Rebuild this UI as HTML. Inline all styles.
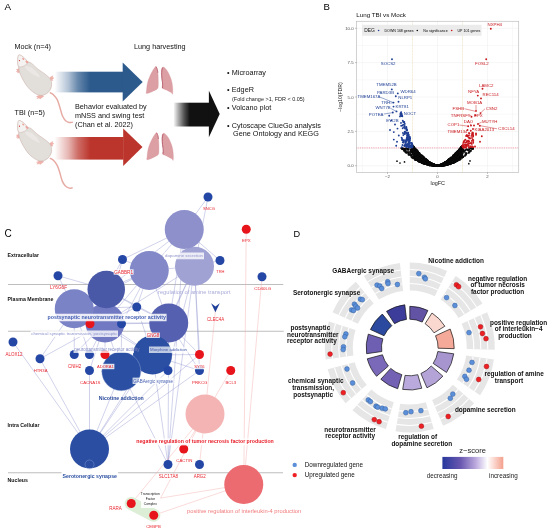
<!DOCTYPE html>
<html lang="en"><head><meta charset="utf-8"><title>Lung TBI vs Mock figure</title>
<style>html,body{margin:0;padding:0;background:#fff;}svg{display:block;font-family:"Liberation Sans",sans-serif;}text{white-space:pre;}</style></head><body>
<svg width="550" height="532" viewBox="0 0 550 532">
<rect width="550" height="532" fill="#fff"/>
<g id="panelA">
<text x="4.50" y="10.20" font-size="9.80" fill="#000">A</text>
<text x="14.50" y="49.00" font-size="7.26" fill="#111">Mock (n=4)</text>
<text x="14.50" y="115.00" font-size="7.26" fill="#111">TBI (n=5)</text>
<text x="134.00" y="49.00" font-size="7.26" fill="#111">Lung harvesting</text>
<text x="75.00" y="109.00" font-size="7.26" fill="#111">Behavior evaluated by</text>
<text x="75.00" y="118.00" font-size="7.26" fill="#111">mNSS and swing test</text>
<text x="75.00" y="127.00" font-size="7.26" fill="#111">(Chan et al. 2022)</text>
<text x="227.00" y="74.50" font-size="7.26" fill="#111">•</text>
<text x="231.75" y="74.50" font-size="7.26" fill="#111">Microarray</text>
<text x="227.00" y="92.00" font-size="7.26" fill="#111">•</text>
<text x="231.75" y="92.00" font-size="7.26" fill="#111">EdgeR</text>
<text x="227.00" y="110.00" font-size="7.26" fill="#111">•</text>
<text x="231.75" y="110.00" font-size="7.26" fill="#111">Volcano plot</text>
<text x="227.00" y="127.50" font-size="7.26" fill="#111">•</text>
<text x="231.75" y="127.50" font-size="7.26" fill="#111">Cytoscape ClueGo analysis</text>
<text x="233.00" y="135.75" font-size="7.26" fill="#111">Gene Ontology and KEGG</text>
<text x="232.00" y="100.75" font-size="5.47" fill="#222">(Fold change &gt;1, FDR &lt; 0.05)</text>
<defs>
<linearGradient id="gb" x1="0" x2="1" y1="0" y2="0"><stop offset="0" stop-color="#2c5a8c" stop-opacity="0"/><stop offset="0.2" stop-color="#2c5a8c" stop-opacity="0.36"/><stop offset="0.34" stop-color="#2c5a8c" stop-opacity="0.72"/><stop offset="0.52" stop-color="#2c5a8c" stop-opacity="1"/></linearGradient>
<linearGradient id="gr" x1="0" x2="1" y1="0" y2="0"><stop offset="0" stop-color="#bb352c" stop-opacity="0"/><stop offset="0.2" stop-color="#bb352c" stop-opacity="0.36"/><stop offset="0.34" stop-color="#bb352c" stop-opacity="0.72"/><stop offset="0.52" stop-color="#bb352c" stop-opacity="1"/></linearGradient>
<linearGradient id="gk" x1="0" x2="1" y1="0" y2="0"><stop offset="0" stop-color="#111" stop-opacity="0"/><stop offset="0.12" stop-color="#111" stop-opacity="0.3"/><stop offset="0.3" stop-color="#111" stop-opacity="0.72"/><stop offset="0.46" stop-color="#111" stop-opacity="1"/></linearGradient>
</defs>
<rect x="54.5" y="71.7" width="68.7" height="20.7" fill="url(#gb)"/>
<polygon points="122.7,62.6 142.7,81.9 122.7,101.4" fill="#2c5a8c"/>
<rect x="54.5" y="137" width="69" height="22.6" fill="url(#gr)"/>
<polygon points="123.2,128.4 142.5,146.9 123.2,166" fill="#bb352c"/>
<rect x="173.3" y="102.7" width="36" height="23.8" fill="url(#gk)"/>
<polygon points="208.9,90.8 219.7,114.1 208.9,137.3" fill="#111"/>
<defs><g id="mouse">
<path d="M50.30,92.80 C50.82,93.12 52.25,93.55 53.40,94.70 C54.55,95.85 56.15,97.70 57.20,99.70 C58.25,101.70 58.85,104.07 59.70,106.70 C60.55,109.33 61.35,113.22 62.30,115.50 C63.25,117.78 64.25,119.23 65.40,120.40 C66.55,121.57 68.05,122.18 69.20,122.50 C70.35,122.82 71.78,122.33 72.30,122.30" fill="none" stroke="#e6aaa3" stroke-width="1.45" stroke-linecap="round"/>
<path d="M19.2,68.6 L16.4,69.6 L17.6,70.4 L16.2,71.6 L18,71.8 L17.6,73 L20,72 Z M49.8,77.6 L52.8,75.8 L52.4,77.6 L54,78 L52.2,79.2 L52.8,80.6 L50.6,80.2 Z M41,94.6 L36.4,96.6 L38.2,97 L36.8,98.6 L39.4,98 L40,99 L43.8,96.2 Z" fill="#f0b2aa" stroke="#e39a92" stroke-width="0.3" stroke-linejoin="round"/>
<path d="M18.80,55.00 C19.60,54.52 21.45,55.77 22.60,56.50 C23.75,57.23 24.87,58.55 25.70,59.40 C26.53,60.25 26.65,60.97 27.60,61.60 C28.55,62.23 29.72,61.98 31.40,63.20 C33.08,64.42 35.18,66.90 37.70,68.90 C40.22,70.90 44.35,73.42 46.50,75.20 C48.65,76.98 49.75,78.13 50.60,79.60 C51.45,81.07 51.55,82.53 51.60,84.00 C51.65,85.47 51.53,86.93 50.90,88.40 C50.27,89.87 49.05,91.68 47.80,92.80 C46.55,93.92 44.77,94.68 43.40,95.10 C42.03,95.52 40.97,95.57 39.60,95.30 C38.23,95.03 36.77,94.43 35.20,93.50 C33.63,92.57 31.67,91.07 30.20,89.70 C28.73,88.33 27.57,86.88 26.40,85.30 C25.23,83.72 24.15,81.88 23.20,80.20 C22.25,78.52 21.38,76.77 20.70,75.20 C20.02,73.63 19.45,72.17 19.10,70.80 C18.75,69.43 18.82,68.15 18.60,67.00 C18.38,65.85 17.93,65.17 17.80,63.90 C17.67,62.63 17.63,60.88 17.80,59.40 C17.97,57.92 18.00,55.48 18.80,55.00 Z" fill="#e2deda" stroke="#c7a9a0" stroke-width="0.5"/>
<path d="M18.80,55.00 C19.60,54.52 21.45,55.77 22.60,56.50 C23.75,57.23 24.87,58.55 25.70,59.40 C26.53,60.25 26.65,60.97 27.60,61.60 C27.2,63.6 26,65 24.5,65.7 C22.8,66.6 20.8,67 19.4,67 C18.7,66.4 17.93,65.17 17.80,63.90 C17.67,62.63 17.63,60.88 17.80,59.40 C17.97,57.92 18.00,55.48 18.80,55.00 Z" fill="#f5f3f1" stroke="#c7a9a0" stroke-width="0.4"/>
<path d="M24.6,66.4 C28,65.6 31,66.6 34,69.4 C37,72.2 39.6,75 40.2,77.4 C37,76.6 33,74.6 30,72.2 C27.4,70.2 25.4,68.4 24.6,66.4 Z" fill="#ebe8e5" opacity="0.9"/>
<ellipse cx="26.9" cy="61.9" rx="1.7" ry="1.05" transform="rotate(42 26.9 61.9)" fill="#eaa69e"/>
<ellipse cx="23.2" cy="58.9" rx="1.3" ry="0.75" transform="rotate(42 23.2 58.9)" fill="#eaa69e"/>
<circle cx="19.5" cy="60.6" r="0.6" fill="#d02828"/>
</g></defs>
<use href="#mouse"/>
<use href="#mouse" transform="translate(0,65.6)"/>
<defs><g id="lungs">
<path d="M155.50,66.70 C154.48,67.48 152.30,71.20 151.00,73.80 C149.70,76.40 148.45,79.48 147.70,82.30 C146.95,85.12 146.67,88.83 146.50,90.70 C146.33,92.57 145.63,93.42 146.70,93.50 C147.77,93.58 151.08,92.05 152.90,91.20 C154.72,90.35 156.70,89.73 157.60,88.40 C158.50,87.07 158.23,85.63 158.30,83.20 C158.37,80.77 158.20,76.15 158.00,73.80 C157.80,71.45 157.52,70.28 157.10,69.10 C156.68,67.92 156.52,65.92 155.50,66.70 Z" fill="#dc9fa4" stroke="#d08a92" stroke-width="0.3"/>
<path d="M162.70,67.20 C162.07,67.67 161.45,69.12 161.30,71.00 C161.15,72.88 161.57,76.47 161.80,78.50 C162.03,80.53 162.62,81.63 162.70,83.20 C162.78,84.77 161.75,86.80 162.30,87.90 C162.85,89.00 164.52,89.02 166.00,89.80 C167.48,90.58 170.10,91.90 171.20,92.60 C172.30,93.30 172.37,94.93 172.60,94.00 C172.83,93.07 172.83,89.43 172.60,87.00 C172.37,84.57 171.98,81.92 171.20,79.40 C170.42,76.88 168.92,73.77 167.90,71.90 C166.88,70.03 165.97,68.98 165.10,68.20 C164.23,67.42 163.33,66.73 162.70,67.20 Z" fill="#dc9fa4" stroke="#d08a92" stroke-width="0.3"/>
<path d="M156.2,66.9 C157.2,68.6 157.7,70.4 157.8,72.4" stroke="#b8606e" stroke-width="0.8" fill="none" stroke-linecap="round"/>
<path d="M162.4,68 C161.5,70.6 161.6,74 161.9,78.5 C162.1,81 162.9,83.4 162.7,85.2 C162.6,86.6 162.3,87.4 162.4,87.8" stroke="#b8606e" stroke-width="0.9" fill="none" stroke-linecap="round"/>
</g></defs>
<use href="#lungs"/>
<use href="#lungs" transform="translate(0.6,66.2)"/>
</g>
<g id="panelB">
<text x="323.60" y="10.20" font-size="9.60" fill="#000">B</text>
<text x="356.25" y="16.75" font-size="6.23" fill="#111">Lung TBI vs Mock</text>
<rect x="356.5" y="21.25" width="162.25" height="151.25" fill="#fff" stroke="none"/>
<line x1="362.5" x2="362.5" y1="21.25" y2="172.5" stroke="#ececec" stroke-width="0.3"/>
<line x1="387.5" x2="387.5" y1="21.25" y2="172.5" stroke="#ececec" stroke-width="0.5"/>
<line x1="412.5" x2="412.5" y1="21.25" y2="172.5" stroke="#ececec" stroke-width="0.3"/>
<line x1="437.5" x2="437.5" y1="21.25" y2="172.5" stroke="#ececec" stroke-width="0.5"/>
<line x1="462.5" x2="462.5" y1="21.25" y2="172.5" stroke="#ececec" stroke-width="0.3"/>
<line x1="487.5" x2="487.5" y1="21.25" y2="172.5" stroke="#ececec" stroke-width="0.5"/>
<line x1="512.5" x2="512.5" y1="21.25" y2="172.5" stroke="#ececec" stroke-width="0.3"/>
<line x1="356.5" x2="518.75" y1="165.75" y2="165.75" stroke="#ececec" stroke-width="0.5"/>
<line x1="356.5" x2="518.75" y1="148.56" y2="148.56" stroke="#ececec" stroke-width="0.3"/>
<line x1="356.5" x2="518.75" y1="131.38" y2="131.38" stroke="#ececec" stroke-width="0.5"/>
<line x1="356.5" x2="518.75" y1="114.19" y2="114.19" stroke="#ececec" stroke-width="0.3"/>
<line x1="356.5" x2="518.75" y1="97.00" y2="97.00" stroke="#ececec" stroke-width="0.5"/>
<line x1="356.5" x2="518.75" y1="79.81" y2="79.81" stroke="#ececec" stroke-width="0.3"/>
<line x1="356.5" x2="518.75" y1="62.62" y2="62.62" stroke="#ececec" stroke-width="0.5"/>
<line x1="356.5" x2="518.75" y1="45.44" y2="45.44" stroke="#ececec" stroke-width="0.3"/>
<line x1="356.5" x2="518.75" y1="28.25" y2="28.25" stroke="#ececec" stroke-width="0.5"/>
<line x1="412.5" x2="412.5" y1="21.25" y2="172.5" stroke="#e8c050" stroke-width="0.45" stroke-dasharray="0.6 0.9" stroke-opacity="0.8"/>
<line x1="462.5" x2="462.5" y1="21.25" y2="172.5" stroke="#e8c050" stroke-width="0.45" stroke-dasharray="0.6 0.9" stroke-opacity="0.8"/>
<line x1="356.5" x2="518.75" y1="147.88" y2="147.88" stroke="#e8506a" stroke-width="0.6" stroke-dasharray="0.9 0.9"/>
<g fill="#0a0a0a">
<circle cx="422.2" cy="156.3" r="0.85"/><circle cx="423.0" cy="159.3" r="0.85"/><circle cx="443.5" cy="163.8" r="0.85"/><circle cx="439.0" cy="165.7" r="0.85"/><circle cx="456.7" cy="154.6" r="0.85"/><circle cx="446.7" cy="161.4" r="0.85"/><circle cx="423.3" cy="162.2" r="0.85"/><circle cx="438.9" cy="165.6" r="0.85"/><circle cx="446.2" cy="165.1" r="0.85"/><circle cx="440.5" cy="165.1" r="0.85"/><circle cx="435.4" cy="165.5" r="0.85"/><circle cx="425.7" cy="162.1" r="0.85"/><circle cx="436.9" cy="165.5" r="0.85"/><circle cx="427.0" cy="163.6" r="0.85"/><circle cx="442.1" cy="164.7" r="0.85"/><circle cx="451.7" cy="160.6" r="0.85"/><circle cx="431.2" cy="165.3" r="0.85"/><circle cx="444.1" cy="164.1" r="0.85"/><circle cx="445.3" cy="162.8" r="0.85"/><circle cx="442.8" cy="164.5" r="0.85"/><circle cx="432.8" cy="165.4" r="0.85"/><circle cx="443.3" cy="165.3" r="0.85"/><circle cx="430.0" cy="163.7" r="0.85"/><circle cx="440.1" cy="164.9" r="0.85"/><circle cx="450.7" cy="163.3" r="0.85"/><circle cx="441.6" cy="164.9" r="0.85"/><circle cx="433.4" cy="165.1" r="0.85"/><circle cx="431.8" cy="164.5" r="0.85"/><circle cx="423.3" cy="162.7" r="0.85"/><circle cx="436.9" cy="165.6" r="0.85"/><circle cx="426.4" cy="163.0" r="0.85"/><circle cx="439.9" cy="165.2" r="0.85"/><circle cx="454.4" cy="159.9" r="0.85"/><circle cx="446.7" cy="163.4" r="0.85"/><circle cx="426.2" cy="163.2" r="0.85"/><circle cx="460.0" cy="150.1" r="0.85"/><circle cx="445.6" cy="162.6" r="0.85"/><circle cx="434.5" cy="164.5" r="0.85"/><circle cx="426.0" cy="162.2" r="0.85"/><circle cx="439.6" cy="165.0" r="0.85"/><circle cx="457.0" cy="158.7" r="0.85"/><circle cx="422.4" cy="161.0" r="0.85"/><circle cx="455.3" cy="161.5" r="0.85"/><circle cx="453.4" cy="156.5" r="0.85"/><circle cx="430.8" cy="163.0" r="0.85"/><circle cx="439.7" cy="165.6" r="0.85"/><circle cx="439.0" cy="165.8" r="0.85"/><circle cx="449.5" cy="163.8" r="0.85"/><circle cx="457.5" cy="151.2" r="0.85"/><circle cx="421.5" cy="158.3" r="0.85"/><circle cx="440.1" cy="165.4" r="0.85"/><circle cx="427.1" cy="160.1" r="0.85"/><circle cx="439.9" cy="165.4" r="0.85"/><circle cx="426.6" cy="159.6" r="0.85"/><circle cx="444.7" cy="163.0" r="0.85"/><circle cx="425.5" cy="160.3" r="0.85"/><circle cx="426.2" cy="159.7" r="0.85"/><circle cx="446.5" cy="162.2" r="0.85"/><circle cx="448.2" cy="161.9" r="0.85"/><circle cx="425.3" cy="160.6" r="0.85"/><circle cx="453.1" cy="155.4" r="0.85"/><circle cx="452.2" cy="160.9" r="0.85"/><circle cx="436.0" cy="165.8" r="0.85"/><circle cx="440.3" cy="165.1" r="0.85"/><circle cx="454.2" cy="158.6" r="0.85"/><circle cx="439.9" cy="165.0" r="0.85"/><circle cx="416.3" cy="157.9" r="0.85"/><circle cx="448.1" cy="161.5" r="0.85"/><circle cx="439.7" cy="164.9" r="0.85"/><circle cx="430.3" cy="162.9" r="0.85"/><circle cx="428.9" cy="164.1" r="0.85"/><circle cx="417.0" cy="151.0" r="0.85"/><circle cx="446.5" cy="162.9" r="0.85"/><circle cx="434.8" cy="165.1" r="0.85"/><circle cx="450.1" cy="160.3" r="0.85"/><circle cx="447.1" cy="164.2" r="0.85"/><circle cx="428.0" cy="163.9" r="0.85"/><circle cx="422.5" cy="159.6" r="0.85"/><circle cx="428.0" cy="160.6" r="0.85"/><circle cx="432.8" cy="165.5" r="0.85"/><circle cx="440.0" cy="165.2" r="0.85"/><circle cx="427.8" cy="161.6" r="0.85"/><circle cx="444.2" cy="164.2" r="0.85"/><circle cx="460.7" cy="156.3" r="0.85"/><circle cx="440.0" cy="165.2" r="0.85"/><circle cx="420.9" cy="157.2" r="0.85"/><circle cx="448.6" cy="161.6" r="0.85"/><circle cx="441.9" cy="165.1" r="0.85"/><circle cx="451.6" cy="158.9" r="0.85"/><circle cx="441.8" cy="164.9" r="0.85"/><circle cx="432.6" cy="164.7" r="0.85"/><circle cx="438.0" cy="165.7" r="0.85"/><circle cx="441.9" cy="164.2" r="0.85"/><circle cx="436.4" cy="165.6" r="0.85"/><circle cx="418.2" cy="158.0" r="0.85"/><circle cx="414.2" cy="149.6" r="0.85"/><circle cx="450.6" cy="160.1" r="0.85"/><circle cx="443.1" cy="163.5" r="0.85"/><circle cx="425.0" cy="163.1" r="0.85"/><circle cx="416.9" cy="150.8" r="0.85"/><circle cx="432.4" cy="164.6" r="0.85"/><circle cx="424.3" cy="161.6" r="0.85"/><circle cx="444.2" cy="163.9" r="0.85"/><circle cx="423.1" cy="163.3" r="0.85"/><circle cx="433.3" cy="164.4" r="0.85"/><circle cx="447.5" cy="161.3" r="0.85"/><circle cx="443.0" cy="164.5" r="0.85"/><circle cx="413.9" cy="150.2" r="0.85"/><circle cx="432.6" cy="163.8" r="0.85"/><circle cx="442.1" cy="164.8" r="0.85"/><circle cx="457.1" cy="155.3" r="0.85"/><circle cx="434.1" cy="165.1" r="0.85"/><circle cx="448.8" cy="160.1" r="0.85"/><circle cx="432.5" cy="163.8" r="0.85"/><circle cx="434.5" cy="165.0" r="0.85"/><circle cx="452.3" cy="159.9" r="0.85"/><circle cx="435.7" cy="165.3" r="0.85"/><circle cx="436.2" cy="165.6" r="0.85"/><circle cx="431.9" cy="163.8" r="0.85"/><circle cx="443.8" cy="164.0" r="0.85"/><circle cx="429.9" cy="164.5" r="0.85"/><circle cx="438.6" cy="165.4" r="0.85"/><circle cx="412.9" cy="152.2" r="0.85"/><circle cx="444.9" cy="163.3" r="0.85"/><circle cx="434.5" cy="164.8" r="0.85"/><circle cx="438.7" cy="165.7" r="0.85"/><circle cx="427.3" cy="163.2" r="0.85"/><circle cx="433.5" cy="164.4" r="0.85"/><circle cx="447.9" cy="163.4" r="0.85"/><circle cx="452.0" cy="160.6" r="0.85"/><circle cx="446.6" cy="162.9" r="0.85"/><circle cx="444.6" cy="163.7" r="0.85"/><circle cx="425.8" cy="160.2" r="0.85"/><circle cx="421.6" cy="161.1" r="0.85"/><circle cx="414.7" cy="148.9" r="0.85"/><circle cx="447.5" cy="160.7" r="0.85"/><circle cx="442.6" cy="165.2" r="0.85"/><circle cx="436.1" cy="165.8" r="0.85"/><circle cx="444.0" cy="163.6" r="0.85"/><circle cx="446.4" cy="162.3" r="0.85"/><circle cx="445.8" cy="162.8" r="0.85"/><circle cx="420.1" cy="161.7" r="0.85"/><circle cx="436.7" cy="165.6" r="0.85"/><circle cx="430.1" cy="165.0" r="0.85"/><circle cx="439.6" cy="165.6" r="0.85"/><circle cx="436.0" cy="165.6" r="0.85"/><circle cx="445.2" cy="162.1" r="0.85"/><circle cx="435.8" cy="165.2" r="0.85"/><circle cx="449.2" cy="161.9" r="0.85"/><circle cx="426.4" cy="162.4" r="0.85"/><circle cx="436.2" cy="165.1" r="0.85"/><circle cx="439.1" cy="165.2" r="0.85"/><circle cx="450.0" cy="160.0" r="0.85"/><circle cx="442.1" cy="165.3" r="0.85"/><circle cx="437.3" cy="165.4" r="0.85"/><circle cx="419.0" cy="154.0" r="0.85"/><circle cx="428.3" cy="163.2" r="0.85"/><circle cx="436.5" cy="165.4" r="0.85"/><circle cx="436.7" cy="165.8" r="0.85"/><circle cx="415.4" cy="149.6" r="0.85"/><circle cx="430.2" cy="163.4" r="0.85"/><circle cx="420.9" cy="161.9" r="0.85"/><circle cx="429.8" cy="165.0" r="0.85"/><circle cx="426.5" cy="161.3" r="0.85"/><circle cx="440.9" cy="164.4" r="0.85"/><circle cx="427.9" cy="162.3" r="0.85"/><circle cx="425.3" cy="158.8" r="0.85"/><circle cx="425.3" cy="160.3" r="0.85"/><circle cx="440.2" cy="165.2" r="0.85"/><circle cx="436.8" cy="165.8" r="0.85"/><circle cx="445.3" cy="163.9" r="0.85"/><circle cx="445.2" cy="162.3" r="0.85"/><circle cx="423.3" cy="157.2" r="0.85"/><circle cx="420.6" cy="157.2" r="0.85"/><circle cx="432.9" cy="164.6" r="0.85"/><circle cx="433.7" cy="164.3" r="0.85"/><circle cx="449.4" cy="163.6" r="0.85"/><circle cx="438.0" cy="165.5" r="0.85"/><circle cx="433.1" cy="164.9" r="0.85"/><circle cx="430.6" cy="164.7" r="0.85"/><circle cx="424.2" cy="162.1" r="0.85"/><circle cx="427.3" cy="164.6" r="0.85"/><circle cx="441.2" cy="165.4" r="0.85"/><circle cx="425.1" cy="159.1" r="0.85"/><circle cx="433.5" cy="164.2" r="0.85"/><circle cx="435.8" cy="165.4" r="0.85"/><circle cx="443.6" cy="163.2" r="0.85"/><circle cx="452.7" cy="156.4" r="0.85"/><circle cx="423.7" cy="157.2" r="0.85"/><circle cx="422.0" cy="162.4" r="0.85"/><circle cx="427.8" cy="163.7" r="0.85"/><circle cx="442.4" cy="165.6" r="0.85"/><circle cx="444.0" cy="164.3" r="0.85"/><circle cx="454.0" cy="159.3" r="0.85"/><circle cx="422.4" cy="155.7" r="0.85"/><circle cx="431.5" cy="164.6" r="0.85"/><circle cx="454.8" cy="155.8" r="0.85"/><circle cx="429.2" cy="164.3" r="0.85"/><circle cx="422.7" cy="159.4" r="0.85"/><circle cx="422.0" cy="161.6" r="0.85"/><circle cx="459.7" cy="159.6" r="0.85"/><circle cx="446.7" cy="163.2" r="0.85"/><circle cx="433.3" cy="164.9" r="0.85"/><circle cx="442.3" cy="164.4" r="0.85"/><circle cx="420.7" cy="159.6" r="0.85"/><circle cx="429.0" cy="163.8" r="0.85"/><circle cx="436.7" cy="165.8" r="0.85"/><circle cx="454.1" cy="157.3" r="0.85"/><circle cx="438.5" cy="165.7" r="0.85"/><circle cx="436.3" cy="165.2" r="0.85"/><circle cx="416.1" cy="157.2" r="0.85"/><circle cx="417.8" cy="152.1" r="0.85"/><circle cx="426.7" cy="164.0" r="0.85"/><circle cx="441.1" cy="165.6" r="0.85"/><circle cx="424.3" cy="159.8" r="0.85"/><circle cx="431.0" cy="164.8" r="0.85"/><circle cx="441.7" cy="165.2" r="0.85"/><circle cx="430.8" cy="163.3" r="0.85"/><circle cx="436.1" cy="165.4" r="0.85"/><circle cx="435.7" cy="165.8" r="0.85"/><circle cx="433.4" cy="164.6" r="0.85"/><circle cx="427.3" cy="162.7" r="0.85"/><circle cx="427.4" cy="163.7" r="0.85"/><circle cx="454.7" cy="154.8" r="0.85"/><circle cx="449.3" cy="162.5" r="0.85"/><circle cx="447.0" cy="163.2" r="0.85"/><circle cx="452.6" cy="157.8" r="0.85"/><circle cx="431.5" cy="164.0" r="0.85"/><circle cx="456.4" cy="153.3" r="0.85"/><circle cx="440.1" cy="165.5" r="0.85"/><circle cx="433.1" cy="164.3" r="0.85"/><circle cx="419.1" cy="161.6" r="0.85"/><circle cx="431.1" cy="164.9" r="0.85"/><circle cx="447.5" cy="160.6" r="0.85"/><circle cx="446.5" cy="164.4" r="0.85"/><circle cx="419.4" cy="159.7" r="0.85"/><circle cx="458.4" cy="154.9" r="0.85"/><circle cx="425.0" cy="161.9" r="0.85"/><circle cx="433.8" cy="165.4" r="0.85"/><circle cx="432.9" cy="164.2" r="0.85"/><circle cx="431.0" cy="163.5" r="0.85"/><circle cx="416.3" cy="151.4" r="0.85"/><circle cx="414.9" cy="148.4" r="0.85"/><circle cx="425.8" cy="160.5" r="0.85"/><circle cx="425.1" cy="161.6" r="0.85"/><circle cx="453.8" cy="155.0" r="0.85"/><circle cx="442.8" cy="165.3" r="0.85"/><circle cx="442.2" cy="163.8" r="0.85"/><circle cx="441.4" cy="165.7" r="0.85"/><circle cx="420.2" cy="160.6" r="0.85"/><circle cx="442.8" cy="164.4" r="0.85"/><circle cx="435.7" cy="165.6" r="0.85"/><circle cx="445.5" cy="164.4" r="0.85"/><circle cx="421.1" cy="160.8" r="0.85"/><circle cx="446.8" cy="164.2" r="0.85"/><circle cx="426.7" cy="161.9" r="0.85"/><circle cx="424.5" cy="162.0" r="0.85"/><circle cx="419.5" cy="159.4" r="0.85"/><circle cx="428.3" cy="163.1" r="0.85"/><circle cx="441.4" cy="164.3" r="0.85"/><circle cx="425.8" cy="161.7" r="0.85"/><circle cx="436.5" cy="165.4" r="0.85"/><circle cx="429.8" cy="165.3" r="0.85"/><circle cx="439.6" cy="165.2" r="0.85"/><circle cx="420.9" cy="161.2" r="0.85"/><circle cx="446.7" cy="163.7" r="0.85"/><circle cx="426.5" cy="161.3" r="0.85"/><circle cx="437.1" cy="165.4" r="0.85"/><circle cx="454.9" cy="162.1" r="0.85"/><circle cx="415.7" cy="150.7" r="0.85"/><circle cx="442.4" cy="164.1" r="0.85"/><circle cx="445.7" cy="163.3" r="0.85"/><circle cx="432.9" cy="164.3" r="0.85"/><circle cx="458.3" cy="156.1" r="0.85"/><circle cx="434.8" cy="164.9" r="0.85"/><circle cx="452.6" cy="159.2" r="0.85"/><circle cx="457.2" cy="158.1" r="0.85"/><circle cx="442.1" cy="165.4" r="0.85"/><circle cx="441.6" cy="165.2" r="0.85"/><circle cx="432.0" cy="165.2" r="0.85"/><circle cx="445.3" cy="162.6" r="0.85"/><circle cx="435.9" cy="165.6" r="0.85"/><circle cx="428.6" cy="162.9" r="0.85"/><circle cx="438.0" cy="165.4" r="0.85"/><circle cx="429.4" cy="163.2" r="0.85"/><circle cx="449.3" cy="161.5" r="0.85"/><circle cx="448.3" cy="162.8" r="0.85"/><circle cx="429.2" cy="164.4" r="0.85"/><circle cx="426.4" cy="160.2" r="0.85"/><circle cx="429.8" cy="164.1" r="0.85"/><circle cx="432.6" cy="165.0" r="0.85"/><circle cx="448.0" cy="161.3" r="0.85"/><circle cx="449.0" cy="160.2" r="0.85"/><circle cx="434.5" cy="165.4" r="0.85"/><circle cx="442.9" cy="164.3" r="0.85"/><circle cx="449.9" cy="162.0" r="0.85"/><circle cx="436.2" cy="165.3" r="0.85"/><circle cx="426.4" cy="162.9" r="0.85"/><circle cx="438.7" cy="165.7" r="0.85"/><circle cx="442.0" cy="164.9" r="0.85"/><circle cx="448.6" cy="162.8" r="0.85"/><circle cx="434.0" cy="165.3" r="0.85"/><circle cx="415.5" cy="150.6" r="0.85"/><circle cx="431.9" cy="164.0" r="0.85"/><circle cx="450.4" cy="162.0" r="0.85"/><circle cx="430.6" cy="163.4" r="0.85"/><circle cx="452.5" cy="158.2" r="0.85"/><circle cx="441.7" cy="164.4" r="0.85"/><circle cx="431.7" cy="165.4" r="0.85"/><circle cx="438.1" cy="165.2" r="0.85"/><circle cx="423.8" cy="161.0" r="0.85"/><circle cx="431.2" cy="163.1" r="0.85"/><circle cx="455.3" cy="157.0" r="0.85"/><circle cx="422.6" cy="161.5" r="0.85"/><circle cx="416.5" cy="151.8" r="0.85"/><circle cx="433.7" cy="164.7" r="0.85"/><circle cx="438.4" cy="165.1" r="0.85"/><circle cx="443.7" cy="165.0" r="0.85"/><circle cx="445.2" cy="162.2" r="0.85"/><circle cx="454.5" cy="160.0" r="0.85"/><circle cx="427.8" cy="163.5" r="0.85"/><circle cx="418.6" cy="161.6" r="0.85"/><circle cx="441.9" cy="165.1" r="0.85"/><circle cx="425.2" cy="163.0" r="0.85"/><circle cx="427.8" cy="162.5" r="0.85"/><circle cx="428.7" cy="164.6" r="0.85"/><circle cx="434.2" cy="164.7" r="0.85"/><circle cx="426.1" cy="162.5" r="0.85"/><circle cx="423.9" cy="159.2" r="0.85"/><circle cx="437.7" cy="165.7" r="0.85"/><circle cx="450.4" cy="161.9" r="0.85"/><circle cx="422.7" cy="156.9" r="0.85"/><circle cx="422.5" cy="160.2" r="0.85"/><circle cx="446.6" cy="164.8" r="0.85"/><circle cx="433.4" cy="165.0" r="0.85"/><circle cx="420.4" cy="160.1" r="0.85"/><circle cx="433.5" cy="165.5" r="0.85"/><circle cx="423.5" cy="161.0" r="0.85"/><circle cx="455.7" cy="157.0" r="0.85"/><circle cx="438.2" cy="165.4" r="0.85"/><circle cx="437.9" cy="165.4" r="0.85"/><circle cx="455.6" cy="154.2" r="0.85"/><circle cx="417.6" cy="158.7" r="0.85"/><circle cx="437.2" cy="165.7" r="0.85"/><circle cx="455.5" cy="160.7" r="0.85"/><circle cx="430.3" cy="165.2" r="0.85"/><circle cx="448.0" cy="162.7" r="0.85"/><circle cx="447.7" cy="161.3" r="0.85"/><circle cx="444.6" cy="163.6" r="0.85"/><circle cx="438.4" cy="165.5" r="0.85"/><circle cx="451.2" cy="157.5" r="0.85"/><circle cx="435.5" cy="165.7" r="0.85"/><circle cx="444.1" cy="163.4" r="0.85"/><circle cx="428.9" cy="164.2" r="0.85"/><circle cx="442.8" cy="164.9" r="0.85"/><circle cx="440.4" cy="165.6" r="0.85"/><circle cx="435.9" cy="165.4" r="0.85"/><circle cx="451.0" cy="163.2" r="0.85"/><circle cx="427.7" cy="163.4" r="0.85"/><circle cx="445.3" cy="164.1" r="0.85"/><circle cx="435.5" cy="165.7" r="0.85"/><circle cx="439.2" cy="165.0" r="0.85"/><circle cx="424.7" cy="158.6" r="0.85"/><circle cx="429.9" cy="164.4" r="0.85"/><circle cx="454.1" cy="160.5" r="0.85"/><circle cx="434.0" cy="164.6" r="0.85"/><circle cx="423.2" cy="159.9" r="0.85"/><circle cx="453.7" cy="160.5" r="0.85"/><circle cx="437.4" cy="165.4" r="0.85"/><circle cx="432.9" cy="164.8" r="0.85"/><circle cx="434.6" cy="165.3" r="0.85"/><circle cx="415.1" cy="159.7" r="0.85"/><circle cx="442.5" cy="164.6" r="0.85"/><circle cx="431.2" cy="165.2" r="0.85"/><circle cx="431.3" cy="164.8" r="0.85"/><circle cx="419.2" cy="157.5" r="0.85"/><circle cx="436.6" cy="165.8" r="0.85"/><circle cx="433.5" cy="165.4" r="0.85"/><circle cx="430.1" cy="163.5" r="0.85"/><circle cx="450.9" cy="158.9" r="0.85"/><circle cx="416.0" cy="157.7" r="0.85"/><circle cx="438.1" cy="165.6" r="0.85"/><circle cx="437.5" cy="165.6" r="0.85"/><circle cx="421.6" cy="156.2" r="0.85"/><circle cx="444.0" cy="165.5" r="0.85"/><circle cx="437.8" cy="165.6" r="0.85"/><circle cx="459.8" cy="158.7" r="0.85"/><circle cx="428.6" cy="162.9" r="0.85"/><circle cx="428.6" cy="164.4" r="0.85"/><circle cx="440.9" cy="165.5" r="0.85"/><circle cx="427.0" cy="163.5" r="0.85"/><circle cx="434.7" cy="164.9" r="0.85"/><circle cx="445.9" cy="164.6" r="0.85"/><circle cx="415.6" cy="150.8" r="0.85"/><circle cx="442.3" cy="164.8" r="0.85"/><circle cx="451.5" cy="158.6" r="0.85"/><circle cx="444.5" cy="164.1" r="0.85"/><circle cx="437.4" cy="165.7" r="0.85"/><circle cx="442.8" cy="164.8" r="0.85"/><circle cx="433.6" cy="165.3" r="0.85"/><circle cx="446.4" cy="162.2" r="0.85"/><circle cx="428.5" cy="164.1" r="0.85"/><circle cx="434.5" cy="165.1" r="0.85"/><circle cx="432.6" cy="164.7" r="0.85"/><circle cx="435.5" cy="165.8" r="0.85"/><circle cx="447.9" cy="164.6" r="0.85"/><circle cx="453.5" cy="156.5" r="0.85"/><circle cx="423.4" cy="160.9" r="0.85"/><circle cx="452.5" cy="160.5" r="0.85"/><circle cx="429.0" cy="163.7" r="0.85"/><circle cx="451.9" cy="162.3" r="0.85"/><circle cx="445.8" cy="163.6" r="0.85"/><circle cx="450.2" cy="158.5" r="0.85"/><circle cx="415.0" cy="157.3" r="0.85"/><circle cx="440.8" cy="165.0" r="0.85"/><circle cx="445.1" cy="165.1" r="0.85"/><circle cx="446.4" cy="163.2" r="0.85"/><circle cx="428.3" cy="164.0" r="0.85"/><circle cx="443.0" cy="163.8" r="0.85"/><circle cx="453.9" cy="156.9" r="0.85"/><circle cx="436.1" cy="165.6" r="0.85"/><circle cx="441.0" cy="164.8" r="0.85"/><circle cx="456.6" cy="156.3" r="0.85"/><circle cx="441.7" cy="165.1" r="0.85"/><circle cx="439.3" cy="165.2" r="0.85"/><circle cx="439.6" cy="165.5" r="0.85"/><circle cx="435.7" cy="165.3" r="0.85"/><circle cx="457.6" cy="154.1" r="0.85"/><circle cx="444.3" cy="164.6" r="0.85"/><circle cx="425.1" cy="161.8" r="0.85"/><circle cx="430.8" cy="164.7" r="0.85"/><circle cx="444.7" cy="164.9" r="0.85"/><circle cx="440.2" cy="165.0" r="0.85"/><circle cx="432.0" cy="163.3" r="0.85"/><circle cx="441.5" cy="164.4" r="0.85"/><circle cx="461.7" cy="155.7" r="0.85"/><circle cx="433.8" cy="165.2" r="0.85"/><circle cx="434.1" cy="165.2" r="0.85"/><circle cx="430.6" cy="164.3" r="0.85"/><circle cx="444.4" cy="163.9" r="0.85"/><circle cx="446.7" cy="163.7" r="0.85"/><circle cx="447.0" cy="163.0" r="0.85"/><circle cx="447.1" cy="161.7" r="0.85"/><circle cx="419.2" cy="161.8" r="0.85"/><circle cx="428.3" cy="164.5" r="0.85"/><circle cx="434.0" cy="165.0" r="0.85"/><circle cx="425.4" cy="162.6" r="0.85"/><circle cx="437.4" cy="165.6" r="0.85"/><circle cx="450.1" cy="162.7" r="0.85"/><circle cx="433.6" cy="165.1" r="0.85"/><circle cx="414.2" cy="155.1" r="0.85"/><circle cx="423.7" cy="159.0" r="0.85"/><circle cx="425.0" cy="161.9" r="0.85"/><circle cx="442.6" cy="163.9" r="0.85"/><circle cx="429.1" cy="161.9" r="0.85"/><circle cx="439.1" cy="165.5" r="0.85"/><circle cx="448.5" cy="159.7" r="0.85"/><circle cx="444.1" cy="164.8" r="0.85"/><circle cx="429.2" cy="165.3" r="0.85"/><circle cx="434.1" cy="165.7" r="0.85"/><circle cx="438.2" cy="165.7" r="0.85"/><circle cx="426.2" cy="160.1" r="0.85"/><circle cx="435.3" cy="165.3" r="0.85"/><circle cx="430.4" cy="163.4" r="0.85"/><circle cx="419.6" cy="153.4" r="0.85"/><circle cx="430.9" cy="164.1" r="0.85"/><circle cx="438.4" cy="165.7" r="0.85"/><circle cx="457.8" cy="155.4" r="0.85"/><circle cx="446.9" cy="163.5" r="0.85"/><circle cx="451.0" cy="162.9" r="0.85"/><circle cx="439.3" cy="165.7" r="0.85"/><circle cx="431.6" cy="164.4" r="0.85"/><circle cx="423.3" cy="162.2" r="0.85"/><circle cx="418.7" cy="161.1" r="0.85"/><circle cx="452.4" cy="157.9" r="0.85"/><circle cx="449.9" cy="162.7" r="0.85"/><circle cx="426.6" cy="162.9" r="0.85"/><circle cx="413.5" cy="148.5" r="0.85"/><circle cx="432.1" cy="164.4" r="0.85"/><circle cx="421.0" cy="156.1" r="0.85"/><circle cx="446.1" cy="162.7" r="0.85"/><circle cx="445.4" cy="165.5" r="0.85"/><circle cx="422.3" cy="155.9" r="0.85"/><circle cx="451.7" cy="160.9" r="0.85"/><circle cx="428.3" cy="161.3" r="0.85"/><circle cx="437.2" cy="165.5" r="0.85"/><circle cx="440.0" cy="165.5" r="0.85"/><circle cx="445.6" cy="164.9" r="0.85"/><circle cx="423.7" cy="161.3" r="0.85"/><circle cx="429.3" cy="162.0" r="0.85"/><circle cx="434.9" cy="165.0" r="0.85"/><circle cx="440.9" cy="165.8" r="0.85"/><circle cx="432.1" cy="164.2" r="0.85"/><circle cx="442.2" cy="165.3" r="0.85"/><circle cx="446.2" cy="163.3" r="0.85"/><circle cx="445.5" cy="164.9" r="0.85"/><circle cx="431.1" cy="163.9" r="0.85"/><circle cx="436.1" cy="165.4" r="0.85"/><circle cx="431.1" cy="165.1" r="0.85"/><circle cx="461.8" cy="154.4" r="0.85"/><circle cx="444.5" cy="163.9" r="0.85"/><circle cx="445.9" cy="162.1" r="0.85"/><circle cx="424.6" cy="159.2" r="0.85"/><circle cx="434.1" cy="165.0" r="0.85"/><circle cx="427.9" cy="163.9" r="0.85"/><circle cx="460.7" cy="147.4" r="0.85"/><circle cx="415.3" cy="151.4" r="0.85"/><circle cx="438.8" cy="165.6" r="0.85"/><circle cx="441.1" cy="165.2" r="0.85"/><circle cx="437.7" cy="165.8" r="0.85"/><circle cx="446.1" cy="161.7" r="0.85"/><circle cx="452.8" cy="157.2" r="0.85"/><circle cx="442.9" cy="165.1" r="0.85"/><circle cx="445.2" cy="163.2" r="0.85"/><circle cx="443.2" cy="163.5" r="0.85"/><circle cx="421.5" cy="160.8" r="0.85"/><circle cx="439.8" cy="165.3" r="0.85"/><circle cx="439.3" cy="165.3" r="0.85"/><circle cx="424.9" cy="162.3" r="0.85"/><circle cx="429.9" cy="164.5" r="0.85"/><circle cx="446.6" cy="164.7" r="0.85"/><circle cx="427.1" cy="163.4" r="0.85"/><circle cx="436.8" cy="165.8" r="0.85"/><circle cx="440.1" cy="165.5" r="0.85"/><circle cx="429.7" cy="164.9" r="0.85"/><circle cx="424.8" cy="162.2" r="0.85"/><circle cx="430.4" cy="164.6" r="0.85"/><circle cx="430.0" cy="162.5" r="0.85"/><circle cx="460.8" cy="153.8" r="0.85"/><circle cx="435.5" cy="165.5" r="0.85"/><circle cx="430.0" cy="164.6" r="0.85"/><circle cx="434.0" cy="165.1" r="0.85"/><circle cx="444.6" cy="163.6" r="0.85"/><circle cx="424.6" cy="162.5" r="0.85"/><circle cx="418.0" cy="153.2" r="0.85"/><circle cx="427.3" cy="162.4" r="0.85"/><circle cx="455.5" cy="155.6" r="0.85"/><circle cx="419.8" cy="158.4" r="0.85"/><circle cx="430.7" cy="163.7" r="0.85"/><circle cx="424.0" cy="163.7" r="0.85"/><circle cx="428.0" cy="162.7" r="0.85"/><circle cx="413.5" cy="157.1" r="0.85"/><circle cx="445.2" cy="163.1" r="0.85"/><circle cx="456.3" cy="152.6" r="0.85"/><circle cx="452.0" cy="162.3" r="0.85"/><circle cx="436.6" cy="165.5" r="0.85"/><circle cx="422.2" cy="156.2" r="0.85"/><circle cx="417.9" cy="156.1" r="0.85"/><circle cx="437.3" cy="165.5" r="0.85"/><circle cx="428.3" cy="162.1" r="0.85"/><circle cx="441.9" cy="164.2" r="0.85"/><circle cx="447.0" cy="162.0" r="0.85"/><circle cx="444.6" cy="163.3" r="0.85"/><circle cx="438.0" cy="165.3" r="0.85"/><circle cx="420.6" cy="157.6" r="0.85"/><circle cx="425.0" cy="163.3" r="0.85"/><circle cx="441.8" cy="165.8" r="0.85"/><circle cx="458.1" cy="151.8" r="0.85"/><circle cx="442.8" cy="164.6" r="0.85"/><circle cx="423.4" cy="157.1" r="0.85"/><circle cx="453.7" cy="161.5" r="0.85"/><circle cx="418.9" cy="154.9" r="0.85"/><circle cx="455.1" cy="158.3" r="0.85"/><circle cx="438.6" cy="165.7" r="0.85"/><circle cx="430.1" cy="163.6" r="0.85"/><circle cx="430.1" cy="164.9" r="0.85"/><circle cx="424.4" cy="162.7" r="0.85"/><circle cx="457.3" cy="155.1" r="0.85"/><circle cx="443.9" cy="163.1" r="0.85"/><circle cx="418.4" cy="158.1" r="0.85"/><circle cx="449.4" cy="163.6" r="0.85"/><circle cx="427.8" cy="161.7" r="0.85"/><circle cx="445.0" cy="163.6" r="0.85"/><circle cx="433.4" cy="164.6" r="0.85"/><circle cx="453.9" cy="160.3" r="0.85"/><circle cx="430.1" cy="162.9" r="0.85"/><circle cx="425.2" cy="159.2" r="0.85"/><circle cx="450.9" cy="160.2" r="0.85"/><circle cx="439.0" cy="165.6" r="0.85"/><circle cx="450.7" cy="158.2" r="0.85"/><circle cx="456.1" cy="155.5" r="0.85"/><circle cx="450.4" cy="163.1" r="0.85"/><circle cx="431.7" cy="164.8" r="0.85"/><circle cx="456.9" cy="153.2" r="0.85"/><circle cx="429.0" cy="164.6" r="0.85"/><circle cx="434.2" cy="165.5" r="0.85"/><circle cx="451.7" cy="159.3" r="0.85"/><circle cx="459.7" cy="148.6" r="0.85"/><circle cx="440.1" cy="165.5" r="0.85"/><circle cx="448.2" cy="163.2" r="0.85"/><circle cx="422.5" cy="155.7" r="0.85"/><circle cx="431.7" cy="164.5" r="0.85"/><circle cx="421.6" cy="157.4" r="0.85"/><circle cx="437.4" cy="165.8" r="0.85"/><circle cx="448.1" cy="163.4" r="0.85"/><circle cx="436.9" cy="165.5" r="0.85"/><circle cx="447.3" cy="161.6" r="0.85"/><circle cx="441.3" cy="165.1" r="0.85"/><circle cx="423.1" cy="161.6" r="0.85"/><circle cx="418.7" cy="154.2" r="0.85"/><circle cx="447.1" cy="164.4" r="0.85"/><circle cx="414.3" cy="148.2" r="0.85"/><circle cx="439.3" cy="165.5" r="0.85"/><circle cx="436.2" cy="165.4" r="0.85"/><circle cx="451.6" cy="162.8" r="0.85"/><circle cx="434.8" cy="165.8" r="0.85"/><circle cx="436.7" cy="165.5" r="0.85"/><circle cx="450.4" cy="163.6" r="0.85"/><circle cx="450.9" cy="160.7" r="0.85"/><circle cx="443.7" cy="165.1" r="0.85"/><circle cx="431.6" cy="163.6" r="0.85"/><circle cx="435.5" cy="165.0" r="0.85"/><circle cx="413.2" cy="153.1" r="0.85"/><circle cx="438.0" cy="165.5" r="0.85"/><circle cx="417.9" cy="159.7" r="0.85"/><circle cx="436.9" cy="165.8" r="0.85"/><circle cx="422.4" cy="163.2" r="0.85"/><circle cx="433.1" cy="165.2" r="0.85"/><circle cx="458.9" cy="156.4" r="0.85"/><circle cx="419.3" cy="153.9" r="0.85"/><circle cx="452.8" cy="159.6" r="0.85"/><circle cx="447.8" cy="163.5" r="0.85"/><circle cx="436.9" cy="165.8" r="0.85"/><circle cx="424.7" cy="161.8" r="0.85"/><circle cx="425.1" cy="163.7" r="0.85"/><circle cx="439.8" cy="165.4" r="0.85"/><circle cx="425.4" cy="163.1" r="0.85"/><circle cx="447.3" cy="163.4" r="0.85"/><circle cx="428.5" cy="162.2" r="0.85"/><circle cx="435.8" cy="165.5" r="0.85"/><circle cx="439.0" cy="165.4" r="0.85"/><circle cx="449.1" cy="161.3" r="0.85"/><circle cx="430.3" cy="163.4" r="0.85"/><circle cx="428.3" cy="163.1" r="0.85"/><circle cx="416.7" cy="160.1" r="0.85"/><circle cx="445.4" cy="164.2" r="0.85"/><circle cx="441.2" cy="164.8" r="0.85"/><circle cx="429.1" cy="162.7" r="0.85"/><circle cx="455.9" cy="154.3" r="0.85"/><circle cx="447.1" cy="161.4" r="0.85"/><circle cx="420.1" cy="161.8" r="0.85"/><circle cx="433.6" cy="165.3" r="0.85"/><circle cx="428.3" cy="162.0" r="0.85"/><circle cx="441.6" cy="164.6" r="0.85"/><circle cx="436.9" cy="165.8" r="0.85"/><circle cx="446.8" cy="161.0" r="0.85"/><circle cx="435.0" cy="165.4" r="0.85"/><circle cx="445.1" cy="164.3" r="0.85"/><circle cx="441.8" cy="165.6" r="0.85"/><circle cx="455.9" cy="160.9" r="0.85"/><circle cx="453.3" cy="158.0" r="0.85"/><circle cx="435.7" cy="165.8" r="0.85"/><circle cx="427.1" cy="163.9" r="0.85"/><circle cx="445.4" cy="162.2" r="0.85"/><circle cx="455.3" cy="157.7" r="0.85"/><circle cx="440.1" cy="165.6" r="0.85"/><circle cx="418.4" cy="157.7" r="0.85"/><circle cx="438.6" cy="165.5" r="0.85"/><circle cx="445.8" cy="164.2" r="0.85"/><circle cx="433.2" cy="165.0" r="0.85"/><circle cx="424.8" cy="161.9" r="0.85"/><circle cx="416.0" cy="156.5" r="0.85"/><circle cx="425.1" cy="158.8" r="0.85"/><circle cx="428.4" cy="163.8" r="0.85"/><circle cx="436.1" cy="165.1" r="0.85"/><circle cx="437.3" cy="165.4" r="0.85"/><circle cx="423.2" cy="160.4" r="0.85"/><circle cx="425.7" cy="159.3" r="0.85"/><circle cx="449.1" cy="161.9" r="0.85"/><circle cx="439.9" cy="165.3" r="0.85"/><circle cx="429.1" cy="164.6" r="0.85"/><circle cx="432.3" cy="164.8" r="0.85"/><circle cx="433.9" cy="164.4" r="0.85"/><circle cx="439.6" cy="165.8" r="0.85"/><circle cx="439.4" cy="165.7" r="0.85"/><circle cx="420.8" cy="161.6" r="0.85"/><circle cx="439.0" cy="165.5" r="0.85"/><circle cx="454.5" cy="159.6" r="0.85"/><circle cx="456.5" cy="158.9" r="0.85"/><circle cx="450.1" cy="162.8" r="0.85"/><circle cx="437.5" cy="165.6" r="0.85"/><circle cx="437.3" cy="165.5" r="0.85"/><circle cx="447.3" cy="163.5" r="0.85"/><circle cx="435.3" cy="165.2" r="0.85"/><circle cx="442.7" cy="164.0" r="0.85"/><circle cx="448.0" cy="162.4" r="0.85"/><circle cx="435.9" cy="165.6" r="0.85"/><circle cx="456.4" cy="159.3" r="0.85"/><circle cx="447.3" cy="163.2" r="0.85"/><circle cx="428.6" cy="163.6" r="0.85"/><circle cx="452.2" cy="157.1" r="0.85"/><circle cx="436.9" cy="165.6" r="0.85"/><circle cx="460.3" cy="151.3" r="0.85"/><circle cx="461.7" cy="157.1" r="0.85"/><circle cx="431.7" cy="163.4" r="0.85"/><circle cx="428.3" cy="164.3" r="0.85"/><circle cx="435.1" cy="165.8" r="0.85"/><circle cx="422.1" cy="157.9" r="0.85"/><circle cx="420.2" cy="157.7" r="0.85"/><circle cx="444.6" cy="164.9" r="0.85"/><circle cx="435.5" cy="165.3" r="0.85"/><circle cx="456.0" cy="158.0" r="0.85"/><circle cx="437.9" cy="165.8" r="0.85"/><circle cx="425.6" cy="161.2" r="0.85"/><circle cx="445.4" cy="164.2" r="0.85"/><circle cx="432.9" cy="163.8" r="0.85"/><circle cx="414.8" cy="159.6" r="0.85"/><circle cx="438.6" cy="165.7" r="0.85"/><circle cx="426.3" cy="159.6" r="0.85"/><circle cx="445.3" cy="162.1" r="0.85"/><circle cx="438.7" cy="165.3" r="0.85"/><circle cx="436.8" cy="165.6" r="0.85"/><circle cx="420.8" cy="158.6" r="0.85"/><circle cx="427.4" cy="161.1" r="0.85"/><circle cx="437.5" cy="165.1" r="0.85"/><circle cx="433.9" cy="165.2" r="0.85"/><circle cx="447.4" cy="164.7" r="0.85"/><circle cx="427.8" cy="162.6" r="0.85"/><circle cx="435.7" cy="165.5" r="0.85"/><circle cx="440.1" cy="164.9" r="0.85"/><circle cx="443.9" cy="165.1" r="0.85"/><circle cx="440.4" cy="165.4" r="0.85"/><circle cx="455.7" cy="159.7" r="0.85"/><circle cx="436.1" cy="165.2" r="0.85"/><circle cx="445.8" cy="164.2" r="0.85"/><circle cx="455.2" cy="156.2" r="0.85"/><circle cx="422.4" cy="162.6" r="0.85"/><circle cx="428.2" cy="164.6" r="0.85"/><circle cx="456.9" cy="158.0" r="0.85"/><circle cx="459.1" cy="149.3" r="0.85"/><circle cx="441.9" cy="164.4" r="0.85"/><circle cx="426.4" cy="160.7" r="0.85"/><circle cx="444.6" cy="163.7" r="0.85"/><circle cx="423.3" cy="157.9" r="0.85"/><circle cx="438.8" cy="165.1" r="0.85"/><circle cx="448.5" cy="163.7" r="0.85"/><circle cx="462.2" cy="145.6" r="0.85"/><circle cx="432.7" cy="163.8" r="0.85"/><circle cx="452.9" cy="156.1" r="0.85"/><circle cx="443.8" cy="163.5" r="0.85"/><circle cx="424.0" cy="158.0" r="0.85"/><circle cx="441.0" cy="165.6" r="0.85"/><circle cx="444.7" cy="164.2" r="0.85"/><circle cx="447.7" cy="163.8" r="0.85"/><circle cx="448.5" cy="161.7" r="0.85"/><circle cx="418.2" cy="156.4" r="0.85"/><circle cx="442.4" cy="165.2" r="0.85"/><circle cx="447.0" cy="161.7" r="0.85"/><circle cx="450.7" cy="163.0" r="0.85"/><circle cx="429.7" cy="164.0" r="0.85"/><circle cx="446.4" cy="163.8" r="0.85"/><circle cx="418.2" cy="157.1" r="0.85"/><circle cx="448.4" cy="159.4" r="0.85"/><circle cx="458.5" cy="156.2" r="0.85"/><circle cx="444.6" cy="164.8" r="0.85"/><circle cx="436.8" cy="165.8" r="0.85"/><circle cx="441.7" cy="164.5" r="0.85"/><circle cx="429.5" cy="164.7" r="0.85"/><circle cx="448.1" cy="164.4" r="0.85"/><circle cx="436.3" cy="165.3" r="0.85"/><circle cx="420.3" cy="159.6" r="0.85"/><circle cx="421.4" cy="158.0" r="0.85"/><circle cx="424.0" cy="160.8" r="0.85"/><circle cx="423.8" cy="161.8" r="0.85"/><circle cx="460.0" cy="149.5" r="0.85"/><circle cx="445.3" cy="161.9" r="0.85"/><circle cx="435.7" cy="165.2" r="0.85"/><circle cx="439.0" cy="165.4" r="0.85"/><circle cx="447.2" cy="164.5" r="0.85"/><circle cx="433.1" cy="164.9" r="0.85"/><circle cx="438.0" cy="165.6" r="0.85"/><circle cx="438.0" cy="165.6" r="0.85"/><circle cx="453.7" cy="157.9" r="0.85"/><circle cx="438.8" cy="165.8" r="0.85"/><circle cx="439.5" cy="165.1" r="0.85"/><circle cx="450.8" cy="163.3" r="0.85"/><circle cx="428.8" cy="162.0" r="0.85"/><circle cx="428.3" cy="161.7" r="0.85"/><circle cx="437.2" cy="165.4" r="0.85"/><circle cx="432.7" cy="164.8" r="0.85"/><circle cx="460.7" cy="153.2" r="0.85"/><circle cx="444.4" cy="164.5" r="0.85"/><circle cx="418.0" cy="151.4" r="0.85"/><circle cx="428.0" cy="161.8" r="0.85"/><circle cx="415.4" cy="150.5" r="0.85"/><circle cx="458.0" cy="157.6" r="0.85"/><circle cx="452.3" cy="160.9" r="0.85"/><circle cx="442.0" cy="164.5" r="0.85"/><circle cx="453.9" cy="162.3" r="0.85"/><circle cx="434.5" cy="164.8" r="0.85"/><circle cx="444.9" cy="164.8" r="0.85"/><circle cx="430.3" cy="162.8" r="0.85"/><circle cx="432.9" cy="164.5" r="0.85"/><circle cx="461.0" cy="149.5" r="0.85"/><circle cx="443.1" cy="164.7" r="0.85"/><circle cx="454.2" cy="158.7" r="0.85"/><circle cx="428.8" cy="164.8" r="0.85"/><circle cx="449.3" cy="162.8" r="0.85"/><circle cx="425.2" cy="160.6" r="0.85"/><circle cx="426.7" cy="163.3" r="0.85"/><circle cx="444.4" cy="163.2" r="0.85"/><circle cx="448.0" cy="160.5" r="0.85"/><circle cx="446.3" cy="161.7" r="0.85"/><circle cx="414.1" cy="149.9" r="0.85"/><circle cx="432.4" cy="164.4" r="0.85"/><circle cx="434.2" cy="164.7" r="0.85"/><circle cx="423.7" cy="159.0" r="0.85"/><circle cx="437.5" cy="165.5" r="0.85"/><circle cx="438.1" cy="165.5" r="0.85"/><circle cx="448.6" cy="161.9" r="0.85"/><circle cx="454.4" cy="159.1" r="0.85"/><circle cx="429.9" cy="163.7" r="0.85"/><circle cx="443.7" cy="164.4" r="0.85"/><circle cx="429.2" cy="163.5" r="0.85"/><circle cx="418.9" cy="153.7" r="0.85"/><circle cx="437.4" cy="165.2" r="0.85"/><circle cx="429.5" cy="162.7" r="0.85"/><circle cx="444.2" cy="163.9" r="0.85"/><circle cx="434.7" cy="164.7" r="0.85"/><circle cx="428.5" cy="162.2" r="0.85"/><circle cx="433.7" cy="165.3" r="0.85"/><circle cx="448.6" cy="159.7" r="0.85"/><circle cx="440.7" cy="165.6" r="0.85"/><circle cx="435.2" cy="165.1" r="0.85"/><circle cx="446.6" cy="162.6" r="0.85"/><circle cx="437.0" cy="165.8" r="0.85"/><circle cx="430.3" cy="165.4" r="0.85"/><circle cx="435.9" cy="165.8" r="0.85"/><circle cx="435.2" cy="165.7" r="0.85"/><circle cx="426.6" cy="163.9" r="0.85"/><circle cx="460.9" cy="153.2" r="0.85"/><circle cx="428.2" cy="161.2" r="0.85"/><circle cx="445.3" cy="164.4" r="0.85"/><circle cx="447.4" cy="163.2" r="0.85"/><circle cx="416.5" cy="157.5" r="0.85"/><circle cx="442.5" cy="165.0" r="0.85"/><circle cx="428.6" cy="163.1" r="0.85"/><circle cx="430.5" cy="163.9" r="0.85"/><circle cx="430.4" cy="163.7" r="0.85"/><circle cx="441.8" cy="165.3" r="0.85"/><circle cx="456.3" cy="152.4" r="0.85"/><circle cx="425.2" cy="160.4" r="0.85"/><circle cx="427.0" cy="161.1" r="0.85"/><circle cx="431.8" cy="164.4" r="0.85"/><circle cx="444.7" cy="164.6" r="0.85"/><circle cx="422.1" cy="156.0" r="0.85"/><circle cx="454.0" cy="162.8" r="0.85"/><circle cx="448.2" cy="163.5" r="0.85"/><circle cx="431.7" cy="164.5" r="0.85"/><circle cx="437.2" cy="165.2" r="0.85"/><circle cx="443.6" cy="163.5" r="0.85"/><circle cx="426.9" cy="162.0" r="0.85"/><circle cx="416.9" cy="153.0" r="0.85"/><circle cx="433.0" cy="164.7" r="0.85"/><circle cx="431.6" cy="163.1" r="0.85"/><circle cx="454.0" cy="160.2" r="0.85"/><circle cx="435.0" cy="165.0" r="0.85"/><circle cx="429.9" cy="163.3" r="0.85"/><circle cx="452.0" cy="161.7" r="0.85"/><circle cx="442.0" cy="165.6" r="0.85"/><circle cx="426.6" cy="162.1" r="0.85"/><circle cx="453.7" cy="155.3" r="0.85"/><circle cx="424.8" cy="163.3" r="0.85"/><circle cx="431.5" cy="163.6" r="0.85"/><circle cx="443.3" cy="165.0" r="0.85"/><circle cx="427.7" cy="164.5" r="0.85"/><circle cx="424.6" cy="162.9" r="0.85"/><circle cx="428.0" cy="160.7" r="0.85"/><circle cx="437.5" cy="165.6" r="0.85"/><circle cx="456.6" cy="154.2" r="0.85"/><circle cx="436.2" cy="165.2" r="0.85"/><circle cx="460.2" cy="149.3" r="0.85"/><circle cx="442.2" cy="164.1" r="0.85"/><circle cx="424.2" cy="162.1" r="0.85"/><circle cx="426.8" cy="162.5" r="0.85"/><circle cx="443.7" cy="164.2" r="0.85"/><circle cx="446.4" cy="164.2" r="0.85"/><circle cx="432.3" cy="163.8" r="0.85"/><circle cx="430.2" cy="163.8" r="0.85"/><circle cx="450.5" cy="160.3" r="0.85"/><circle cx="443.1" cy="163.9" r="0.85"/><circle cx="443.0" cy="163.3" r="0.85"/><circle cx="439.3" cy="165.4" r="0.85"/><circle cx="436.7" cy="165.6" r="0.85"/><circle cx="459.6" cy="153.5" r="0.85"/><circle cx="432.7" cy="165.5" r="0.85"/><circle cx="415.7" cy="152.8" r="0.85"/><circle cx="440.4" cy="165.6" r="0.85"/><circle cx="456.6" cy="159.7" r="0.85"/><circle cx="434.9" cy="164.8" r="0.85"/><circle cx="431.3" cy="164.5" r="0.85"/><circle cx="426.6" cy="162.9" r="0.85"/><circle cx="437.6" cy="165.5" r="0.85"/><circle cx="448.2" cy="161.8" r="0.85"/><circle cx="436.8" cy="165.3" r="0.85"/><circle cx="422.8" cy="161.2" r="0.85"/><circle cx="453.4" cy="158.4" r="0.85"/><circle cx="427.2" cy="162.7" r="0.85"/><circle cx="426.9" cy="162.2" r="0.85"/><circle cx="422.5" cy="159.4" r="0.85"/><circle cx="443.8" cy="165.3" r="0.85"/><circle cx="448.0" cy="164.4" r="0.85"/><circle cx="442.5" cy="165.3" r="0.85"/><circle cx="446.6" cy="161.4" r="0.85"/><circle cx="429.7" cy="163.2" r="0.85"/><circle cx="425.4" cy="161.2" r="0.85"/><circle cx="458.1" cy="160.1" r="0.85"/><circle cx="438.1" cy="165.0" r="0.85"/><circle cx="426.8" cy="160.6" r="0.85"/><circle cx="433.5" cy="165.5" r="0.85"/><circle cx="437.4" cy="165.8" r="0.85"/><circle cx="448.9" cy="164.3" r="0.85"/><circle cx="426.2" cy="162.2" r="0.85"/><circle cx="420.8" cy="157.7" r="0.85"/><circle cx="449.9" cy="159.2" r="0.85"/><circle cx="429.7" cy="164.0" r="0.85"/><circle cx="434.4" cy="165.1" r="0.85"/><circle cx="435.8" cy="165.7" r="0.85"/><circle cx="430.3" cy="165.0" r="0.85"/><circle cx="426.3" cy="159.8" r="0.85"/><circle cx="435.4" cy="165.3" r="0.85"/><circle cx="460.4" cy="150.8" r="0.85"/><circle cx="433.2" cy="165.5" r="0.85"/><circle cx="430.9" cy="164.7" r="0.85"/><circle cx="438.9" cy="165.3" r="0.85"/><circle cx="434.6" cy="165.4" r="0.85"/><circle cx="430.5" cy="163.9" r="0.85"/><circle cx="418.1" cy="161.1" r="0.85"/><circle cx="432.8" cy="164.2" r="0.85"/><circle cx="457.3" cy="159.8" r="0.85"/><circle cx="438.5" cy="165.7" r="0.85"/><circle cx="435.4" cy="165.7" r="0.85"/><circle cx="438.3" cy="165.3" r="0.85"/><circle cx="426.8" cy="162.0" r="0.85"/><circle cx="429.0" cy="162.7" r="0.85"/><circle cx="433.1" cy="164.9" r="0.85"/><circle cx="426.0" cy="163.9" r="0.85"/><circle cx="443.7" cy="164.6" r="0.85"/><circle cx="443.7" cy="163.9" r="0.85"/><circle cx="433.5" cy="165.3" r="0.85"/><circle cx="437.5" cy="165.6" r="0.85"/><circle cx="445.6" cy="162.4" r="0.85"/><circle cx="449.3" cy="164.0" r="0.85"/><circle cx="450.5" cy="159.1" r="0.85"/><circle cx="423.4" cy="158.5" r="0.85"/><circle cx="433.5" cy="164.4" r="0.85"/><circle cx="443.5" cy="164.9" r="0.85"/><circle cx="442.0" cy="164.9" r="0.85"/><circle cx="439.5" cy="165.5" r="0.85"/><circle cx="420.9" cy="162.2" r="0.85"/><circle cx="444.2" cy="164.7" r="0.85"/><circle cx="442.9" cy="164.2" r="0.85"/><circle cx="444.1" cy="164.1" r="0.85"/><circle cx="442.5" cy="164.7" r="0.85"/><circle cx="436.9" cy="165.3" r="0.85"/><circle cx="441.8" cy="165.3" r="0.85"/><circle cx="439.0" cy="165.5" r="0.85"/><circle cx="431.0" cy="163.9" r="0.85"/><circle cx="435.0" cy="165.5" r="0.85"/><circle cx="425.9" cy="160.6" r="0.85"/><circle cx="435.5" cy="165.6" r="0.85"/><circle cx="457.6" cy="153.1" r="0.85"/><circle cx="442.4" cy="163.9" r="0.85"/><circle cx="438.1" cy="165.5" r="0.85"/><circle cx="436.0" cy="165.8" r="0.85"/><circle cx="412.6" cy="146.7" r="0.85"/><circle cx="414.3" cy="147.3" r="0.85"/><circle cx="447.2" cy="161.1" r="0.85"/><circle cx="445.4" cy="163.2" r="0.85"/><circle cx="452.2" cy="162.6" r="0.85"/><circle cx="430.5" cy="164.5" r="0.85"/><circle cx="431.1" cy="164.4" r="0.85"/><circle cx="460.5" cy="156.7" r="0.85"/><circle cx="424.7" cy="162.7" r="0.85"/><circle cx="442.4" cy="164.7" r="0.85"/><circle cx="437.2" cy="165.7" r="0.85"/><circle cx="448.6" cy="163.1" r="0.85"/><circle cx="455.3" cy="161.6" r="0.85"/><circle cx="435.6" cy="165.6" r="0.85"/><circle cx="433.3" cy="164.7" r="0.85"/><circle cx="427.9" cy="163.1" r="0.85"/><circle cx="429.6" cy="163.4" r="0.85"/><circle cx="434.7" cy="165.1" r="0.85"/><circle cx="445.7" cy="163.1" r="0.85"/><circle cx="439.3" cy="165.4" r="0.85"/><circle cx="445.7" cy="162.9" r="0.85"/><circle cx="422.5" cy="163.3" r="0.85"/><circle cx="440.2" cy="165.2" r="0.85"/><circle cx="446.1" cy="163.4" r="0.85"/><circle cx="445.0" cy="165.0" r="0.85"/><circle cx="435.7" cy="165.6" r="0.85"/><circle cx="444.8" cy="165.0" r="0.85"/><circle cx="431.1" cy="163.9" r="0.85"/><circle cx="442.7" cy="165.5" r="0.85"/><circle cx="427.9" cy="161.6" r="0.85"/><circle cx="421.9" cy="156.7" r="0.85"/><circle cx="422.5" cy="161.7" r="0.85"/><circle cx="440.2" cy="165.6" r="0.85"/><circle cx="451.7" cy="161.8" r="0.85"/><circle cx="425.5" cy="161.6" r="0.85"/><circle cx="443.7" cy="164.0" r="0.85"/><circle cx="421.7" cy="157.5" r="0.85"/><circle cx="434.1" cy="164.9" r="0.85"/><circle cx="441.7" cy="164.5" r="0.85"/><circle cx="425.0" cy="161.3" r="0.85"/><circle cx="449.6" cy="163.7" r="0.85"/><circle cx="434.4" cy="165.6" r="0.85"/><circle cx="422.5" cy="157.7" r="0.85"/><circle cx="427.7" cy="163.2" r="0.85"/><circle cx="444.1" cy="165.4" r="0.85"/><circle cx="448.3" cy="164.1" r="0.85"/><circle cx="454.8" cy="155.7" r="0.85"/><circle cx="454.7" cy="160.4" r="0.85"/><circle cx="421.4" cy="162.4" r="0.85"/><circle cx="447.9" cy="164.1" r="0.85"/><circle cx="438.6" cy="165.8" r="0.85"/><circle cx="429.4" cy="162.4" r="0.85"/><circle cx="439.6" cy="165.8" r="0.85"/><circle cx="426.3" cy="163.1" r="0.85"/><circle cx="444.9" cy="163.4" r="0.85"/><circle cx="450.1" cy="158.7" r="0.85"/><circle cx="430.1" cy="162.8" r="0.85"/><circle cx="424.8" cy="163.9" r="0.85"/><circle cx="437.3" cy="165.2" r="0.85"/><circle cx="429.8" cy="164.6" r="0.85"/><circle cx="434.0" cy="165.5" r="0.85"/><circle cx="416.4" cy="157.1" r="0.85"/><circle cx="446.8" cy="162.2" r="0.85"/><circle cx="438.9" cy="165.5" r="0.85"/><circle cx="458.0" cy="155.7" r="0.85"/><circle cx="428.1" cy="163.2" r="0.85"/><circle cx="432.3" cy="164.3" r="0.85"/><circle cx="423.4" cy="158.7" r="0.85"/><circle cx="417.6" cy="151.6" r="0.85"/><circle cx="422.4" cy="160.4" r="0.85"/><circle cx="427.4" cy="161.8" r="0.85"/><circle cx="430.5" cy="162.9" r="0.85"/><circle cx="443.3" cy="164.0" r="0.85"/><circle cx="424.0" cy="162.0" r="0.85"/><circle cx="435.2" cy="165.0" r="0.85"/><circle cx="446.8" cy="163.5" r="0.85"/><circle cx="442.6" cy="164.3" r="0.85"/><circle cx="441.6" cy="165.3" r="0.85"/><circle cx="438.0" cy="165.6" r="0.85"/><circle cx="429.0" cy="164.1" r="0.85"/><circle cx="434.2" cy="165.1" r="0.85"/><circle cx="437.1" cy="165.6" r="0.85"/><circle cx="441.1" cy="165.6" r="0.85"/><circle cx="441.2" cy="164.6" r="0.85"/><circle cx="435.8" cy="165.5" r="0.85"/><circle cx="428.6" cy="164.9" r="0.85"/><circle cx="427.2" cy="160.3" r="0.85"/><circle cx="419.5" cy="153.9" r="0.85"/><circle cx="431.7" cy="163.8" r="0.85"/><circle cx="451.0" cy="163.0" r="0.85"/><circle cx="448.2" cy="163.7" r="0.85"/><circle cx="453.9" cy="155.6" r="0.85"/><circle cx="457.8" cy="154.3" r="0.85"/><circle cx="416.1" cy="152.9" r="0.85"/><circle cx="445.9" cy="163.4" r="0.85"/><circle cx="417.8" cy="154.4" r="0.85"/><circle cx="417.5" cy="152.9" r="0.85"/><circle cx="443.4" cy="165.3" r="0.85"/><circle cx="454.4" cy="159.5" r="0.85"/><circle cx="424.5" cy="160.5" r="0.85"/><circle cx="433.5" cy="164.8" r="0.85"/><circle cx="450.2" cy="164.3" r="0.85"/><circle cx="432.2" cy="163.9" r="0.85"/><circle cx="446.4" cy="162.1" r="0.85"/><circle cx="421.9" cy="160.1" r="0.85"/><circle cx="429.1" cy="163.5" r="0.85"/><circle cx="436.6" cy="165.4" r="0.85"/><circle cx="442.9" cy="164.4" r="0.85"/><circle cx="436.7" cy="165.4" r="0.85"/><circle cx="443.7" cy="165.2" r="0.85"/><circle cx="453.3" cy="162.1" r="0.85"/><circle cx="438.4" cy="165.8" r="0.85"/><circle cx="439.1" cy="165.5" r="0.85"/><circle cx="440.7" cy="164.3" r="0.85"/><circle cx="431.1" cy="164.5" r="0.85"/><circle cx="438.5" cy="165.2" r="0.85"/><circle cx="439.7" cy="165.6" r="0.85"/><circle cx="425.7" cy="161.9" r="0.85"/><circle cx="429.7" cy="164.5" r="0.85"/><circle cx="431.1" cy="165.3" r="0.85"/><circle cx="428.6" cy="164.7" r="0.85"/><circle cx="449.1" cy="159.4" r="0.85"/><circle cx="439.1" cy="165.6" r="0.85"/><circle cx="430.2" cy="164.7" r="0.85"/><circle cx="417.4" cy="157.3" r="0.85"/><circle cx="440.1" cy="165.6" r="0.85"/><circle cx="438.4" cy="165.6" r="0.85"/><circle cx="438.8" cy="165.7" r="0.85"/><circle cx="429.0" cy="162.2" r="0.85"/><circle cx="433.0" cy="164.8" r="0.85"/><circle cx="415.6" cy="157.0" r="0.85"/><circle cx="447.9" cy="162.4" r="0.85"/><circle cx="430.0" cy="164.6" r="0.85"/><circle cx="437.1" cy="165.4" r="0.85"/><circle cx="444.8" cy="163.8" r="0.85"/><circle cx="421.5" cy="161.0" r="0.85"/><circle cx="422.5" cy="159.5" r="0.85"/><circle cx="440.7" cy="165.8" r="0.85"/><circle cx="452.1" cy="159.3" r="0.85"/><circle cx="433.1" cy="165.2" r="0.85"/><circle cx="426.2" cy="163.2" r="0.85"/><circle cx="439.1" cy="165.7" r="0.85"/><circle cx="433.9" cy="165.0" r="0.85"/><circle cx="439.7" cy="165.3" r="0.85"/><circle cx="450.0" cy="162.0" r="0.85"/><circle cx="441.5" cy="165.2" r="0.85"/><circle cx="443.4" cy="165.4" r="0.85"/><circle cx="437.8" cy="165.6" r="0.85"/><circle cx="447.9" cy="162.2" r="0.85"/><circle cx="438.4" cy="165.7" r="0.85"/><circle cx="432.4" cy="164.9" r="0.85"/><circle cx="422.7" cy="157.6" r="0.85"/><circle cx="414.8" cy="151.0" r="0.85"/><circle cx="425.1" cy="161.4" r="0.85"/><circle cx="430.2" cy="162.9" r="0.85"/><circle cx="434.3" cy="165.1" r="0.85"/><circle cx="426.2" cy="159.7" r="0.85"/><circle cx="441.9" cy="164.9" r="0.85"/><circle cx="435.1" cy="165.1" r="0.85"/><circle cx="454.0" cy="158.8" r="0.85"/><circle cx="426.8" cy="160.4" r="0.85"/><circle cx="437.9" cy="165.3" r="0.85"/><circle cx="422.6" cy="161.0" r="0.85"/><circle cx="447.1" cy="161.4" r="0.85"/><circle cx="448.4" cy="161.8" r="0.85"/><circle cx="440.5" cy="165.0" r="0.85"/><circle cx="453.4" cy="155.6" r="0.85"/><circle cx="447.0" cy="163.8" r="0.85"/><circle cx="432.2" cy="165.1" r="0.85"/><circle cx="445.1" cy="164.3" r="0.85"/><circle cx="420.7" cy="154.5" r="0.85"/><circle cx="424.6" cy="162.6" r="0.85"/><circle cx="451.4" cy="159.7" r="0.85"/><circle cx="430.3" cy="162.5" r="0.85"/><circle cx="439.8" cy="165.6" r="0.85"/><circle cx="457.1" cy="152.8" r="0.85"/><circle cx="439.9" cy="165.4" r="0.85"/><circle cx="437.0" cy="165.3" r="0.85"/><circle cx="457.0" cy="156.7" r="0.85"/><circle cx="437.1" cy="165.8" r="0.85"/><circle cx="435.5" cy="165.0" r="0.85"/><circle cx="429.5" cy="164.4" r="0.85"/><circle cx="446.0" cy="164.3" r="0.85"/><circle cx="429.9" cy="162.3" r="0.85"/><circle cx="417.1" cy="152.3" r="0.85"/><circle cx="435.5" cy="165.0" r="0.85"/><circle cx="417.0" cy="160.0" r="0.85"/><circle cx="445.1" cy="163.2" r="0.85"/><circle cx="413.8" cy="153.5" r="0.85"/><circle cx="421.0" cy="157.3" r="0.85"/><circle cx="450.7" cy="163.2" r="0.85"/><circle cx="425.7" cy="160.2" r="0.85"/><circle cx="439.5" cy="165.5" r="0.85"/><circle cx="423.2" cy="162.6" r="0.85"/><circle cx="437.8" cy="165.7" r="0.85"/><circle cx="446.3" cy="163.7" r="0.85"/><circle cx="436.4" cy="165.4" r="0.85"/><circle cx="421.8" cy="158.6" r="0.85"/><circle cx="430.6" cy="165.0" r="0.85"/><circle cx="435.4" cy="165.3" r="0.85"/><circle cx="453.2" cy="158.5" r="0.85"/><circle cx="448.8" cy="160.9" r="0.85"/><circle cx="451.3" cy="163.6" r="0.85"/><circle cx="424.1" cy="158.6" r="0.85"/><circle cx="428.5" cy="165.0" r="0.85"/><circle cx="446.0" cy="161.9" r="0.85"/><circle cx="417.1" cy="153.0" r="0.85"/><circle cx="451.4" cy="157.8" r="0.85"/><circle cx="436.0" cy="165.5" r="0.85"/><circle cx="414.3" cy="153.9" r="0.85"/><circle cx="434.5" cy="165.3" r="0.85"/><circle cx="433.2" cy="165.2" r="0.85"/><circle cx="426.8" cy="161.0" r="0.85"/><circle cx="419.2" cy="159.6" r="0.85"/><circle cx="428.7" cy="165.0" r="0.85"/><circle cx="429.0" cy="163.6" r="0.85"/><circle cx="422.3" cy="161.2" r="0.85"/><circle cx="433.0" cy="165.1" r="0.85"/><circle cx="432.5" cy="163.8" r="0.85"/><circle cx="432.4" cy="164.2" r="0.85"/><circle cx="437.3" cy="165.8" r="0.85"/><circle cx="437.2" cy="165.8" r="0.85"/><circle cx="438.7" cy="165.6" r="0.85"/><circle cx="425.4" cy="163.7" r="0.85"/><circle cx="452.1" cy="161.6" r="0.85"/><circle cx="449.7" cy="163.8" r="0.85"/><circle cx="432.8" cy="165.3" r="0.85"/><circle cx="432.0" cy="164.6" r="0.85"/><circle cx="423.6" cy="157.6" r="0.85"/><circle cx="459.1" cy="157.6" r="0.85"/><circle cx="439.9" cy="165.3" r="0.85"/><circle cx="442.6" cy="163.8" r="0.85"/><circle cx="451.4" cy="160.0" r="0.85"/><circle cx="459.7" cy="159.1" r="0.85"/><circle cx="455.0" cy="158.2" r="0.85"/><circle cx="434.7" cy="165.0" r="0.85"/><circle cx="452.3" cy="156.8" r="0.85"/><circle cx="434.8" cy="165.2" r="0.85"/><circle cx="434.2" cy="165.0" r="0.85"/><circle cx="426.1" cy="161.9" r="0.85"/><circle cx="435.8" cy="165.1" r="0.85"/><circle cx="424.9" cy="161.7" r="0.85"/><circle cx="437.7" cy="165.5" r="0.85"/><circle cx="437.9" cy="165.8" r="0.85"/><circle cx="444.4" cy="165.1" r="0.85"/><circle cx="424.2" cy="158.2" r="0.85"/><circle cx="434.9" cy="165.4" r="0.85"/><circle cx="439.3" cy="165.4" r="0.85"/><circle cx="427.0" cy="160.2" r="0.85"/><circle cx="428.4" cy="162.6" r="0.85"/><circle cx="439.9" cy="165.2" r="0.85"/><circle cx="440.3" cy="165.1" r="0.85"/><circle cx="439.6" cy="164.8" r="0.85"/><circle cx="436.2" cy="165.8" r="0.85"/><circle cx="431.8" cy="163.6" r="0.85"/><circle cx="436.5" cy="165.5" r="0.85"/><circle cx="435.0" cy="165.1" r="0.85"/><circle cx="444.3" cy="164.2" r="0.85"/><circle cx="443.3" cy="165.3" r="0.85"/><circle cx="444.5" cy="163.3" r="0.85"/><circle cx="446.3" cy="165.1" r="0.85"/><circle cx="445.7" cy="164.2" r="0.85"/><circle cx="429.1" cy="163.7" r="0.85"/><circle cx="436.5" cy="165.8" r="0.85"/><circle cx="433.0" cy="164.2" r="0.85"/><circle cx="429.1" cy="164.6" r="0.85"/><circle cx="438.7" cy="165.2" r="0.85"/><circle cx="447.8" cy="162.7" r="0.85"/><circle cx="439.5" cy="164.9" r="0.85"/><circle cx="416.5" cy="156.2" r="0.85"/><circle cx="436.8" cy="165.4" r="0.85"/><circle cx="434.4" cy="165.6" r="0.85"/><circle cx="441.2" cy="164.8" r="0.85"/><circle cx="428.7" cy="164.6" r="0.85"/><circle cx="432.2" cy="165.5" r="0.85"/><circle cx="427.5" cy="161.3" r="0.85"/><circle cx="431.5" cy="164.6" r="0.85"/><circle cx="448.9" cy="164.0" r="0.85"/><circle cx="423.5" cy="158.8" r="0.85"/><circle cx="439.5" cy="165.0" r="0.85"/><circle cx="417.6" cy="158.9" r="0.85"/><circle cx="441.0" cy="165.4" r="0.85"/><circle cx="443.6" cy="165.1" r="0.85"/><circle cx="448.0" cy="160.2" r="0.85"/><circle cx="446.3" cy="162.8" r="0.85"/><circle cx="454.8" cy="154.1" r="0.85"/><circle cx="430.5" cy="163.8" r="0.85"/><circle cx="450.2" cy="163.4" r="0.85"/><circle cx="417.5" cy="153.3" r="0.85"/><circle cx="445.9" cy="163.8" r="0.85"/><circle cx="458.2" cy="154.5" r="0.85"/><circle cx="431.6" cy="164.4" r="0.85"/><circle cx="443.3" cy="165.2" r="0.85"/><circle cx="431.4" cy="163.5" r="0.85"/><circle cx="418.2" cy="156.2" r="0.85"/><circle cx="442.9" cy="163.7" r="0.85"/><circle cx="422.0" cy="158.5" r="0.85"/><circle cx="445.5" cy="163.7" r="0.85"/><circle cx="454.2" cy="158.2" r="0.85"/><circle cx="437.3" cy="165.5" r="0.85"/><circle cx="413.2" cy="155.6" r="0.85"/><circle cx="438.1" cy="165.7" r="0.85"/><circle cx="446.4" cy="164.8" r="0.85"/><circle cx="453.8" cy="160.8" r="0.85"/><circle cx="416.8" cy="153.0" r="0.85"/><circle cx="434.3" cy="165.1" r="0.85"/><circle cx="438.1" cy="165.6" r="0.85"/><circle cx="426.0" cy="163.0" r="0.85"/><circle cx="453.3" cy="161.0" r="0.85"/><circle cx="431.0" cy="165.2" r="0.85"/><circle cx="454.1" cy="160.6" r="0.85"/><circle cx="455.0" cy="160.8" r="0.85"/><circle cx="437.8" cy="165.8" r="0.85"/><circle cx="458.9" cy="151.2" r="0.85"/><circle cx="454.4" cy="154.8" r="0.85"/><circle cx="425.6" cy="162.7" r="0.85"/><circle cx="425.7" cy="162.8" r="0.85"/><circle cx="421.8" cy="157.9" r="0.85"/><circle cx="438.0" cy="165.6" r="0.85"/><circle cx="415.3" cy="153.4" r="0.85"/><circle cx="420.6" cy="157.9" r="0.85"/><circle cx="430.5" cy="164.1" r="0.85"/><circle cx="438.1" cy="165.5" r="0.85"/><circle cx="460.4" cy="156.2" r="0.85"/><circle cx="424.0" cy="161.1" r="0.85"/><circle cx="447.1" cy="164.1" r="0.85"/><circle cx="438.9" cy="165.5" r="0.85"/><circle cx="439.3" cy="165.3" r="0.85"/><circle cx="445.9" cy="162.7" r="0.85"/><circle cx="427.4" cy="162.2" r="0.85"/><circle cx="433.6" cy="164.5" r="0.85"/><circle cx="441.9" cy="164.4" r="0.85"/><circle cx="454.6" cy="157.9" r="0.85"/><circle cx="438.7" cy="165.7" r="0.85"/><circle cx="419.0" cy="155.0" r="0.85"/><circle cx="449.8" cy="158.3" r="0.85"/><circle cx="438.7" cy="165.5" r="0.85"/><circle cx="441.0" cy="165.8" r="0.85"/><circle cx="426.7" cy="161.6" r="0.85"/><circle cx="424.4" cy="159.7" r="0.85"/><circle cx="426.7" cy="162.1" r="0.85"/><circle cx="423.6" cy="163.2" r="0.85"/><circle cx="420.1" cy="158.4" r="0.85"/><circle cx="434.8" cy="165.7" r="0.85"/><circle cx="436.7" cy="165.6" r="0.85"/><circle cx="432.5" cy="164.1" r="0.85"/><circle cx="450.7" cy="157.5" r="0.85"/><circle cx="450.6" cy="163.4" r="0.85"/><circle cx="433.6" cy="165.2" r="0.85"/><circle cx="426.9" cy="164.0" r="0.85"/><circle cx="448.1" cy="160.4" r="0.85"/><circle cx="447.7" cy="163.0" r="0.85"/><circle cx="430.3" cy="163.8" r="0.85"/><circle cx="429.4" cy="163.4" r="0.85"/><circle cx="440.1" cy="165.2" r="0.85"/><circle cx="427.2" cy="164.0" r="0.85"/><circle cx="439.0" cy="165.3" r="0.85"/><circle cx="429.5" cy="163.3" r="0.85"/><circle cx="415.5" cy="150.8" r="0.85"/><circle cx="440.3" cy="164.6" r="0.85"/><circle cx="432.6" cy="164.2" r="0.85"/><circle cx="420.0" cy="159.9" r="0.85"/><circle cx="443.8" cy="163.5" r="0.85"/><circle cx="425.8" cy="161.2" r="0.85"/><circle cx="421.9" cy="158.9" r="0.85"/><circle cx="457.1" cy="160.4" r="0.85"/><circle cx="439.7" cy="165.7" r="0.85"/><circle cx="441.7" cy="165.7" r="0.85"/><circle cx="444.1" cy="163.1" r="0.85"/><circle cx="445.0" cy="165.2" r="0.85"/><circle cx="447.8" cy="162.5" r="0.85"/><circle cx="455.2" cy="154.7" r="0.85"/><circle cx="414.4" cy="151.4" r="0.85"/><circle cx="438.3" cy="165.4" r="0.85"/><circle cx="459.4" cy="154.2" r="0.85"/><circle cx="442.0" cy="164.1" r="0.85"/><circle cx="435.1" cy="165.4" r="0.85"/><circle cx="437.9" cy="165.5" r="0.85"/><circle cx="434.1" cy="165.0" r="0.85"/><circle cx="419.6" cy="153.4" r="0.85"/><circle cx="416.5" cy="155.0" r="0.85"/><circle cx="429.7" cy="164.9" r="0.85"/><circle cx="433.9" cy="165.7" r="0.85"/><circle cx="451.0" cy="162.4" r="0.85"/><circle cx="435.7" cy="165.1" r="0.85"/><circle cx="448.8" cy="159.2" r="0.85"/><circle cx="427.7" cy="162.7" r="0.85"/><circle cx="430.5" cy="163.6" r="0.85"/><circle cx="437.7" cy="165.4" r="0.85"/><circle cx="447.8" cy="163.7" r="0.85"/><circle cx="428.0" cy="161.2" r="0.85"/><circle cx="416.5" cy="150.2" r="0.85"/><circle cx="417.1" cy="155.6" r="0.85"/><circle cx="432.3" cy="164.2" r="0.85"/><circle cx="454.3" cy="160.1" r="0.85"/><circle cx="425.9" cy="162.4" r="0.85"/><circle cx="437.7" cy="165.6" r="0.85"/><circle cx="430.5" cy="163.3" r="0.85"/><circle cx="437.2" cy="165.5" r="0.85"/><circle cx="426.6" cy="161.4" r="0.85"/><circle cx="418.0" cy="155.7" r="0.85"/><circle cx="449.0" cy="162.9" r="0.85"/><circle cx="428.5" cy="162.7" r="0.85"/><circle cx="437.0" cy="165.7" r="0.85"/><circle cx="444.0" cy="164.9" r="0.85"/><circle cx="441.7" cy="164.2" r="0.85"/><circle cx="439.0" cy="165.4" r="0.85"/><circle cx="434.2" cy="164.7" r="0.85"/><circle cx="441.2" cy="164.6" r="0.85"/><circle cx="428.4" cy="162.9" r="0.85"/><circle cx="421.3" cy="158.7" r="0.85"/><circle cx="441.8" cy="165.6" r="0.85"/><circle cx="434.9" cy="165.5" r="0.85"/><circle cx="425.3" cy="161.0" r="0.85"/><circle cx="450.2" cy="160.5" r="0.85"/><circle cx="412.6" cy="147.2" r="0.85"/><circle cx="418.6" cy="156.3" r="0.85"/><circle cx="443.3" cy="164.0" r="0.85"/><circle cx="454.7" cy="157.9" r="0.85"/><circle cx="429.2" cy="164.4" r="0.85"/><circle cx="455.7" cy="154.0" r="0.85"/><circle cx="447.3" cy="163.2" r="0.85"/><circle cx="445.1" cy="162.9" r="0.85"/><circle cx="414.9" cy="150.8" r="0.85"/><circle cx="435.1" cy="165.5" r="0.85"/><circle cx="428.7" cy="162.2" r="0.85"/><circle cx="445.4" cy="163.5" r="0.85"/><circle cx="438.9" cy="165.8" r="0.85"/><circle cx="442.1" cy="164.9" r="0.85"/><circle cx="418.3" cy="153.8" r="0.85"/><circle cx="439.9" cy="164.9" r="0.85"/><circle cx="441.9" cy="164.4" r="0.85"/><circle cx="416.8" cy="151.8" r="0.85"/><circle cx="450.8" cy="163.4" r="0.85"/><circle cx="447.6" cy="161.3" r="0.85"/><circle cx="455.5" cy="160.8" r="0.85"/><circle cx="441.8" cy="165.0" r="0.85"/><circle cx="427.3" cy="162.6" r="0.85"/><circle cx="429.8" cy="163.3" r="0.85"/><circle cx="431.9" cy="165.1" r="0.85"/><circle cx="432.1" cy="163.7" r="0.85"/><circle cx="434.0" cy="164.7" r="0.85"/><circle cx="439.2" cy="165.6" r="0.85"/><circle cx="419.8" cy="157.3" r="0.85"/><circle cx="451.6" cy="160.7" r="0.85"/><circle cx="450.7" cy="163.0" r="0.85"/><circle cx="443.8" cy="165.7" r="0.85"/><circle cx="434.3" cy="165.0" r="0.85"/><circle cx="427.6" cy="162.1" r="0.85"/><circle cx="423.6" cy="161.7" r="0.85"/><circle cx="455.6" cy="160.5" r="0.85"/><circle cx="436.7" cy="165.7" r="0.85"/><circle cx="429.3" cy="163.8" r="0.85"/><circle cx="444.2" cy="164.9" r="0.85"/><circle cx="440.8" cy="165.1" r="0.85"/><circle cx="452.3" cy="157.3" r="0.85"/><circle cx="414.5" cy="148.1" r="0.85"/><circle cx="432.0" cy="164.1" r="0.85"/><circle cx="442.5" cy="165.0" r="0.85"/><circle cx="436.4" cy="165.2" r="0.85"/><circle cx="443.4" cy="164.2" r="0.85"/><circle cx="422.7" cy="162.4" r="0.85"/><circle cx="429.6" cy="163.6" r="0.85"/><circle cx="453.7" cy="159.3" r="0.85"/><circle cx="448.2" cy="160.2" r="0.85"/><circle cx="445.1" cy="163.8" r="0.85"/><circle cx="447.3" cy="161.7" r="0.85"/><circle cx="418.3" cy="155.0" r="0.85"/><circle cx="440.9" cy="165.4" r="0.85"/><circle cx="434.9" cy="165.3" r="0.85"/><circle cx="439.7" cy="165.3" r="0.85"/><circle cx="437.9" cy="165.8" r="0.85"/><circle cx="436.8" cy="165.8" r="0.85"/><circle cx="427.0" cy="161.1" r="0.85"/><circle cx="422.3" cy="160.5" r="0.85"/><circle cx="460.3" cy="154.7" r="0.85"/><circle cx="440.3" cy="165.4" r="0.85"/><circle cx="430.5" cy="165.1" r="0.85"/><circle cx="425.9" cy="159.5" r="0.85"/><circle cx="431.9" cy="164.4" r="0.85"/><circle cx="438.6" cy="165.8" r="0.85"/><circle cx="444.1" cy="165.3" r="0.85"/><circle cx="443.4" cy="164.0" r="0.85"/><circle cx="438.8" cy="165.5" r="0.85"/><circle cx="436.2" cy="165.5" r="0.85"/><circle cx="437.6" cy="165.3" r="0.85"/><circle cx="431.4" cy="163.9" r="0.85"/><circle cx="431.9" cy="163.9" r="0.85"/><circle cx="445.7" cy="163.3" r="0.85"/><circle cx="447.3" cy="163.4" r="0.85"/><circle cx="430.4" cy="164.2" r="0.85"/><circle cx="444.2" cy="165.2" r="0.85"/><circle cx="457.3" cy="160.1" r="0.85"/><circle cx="443.4" cy="164.1" r="0.85"/><circle cx="416.2" cy="149.8" r="0.85"/><circle cx="445.6" cy="162.4" r="0.85"/><circle cx="439.7" cy="165.8" r="0.85"/><circle cx="430.4" cy="163.2" r="0.85"/><circle cx="436.7" cy="165.8" r="0.85"/><circle cx="413.2" cy="150.9" r="0.85"/><circle cx="438.4" cy="165.5" r="0.85"/><circle cx="445.0" cy="163.0" r="0.85"/><circle cx="437.2" cy="165.4" r="0.85"/><circle cx="421.6" cy="161.4" r="0.85"/><circle cx="435.1" cy="165.4" r="0.85"/><circle cx="439.4" cy="165.5" r="0.85"/><circle cx="444.5" cy="165.4" r="0.85"/><circle cx="422.8" cy="161.4" r="0.85"/><circle cx="433.6" cy="164.8" r="0.85"/><circle cx="429.5" cy="163.7" r="0.85"/><circle cx="417.0" cy="157.2" r="0.85"/><circle cx="446.1" cy="162.5" r="0.85"/><circle cx="433.8" cy="164.6" r="0.85"/><circle cx="457.4" cy="154.8" r="0.85"/><circle cx="433.8" cy="165.2" r="0.85"/><circle cx="431.5" cy="165.7" r="0.85"/><circle cx="450.2" cy="160.4" r="0.85"/><circle cx="442.6" cy="163.8" r="0.85"/><circle cx="421.3" cy="161.1" r="0.85"/><circle cx="435.7" cy="165.8" r="0.85"/><circle cx="444.7" cy="163.2" r="0.85"/><circle cx="438.3" cy="165.8" r="0.85"/><circle cx="457.6" cy="152.1" r="0.85"/><circle cx="432.7" cy="164.3" r="0.85"/><circle cx="423.6" cy="159.0" r="0.85"/><circle cx="436.9" cy="165.8" r="0.85"/><circle cx="443.4" cy="164.1" r="0.85"/><circle cx="421.9" cy="160.7" r="0.85"/><circle cx="422.0" cy="160.2" r="0.85"/><circle cx="440.5" cy="164.8" r="0.85"/><circle cx="433.5" cy="164.6" r="0.85"/><circle cx="429.9" cy="163.4" r="0.85"/><circle cx="440.8" cy="165.6" r="0.85"/><circle cx="453.0" cy="159.0" r="0.85"/><circle cx="441.3" cy="164.6" r="0.85"/><circle cx="413.7" cy="148.9" r="0.85"/><circle cx="441.4" cy="165.1" r="0.85"/><circle cx="459.8" cy="157.2" r="0.85"/><circle cx="438.7" cy="165.4" r="0.85"/><circle cx="440.5" cy="165.2" r="0.85"/><circle cx="436.2" cy="165.7" r="0.85"/><circle cx="436.0" cy="165.5" r="0.85"/><circle cx="449.4" cy="162.6" r="0.85"/><circle cx="427.9" cy="163.8" r="0.85"/><circle cx="431.5" cy="163.7" r="0.85"/><circle cx="453.6" cy="157.0" r="0.85"/><circle cx="422.9" cy="156.7" r="0.85"/><circle cx="435.6" cy="165.5" r="0.85"/><circle cx="454.9" cy="161.1" r="0.85"/><circle cx="442.5" cy="164.7" r="0.85"/><circle cx="455.9" cy="154.7" r="0.85"/><circle cx="435.2" cy="165.4" r="0.85"/><circle cx="439.5" cy="165.2" r="0.85"/><circle cx="439.0" cy="165.5" r="0.85"/><circle cx="452.3" cy="160.1" r="0.85"/><circle cx="436.5" cy="165.6" r="0.85"/><circle cx="435.3" cy="165.2" r="0.85"/><circle cx="453.5" cy="162.2" r="0.85"/><circle cx="440.0" cy="164.6" r="0.85"/><circle cx="427.6" cy="162.2" r="0.85"/><circle cx="449.3" cy="161.6" r="0.85"/><circle cx="420.1" cy="157.4" r="0.85"/><circle cx="443.6" cy="165.4" r="0.85"/><circle cx="441.8" cy="163.9" r="0.85"/><circle cx="443.9" cy="164.7" r="0.85"/><circle cx="454.6" cy="160.8" r="0.85"/><circle cx="428.2" cy="163.4" r="0.85"/><circle cx="443.1" cy="164.3" r="0.85"/><circle cx="449.7" cy="159.5" r="0.85"/><circle cx="443.5" cy="164.4" r="0.85"/><circle cx="430.3" cy="164.7" r="0.85"/><circle cx="438.1" cy="165.5" r="0.85"/><circle cx="440.4" cy="165.3" r="0.85"/><circle cx="435.5" cy="165.4" r="0.85"/><circle cx="455.5" cy="161.4" r="0.85"/><circle cx="426.0" cy="163.6" r="0.85"/><circle cx="454.5" cy="161.5" r="0.85"/><circle cx="432.9" cy="164.7" r="0.85"/><circle cx="443.6" cy="163.2" r="0.85"/><circle cx="444.7" cy="163.8" r="0.85"/><circle cx="432.1" cy="165.2" r="0.85"/><circle cx="431.9" cy="165.5" r="0.85"/><circle cx="413.8" cy="148.8" r="0.85"/><circle cx="430.7" cy="164.7" r="0.85"/><circle cx="427.3" cy="162.1" r="0.85"/><circle cx="434.5" cy="165.4" r="0.85"/><circle cx="439.7" cy="164.9" r="0.85"/><circle cx="450.7" cy="157.7" r="0.85"/><circle cx="436.5" cy="165.6" r="0.85"/><circle cx="430.6" cy="165.0" r="0.85"/><circle cx="437.6" cy="165.6" r="0.85"/><circle cx="428.5" cy="161.5" r="0.85"/><circle cx="448.6" cy="160.7" r="0.85"/><circle cx="424.9" cy="159.3" r="0.85"/><circle cx="425.2" cy="161.9" r="0.85"/><circle cx="443.5" cy="165.0" r="0.85"/><circle cx="435.6" cy="165.6" r="0.85"/><circle cx="443.6" cy="163.6" r="0.85"/><circle cx="434.6" cy="165.3" r="0.85"/><circle cx="427.3" cy="162.5" r="0.85"/><circle cx="429.1" cy="163.5" r="0.85"/><circle cx="447.3" cy="164.0" r="0.85"/><circle cx="426.7" cy="161.2" r="0.85"/><circle cx="437.0" cy="165.7" r="0.85"/><circle cx="428.3" cy="162.5" r="0.85"/><circle cx="431.5" cy="163.9" r="0.85"/><circle cx="442.9" cy="164.3" r="0.85"/><circle cx="424.5" cy="161.1" r="0.85"/><circle cx="435.9" cy="165.6" r="0.85"/><circle cx="446.6" cy="162.1" r="0.85"/><circle cx="445.3" cy="164.4" r="0.85"/><circle cx="449.4" cy="163.5" r="0.85"/><circle cx="439.9" cy="165.5" r="0.85"/><circle cx="423.8" cy="157.4" r="0.85"/><circle cx="455.1" cy="159.9" r="0.85"/><circle cx="423.7" cy="162.0" r="0.85"/><circle cx="446.3" cy="165.2" r="0.85"/><circle cx="423.1" cy="157.3" r="0.85"/><circle cx="435.9" cy="165.8" r="0.85"/><circle cx="442.0" cy="164.6" r="0.85"/><circle cx="434.4" cy="165.5" r="0.85"/><circle cx="428.5" cy="164.8" r="0.85"/><circle cx="434.5" cy="165.7" r="0.85"/><circle cx="432.6" cy="165.2" r="0.85"/><circle cx="422.1" cy="157.8" r="0.85"/><circle cx="449.6" cy="159.0" r="0.85"/><circle cx="439.4" cy="165.2" r="0.85"/><circle cx="435.4" cy="165.8" r="0.85"/><circle cx="443.0" cy="164.4" r="0.85"/><circle cx="434.1" cy="165.7" r="0.85"/><circle cx="427.2" cy="164.1" r="0.85"/><circle cx="443.4" cy="164.6" r="0.85"/><circle cx="444.1" cy="165.5" r="0.85"/><circle cx="413.0" cy="150.1" r="0.85"/><circle cx="434.3" cy="165.3" r="0.85"/><circle cx="455.7" cy="156.9" r="0.85"/><circle cx="419.3" cy="153.1" r="0.85"/><circle cx="447.7" cy="164.4" r="0.85"/><circle cx="434.2" cy="164.9" r="0.85"/><circle cx="438.7" cy="165.2" r="0.85"/><circle cx="444.5" cy="163.5" r="0.85"/><circle cx="445.0" cy="162.9" r="0.85"/><circle cx="449.2" cy="163.7" r="0.85"/><circle cx="436.4" cy="165.8" r="0.85"/><circle cx="442.3" cy="164.3" r="0.85"/><circle cx="432.5" cy="164.8" r="0.85"/><circle cx="457.3" cy="157.4" r="0.85"/><circle cx="445.4" cy="163.7" r="0.85"/><circle cx="426.0" cy="160.5" r="0.85"/><circle cx="440.4" cy="165.7" r="0.85"/><circle cx="448.3" cy="164.3" r="0.85"/><circle cx="440.2" cy="165.5" r="0.85"/><circle cx="444.6" cy="163.6" r="0.85"/><circle cx="439.8" cy="165.3" r="0.85"/><circle cx="459.0" cy="152.5" r="0.85"/><circle cx="433.2" cy="165.4" r="0.85"/><circle cx="451.2" cy="158.2" r="0.85"/><circle cx="416.1" cy="159.9" r="0.85"/><circle cx="439.4" cy="165.3" r="0.85"/><circle cx="438.0" cy="165.6" r="0.85"/><circle cx="431.4" cy="164.5" r="0.85"/><circle cx="459.1" cy="159.0" r="0.85"/><circle cx="440.8" cy="165.1" r="0.85"/><circle cx="436.8" cy="165.8" r="0.85"/><circle cx="454.8" cy="160.4" r="0.85"/><circle cx="452.5" cy="159.7" r="0.85"/><circle cx="441.3" cy="164.5" r="0.85"/><circle cx="434.9" cy="165.6" r="0.85"/><circle cx="459.0" cy="152.1" r="0.85"/><circle cx="436.1" cy="165.3" r="0.85"/><circle cx="431.1" cy="163.8" r="0.85"/><circle cx="422.3" cy="156.5" r="0.85"/><circle cx="443.9" cy="163.5" r="0.85"/><circle cx="442.8" cy="164.7" r="0.85"/><circle cx="449.6" cy="164.1" r="0.85"/><circle cx="460.1" cy="154.0" r="0.85"/><circle cx="446.5" cy="162.0" r="0.85"/><circle cx="436.0" cy="165.4" r="0.85"/><circle cx="431.8" cy="164.7" r="0.85"/><circle cx="418.1" cy="157.5" r="0.85"/><circle cx="447.1" cy="161.8" r="0.85"/><circle cx="461.9" cy="151.2" r="0.85"/><circle cx="448.2" cy="160.2" r="0.85"/><circle cx="455.2" cy="153.4" r="0.85"/><circle cx="423.9" cy="158.9" r="0.85"/><circle cx="426.2" cy="162.9" r="0.85"/><circle cx="446.3" cy="161.9" r="0.85"/><circle cx="452.3" cy="158.3" r="0.85"/><circle cx="438.0" cy="165.4" r="0.85"/><circle cx="441.3" cy="165.5" r="0.85"/><circle cx="416.3" cy="159.2" r="0.85"/><circle cx="434.2" cy="165.5" r="0.85"/><circle cx="454.4" cy="155.3" r="0.85"/><circle cx="441.9" cy="164.9" r="0.85"/><circle cx="416.6" cy="149.9" r="0.85"/><circle cx="458.2" cy="150.6" r="0.85"/><circle cx="435.4" cy="165.8" r="0.85"/><circle cx="425.4" cy="163.5" r="0.85"/><circle cx="447.3" cy="163.9" r="0.85"/><circle cx="451.0" cy="161.5" r="0.85"/><circle cx="454.3" cy="159.1" r="0.85"/><circle cx="439.7" cy="165.2" r="0.85"/><circle cx="426.4" cy="162.1" r="0.85"/><circle cx="414.5" cy="158.4" r="0.85"/><circle cx="440.1" cy="165.1" r="0.85"/><circle cx="431.0" cy="164.4" r="0.85"/><circle cx="437.8" cy="165.7" r="0.85"/><circle cx="435.0" cy="165.3" r="0.85"/><circle cx="426.8" cy="163.9" r="0.85"/><circle cx="430.9" cy="163.6" r="0.85"/><circle cx="434.1" cy="165.1" r="0.85"/><circle cx="444.1" cy="164.9" r="0.85"/><circle cx="430.9" cy="165.2" r="0.85"/><circle cx="453.1" cy="156.3" r="0.85"/><circle cx="439.7" cy="165.3" r="0.85"/><circle cx="443.2" cy="164.8" r="0.85"/><circle cx="432.6" cy="164.6" r="0.85"/><circle cx="429.2" cy="164.8" r="0.85"/><circle cx="445.5" cy="163.3" r="0.85"/><circle cx="422.9" cy="157.0" r="0.85"/><circle cx="437.5" cy="165.8" r="0.85"/><circle cx="457.7" cy="156.1" r="0.85"/><circle cx="429.9" cy="164.1" r="0.85"/><circle cx="427.6" cy="161.9" r="0.85"/><circle cx="426.8" cy="164.8" r="0.85"/><circle cx="430.3" cy="162.4" r="0.85"/><circle cx="421.2" cy="159.1" r="0.85"/><circle cx="428.6" cy="164.1" r="0.85"/><circle cx="435.2" cy="165.0" r="0.85"/><circle cx="442.8" cy="164.5" r="0.85"/><circle cx="459.3" cy="152.6" r="0.85"/><circle cx="437.1" cy="165.7" r="0.85"/><circle cx="452.6" cy="163.0" r="0.85"/><circle cx="442.2" cy="164.9" r="0.85"/><circle cx="428.8" cy="164.7" r="0.85"/><circle cx="459.6" cy="148.3" r="0.85"/><circle cx="443.3" cy="165.1" r="0.85"/><circle cx="439.1" cy="165.7" r="0.85"/><circle cx="418.4" cy="153.0" r="0.85"/><circle cx="443.6" cy="163.9" r="0.85"/><circle cx="462.2" cy="145.8" r="0.85"/><circle cx="439.2" cy="165.7" r="0.85"/><circle cx="423.1" cy="157.0" r="0.85"/><circle cx="434.9" cy="165.4" r="0.85"/><circle cx="451.0" cy="161.0" r="0.85"/><circle cx="456.7" cy="159.4" r="0.85"/><circle cx="429.9" cy="165.6" r="0.85"/><circle cx="449.8" cy="159.6" r="0.85"/><circle cx="448.4" cy="163.0" r="0.85"/><circle cx="441.2" cy="164.4" r="0.85"/><circle cx="421.3" cy="162.3" r="0.85"/><circle cx="434.6" cy="164.7" r="0.85"/><circle cx="434.7" cy="165.5" r="0.85"/><circle cx="417.4" cy="152.7" r="0.85"/><circle cx="418.8" cy="153.7" r="0.85"/><circle cx="441.1" cy="165.7" r="0.85"/><circle cx="431.4" cy="165.3" r="0.85"/><circle cx="450.0" cy="163.4" r="0.85"/><circle cx="447.8" cy="161.7" r="0.85"/><circle cx="452.1" cy="161.5" r="0.85"/><circle cx="452.6" cy="162.8" r="0.85"/><circle cx="432.7" cy="164.3" r="0.85"/><circle cx="425.4" cy="162.9" r="0.85"/><circle cx="443.8" cy="163.4" r="0.85"/><circle cx="443.1" cy="165.5" r="0.85"/><circle cx="430.2" cy="163.8" r="0.85"/><circle cx="459.4" cy="154.2" r="0.85"/><circle cx="438.6" cy="165.7" r="0.85"/><circle cx="440.4" cy="165.3" r="0.85"/><circle cx="449.6" cy="162.1" r="0.85"/><circle cx="451.6" cy="162.3" r="0.85"/><circle cx="436.9" cy="165.7" r="0.85"/><circle cx="434.9" cy="165.4" r="0.85"/><circle cx="425.2" cy="161.0" r="0.85"/><circle cx="432.9" cy="164.9" r="0.85"/><circle cx="446.3" cy="164.6" r="0.85"/><circle cx="443.9" cy="162.9" r="0.85"/><circle cx="418.0" cy="151.5" r="0.85"/><circle cx="433.7" cy="164.9" r="0.85"/><circle cx="437.1" cy="165.8" r="0.85"/><circle cx="423.1" cy="159.1" r="0.85"/><circle cx="452.1" cy="160.6" r="0.85"/><circle cx="418.0" cy="159.4" r="0.85"/><circle cx="444.5" cy="162.9" r="0.85"/><circle cx="438.3" cy="165.3" r="0.85"/><circle cx="413.3" cy="152.0" r="0.85"/><circle cx="446.1" cy="164.9" r="0.85"/><circle cx="445.5" cy="163.3" r="0.85"/><circle cx="435.4" cy="165.5" r="0.85"/><circle cx="454.5" cy="158.4" r="0.85"/><circle cx="445.3" cy="164.0" r="0.85"/><circle cx="422.4" cy="163.0" r="0.85"/><circle cx="437.8" cy="165.8" r="0.85"/><circle cx="442.4" cy="163.9" r="0.85"/><circle cx="420.2" cy="157.7" r="0.85"/><circle cx="450.7" cy="162.9" r="0.85"/><circle cx="448.9" cy="162.9" r="0.85"/><circle cx="425.6" cy="158.9" r="0.85"/><circle cx="439.4" cy="165.8" r="0.85"/><circle cx="429.3" cy="162.9" r="0.85"/><circle cx="432.5" cy="164.9" r="0.85"/><circle cx="421.6" cy="160.7" r="0.85"/><circle cx="433.3" cy="165.8" r="0.85"/><circle cx="431.0" cy="163.2" r="0.85"/><circle cx="421.8" cy="159.2" r="0.85"/><circle cx="444.8" cy="163.9" r="0.85"/><circle cx="423.7" cy="157.3" r="0.85"/><circle cx="422.6" cy="159.5" r="0.85"/><circle cx="451.0" cy="158.4" r="0.85"/><circle cx="461.8" cy="150.1" r="0.85"/><circle cx="453.4" cy="159.8" r="0.85"/><circle cx="423.6" cy="159.2" r="0.85"/><circle cx="425.0" cy="161.6" r="0.85"/><circle cx="450.4" cy="159.8" r="0.85"/><circle cx="445.9" cy="164.2" r="0.85"/><circle cx="431.4" cy="164.7" r="0.85"/><circle cx="447.6" cy="162.1" r="0.85"/><circle cx="423.9" cy="159.7" r="0.85"/><circle cx="425.1" cy="161.8" r="0.85"/><circle cx="430.6" cy="162.9" r="0.85"/><circle cx="425.2" cy="163.7" r="0.85"/><circle cx="433.0" cy="165.5" r="0.85"/><circle cx="429.8" cy="164.8" r="0.85"/><circle cx="427.8" cy="162.9" r="0.85"/><circle cx="436.3" cy="165.4" r="0.85"/><circle cx="418.3" cy="153.7" r="0.85"/><circle cx="440.8" cy="165.3" r="0.85"/><circle cx="444.2" cy="163.5" r="0.85"/><circle cx="433.9" cy="164.9" r="0.85"/><circle cx="444.6" cy="164.6" r="0.85"/><circle cx="429.6" cy="164.2" r="0.85"/><circle cx="456.4" cy="157.1" r="0.85"/><circle cx="429.2" cy="162.1" r="0.85"/><circle cx="452.7" cy="162.5" r="0.85"/><circle cx="426.6" cy="160.1" r="0.85"/><circle cx="415.3" cy="159.4" r="0.85"/><circle cx="440.7" cy="164.7" r="0.85"/><circle cx="446.9" cy="163.4" r="0.85"/><circle cx="425.4" cy="162.6" r="0.85"/><circle cx="423.6" cy="162.4" r="0.85"/><circle cx="421.2" cy="158.3" r="0.85"/><circle cx="436.6" cy="165.8" r="0.85"/><circle cx="443.4" cy="164.8" r="0.85"/><circle cx="426.3" cy="163.3" r="0.85"/><circle cx="444.3" cy="164.0" r="0.85"/><circle cx="432.4" cy="164.8" r="0.85"/><circle cx="448.0" cy="161.1" r="0.85"/><circle cx="455.5" cy="161.4" r="0.85"/><circle cx="419.6" cy="158.7" r="0.85"/><circle cx="451.2" cy="158.3" r="0.85"/><circle cx="448.8" cy="160.9" r="0.85"/><circle cx="445.1" cy="162.8" r="0.85"/><circle cx="438.3" cy="165.7" r="0.85"/><circle cx="431.4" cy="163.4" r="0.85"/><circle cx="452.2" cy="162.1" r="0.85"/><circle cx="438.1" cy="165.6" r="0.85"/><circle cx="432.7" cy="164.7" r="0.85"/><circle cx="424.8" cy="159.7" r="0.85"/><circle cx="432.0" cy="165.2" r="0.85"/><circle cx="438.4" cy="165.4" r="0.85"/><circle cx="416.2" cy="149.6" r="0.85"/><circle cx="436.8" cy="165.4" r="0.85"/><circle cx="455.2" cy="161.8" r="0.85"/><circle cx="423.7" cy="161.4" r="0.85"/><circle cx="448.3" cy="164.5" r="0.85"/><circle cx="444.8" cy="163.1" r="0.85"/><circle cx="436.7" cy="165.6" r="0.85"/><circle cx="442.2" cy="164.5" r="0.85"/><circle cx="415.9" cy="156.8" r="0.85"/><circle cx="451.9" cy="159.0" r="0.85"/><circle cx="429.8" cy="163.5" r="0.85"/><circle cx="439.5" cy="165.5" r="0.85"/><circle cx="434.1" cy="164.6" r="0.85"/><circle cx="433.5" cy="164.8" r="0.85"/><circle cx="440.8" cy="165.7" r="0.85"/><circle cx="416.8" cy="155.1" r="0.85"/><circle cx="424.7" cy="160.7" r="0.85"/><circle cx="451.9" cy="158.6" r="0.85"/><circle cx="443.0" cy="164.1" r="0.85"/><circle cx="436.9" cy="165.4" r="0.85"/><circle cx="435.1" cy="165.8" r="0.85"/><circle cx="435.8" cy="165.5" r="0.85"/><circle cx="414.2" cy="155.9" r="0.85"/><circle cx="449.5" cy="161.5" r="0.85"/><circle cx="449.4" cy="161.4" r="0.85"/><circle cx="434.9" cy="165.3" r="0.85"/><circle cx="451.0" cy="162.0" r="0.85"/><circle cx="443.0" cy="165.5" r="0.85"/><circle cx="432.7" cy="164.1" r="0.85"/><circle cx="446.6" cy="163.0" r="0.85"/><circle cx="456.9" cy="158.3" r="0.85"/><circle cx="435.8" cy="165.5" r="0.85"/><circle cx="424.6" cy="162.6" r="0.85"/><circle cx="428.3" cy="163.0" r="0.85"/><circle cx="452.9" cy="158.2" r="0.85"/><circle cx="429.6" cy="163.7" r="0.85"/><circle cx="427.1" cy="162.2" r="0.85"/><circle cx="416.1" cy="156.2" r="0.85"/><circle cx="455.9" cy="156.9" r="0.85"/><circle cx="433.3" cy="165.1" r="0.85"/><circle cx="435.4" cy="165.6" r="0.85"/><circle cx="438.6" cy="165.3" r="0.85"/><circle cx="419.3" cy="153.1" r="0.85"/><circle cx="431.6" cy="164.6" r="0.85"/><circle cx="434.7" cy="164.9" r="0.85"/><circle cx="430.7" cy="164.8" r="0.85"/><circle cx="419.4" cy="161.8" r="0.85"/><circle cx="436.0" cy="165.3" r="0.85"/><circle cx="437.0" cy="165.2" r="0.85"/><circle cx="439.3" cy="165.2" r="0.85"/><circle cx="436.7" cy="165.4" r="0.85"/><circle cx="455.6" cy="155.2" r="0.85"/><circle cx="435.3" cy="165.5" r="0.85"/><circle cx="431.1" cy="164.3" r="0.85"/><circle cx="432.2" cy="165.3" r="0.85"/><circle cx="428.1" cy="162.0" r="0.85"/><circle cx="455.1" cy="154.9" r="0.85"/><circle cx="451.6" cy="160.3" r="0.85"/><circle cx="456.8" cy="158.2" r="0.85"/><circle cx="434.7" cy="164.5" r="0.85"/><circle cx="435.2" cy="165.7" r="0.85"/><circle cx="425.5" cy="161.7" r="0.85"/><circle cx="444.5" cy="163.3" r="0.85"/><circle cx="424.9" cy="160.0" r="0.85"/><circle cx="446.7" cy="163.9" r="0.85"/><circle cx="426.5" cy="160.8" r="0.85"/><circle cx="449.3" cy="163.7" r="0.85"/><circle cx="439.6" cy="165.8" r="0.85"/><circle cx="443.1" cy="163.1" r="0.85"/><circle cx="447.1" cy="164.3" r="0.85"/><circle cx="427.2" cy="163.7" r="0.85"/><circle cx="430.0" cy="164.9" r="0.85"/><circle cx="451.3" cy="158.9" r="0.85"/><circle cx="437.1" cy="165.6" r="0.85"/><circle cx="450.1" cy="162.9" r="0.85"/><circle cx="452.1" cy="162.1" r="0.85"/><circle cx="450.0" cy="161.4" r="0.85"/><circle cx="423.2" cy="161.2" r="0.85"/><circle cx="419.6" cy="158.6" r="0.85"/><circle cx="437.4" cy="165.6" r="0.85"/><circle cx="418.2" cy="156.8" r="0.85"/><circle cx="433.7" cy="164.7" r="0.85"/><circle cx="427.9" cy="161.9" r="0.85"/><circle cx="423.6" cy="158.8" r="0.85"/><circle cx="438.1" cy="165.6" r="0.85"/><circle cx="430.0" cy="163.8" r="0.85"/><circle cx="435.7" cy="165.3" r="0.85"/><circle cx="447.1" cy="162.2" r="0.85"/><circle cx="432.9" cy="165.7" r="0.85"/><circle cx="450.0" cy="158.5" r="0.85"/><circle cx="418.6" cy="155.0" r="0.85"/><circle cx="433.7" cy="165.4" r="0.85"/><circle cx="435.4" cy="165.7" r="0.85"/><circle cx="453.5" cy="158.0" r="0.85"/><circle cx="442.0" cy="165.1" r="0.85"/><circle cx="433.0" cy="164.5" r="0.85"/><circle cx="442.0" cy="164.3" r="0.85"/><circle cx="445.3" cy="164.2" r="0.85"/><circle cx="428.0" cy="163.3" r="0.85"/><circle cx="448.0" cy="160.2" r="0.85"/><circle cx="420.8" cy="155.6" r="0.85"/><circle cx="431.9" cy="163.4" r="0.85"/><circle cx="455.3" cy="158.7" r="0.85"/><circle cx="441.7" cy="165.1" r="0.85"/><circle cx="432.4" cy="164.4" r="0.85"/><circle cx="439.0" cy="165.7" r="0.85"/><circle cx="457.6" cy="153.0" r="0.85"/><circle cx="434.5" cy="165.6" r="0.85"/><circle cx="445.3" cy="164.5" r="0.85"/><circle cx="436.2" cy="165.4" r="0.85"/><circle cx="445.5" cy="164.7" r="0.85"/><circle cx="444.4" cy="163.9" r="0.85"/><circle cx="453.7" cy="160.7" r="0.85"/><circle cx="454.0" cy="156.6" r="0.85"/><circle cx="422.8" cy="158.6" r="0.85"/><circle cx="436.2" cy="165.8" r="0.85"/><circle cx="449.8" cy="159.0" r="0.85"/><circle cx="448.2" cy="163.4" r="0.85"/><circle cx="435.9" cy="165.2" r="0.85"/><circle cx="417.3" cy="159.1" r="0.85"/><circle cx="422.8" cy="160.2" r="0.85"/><circle cx="455.7" cy="153.0" r="0.85"/><circle cx="421.4" cy="162.3" r="0.85"/><circle cx="447.6" cy="164.5" r="0.85"/><circle cx="445.9" cy="163.5" r="0.85"/><circle cx="440.3" cy="165.0" r="0.85"/><circle cx="434.4" cy="165.4" r="0.85"/><circle cx="448.4" cy="163.7" r="0.85"/><circle cx="415.6" cy="151.1" r="0.85"/><circle cx="422.7" cy="158.6" r="0.85"/><circle cx="434.2" cy="165.1" r="0.85"/><circle cx="445.1" cy="165.3" r="0.85"/><circle cx="439.3" cy="165.5" r="0.85"/><circle cx="442.2" cy="165.0" r="0.85"/><circle cx="422.7" cy="157.4" r="0.85"/><circle cx="433.1" cy="165.5" r="0.85"/><circle cx="443.1" cy="165.0" r="0.85"/><circle cx="435.5" cy="165.0" r="0.85"/><circle cx="428.4" cy="161.8" r="0.85"/><circle cx="443.7" cy="165.1" r="0.85"/><circle cx="440.2" cy="165.3" r="0.85"/><circle cx="454.3" cy="158.7" r="0.85"/><circle cx="437.7" cy="165.1" r="0.85"/><circle cx="415.7" cy="149.1" r="0.85"/><circle cx="419.9" cy="155.2" r="0.85"/><circle cx="445.3" cy="162.6" r="0.85"/><circle cx="438.5" cy="165.3" r="0.85"/><circle cx="444.9" cy="162.4" r="0.85"/><circle cx="459.2" cy="157.0" r="0.85"/><circle cx="425.7" cy="161.5" r="0.85"/><circle cx="419.3" cy="160.1" r="0.85"/><circle cx="430.9" cy="164.7" r="0.85"/><circle cx="430.4" cy="163.9" r="0.85"/><circle cx="448.3" cy="164.1" r="0.85"/><circle cx="423.6" cy="163.4" r="0.85"/><circle cx="437.0" cy="165.5" r="0.85"/><circle cx="441.9" cy="165.3" r="0.85"/><circle cx="436.4" cy="165.8" r="0.85"/><circle cx="433.5" cy="164.7" r="0.85"/><circle cx="431.5" cy="165.1" r="0.85"/><circle cx="430.4" cy="163.6" r="0.85"/><circle cx="440.1" cy="165.6" r="0.85"/><circle cx="447.2" cy="164.9" r="0.85"/><circle cx="426.6" cy="163.2" r="0.85"/><circle cx="438.1" cy="165.6" r="0.85"/><circle cx="430.3" cy="162.6" r="0.85"/><circle cx="431.2" cy="163.6" r="0.85"/><circle cx="456.1" cy="153.9" r="0.85"/><circle cx="435.8" cy="165.7" r="0.85"/><circle cx="449.2" cy="163.3" r="0.85"/><circle cx="458.1" cy="159.7" r="0.85"/><circle cx="439.1" cy="165.6" r="0.85"/><circle cx="439.7" cy="165.2" r="0.85"/><circle cx="446.7" cy="164.2" r="0.85"/><circle cx="426.9" cy="160.6" r="0.85"/><circle cx="432.1" cy="164.2" r="0.85"/><circle cx="432.3" cy="165.1" r="0.85"/><circle cx="420.8" cy="158.5" r="0.85"/><circle cx="436.5" cy="165.3" r="0.85"/><circle cx="447.6" cy="162.0" r="0.85"/><circle cx="455.5" cy="155.6" r="0.85"/><circle cx="434.6" cy="164.5" r="0.85"/><circle cx="421.9" cy="158.1" r="0.85"/><circle cx="437.5" cy="165.6" r="0.85"/><circle cx="419.9" cy="154.8" r="0.85"/><circle cx="436.7" cy="165.5" r="0.85"/><circle cx="442.5" cy="164.5" r="0.85"/><circle cx="435.2" cy="165.7" r="0.85"/><circle cx="422.6" cy="162.0" r="0.85"/><circle cx="428.9" cy="161.9" r="0.85"/><circle cx="454.3" cy="161.9" r="0.85"/><circle cx="427.7" cy="163.6" r="0.85"/><circle cx="454.5" cy="156.8" r="0.85"/><circle cx="436.1" cy="165.1" r="0.85"/><circle cx="419.2" cy="159.8" r="0.85"/><circle cx="456.1" cy="157.1" r="0.85"/><circle cx="447.7" cy="164.4" r="0.85"/><circle cx="442.9" cy="164.9" r="0.85"/><circle cx="440.7" cy="164.5" r="0.85"/><circle cx="444.1" cy="163.8" r="0.85"/><circle cx="452.9" cy="162.5" r="0.85"/><circle cx="432.8" cy="163.8" r="0.85"/><circle cx="427.7" cy="163.4" r="0.85"/><circle cx="435.2" cy="165.4" r="0.85"/><circle cx="433.3" cy="165.5" r="0.85"/><circle cx="458.9" cy="156.9" r="0.85"/><circle cx="434.4" cy="164.3" r="0.85"/><circle cx="433.0" cy="164.3" r="0.85"/><circle cx="437.7" cy="165.7" r="0.85"/><circle cx="444.7" cy="165.0" r="0.85"/><circle cx="446.1" cy="164.4" r="0.85"/><circle cx="424.9" cy="160.6" r="0.85"/><circle cx="440.0" cy="165.5" r="0.85"/><circle cx="421.4" cy="162.4" r="0.85"/><circle cx="428.3" cy="165.1" r="0.85"/><circle cx="446.4" cy="163.7" r="0.85"/><circle cx="441.6" cy="165.0" r="0.85"/><circle cx="453.8" cy="161.5" r="0.85"/><circle cx="447.2" cy="162.5" r="0.85"/><circle cx="416.5" cy="152.0" r="0.85"/><circle cx="435.0" cy="165.8" r="0.85"/><circle cx="442.0" cy="165.5" r="0.85"/><circle cx="415.6" cy="155.0" r="0.85"/><circle cx="439.9" cy="165.7" r="0.85"/><circle cx="446.3" cy="163.4" r="0.85"/><circle cx="445.7" cy="162.8" r="0.85"/><circle cx="444.7" cy="163.7" r="0.85"/><circle cx="428.8" cy="163.9" r="0.85"/><circle cx="444.4" cy="164.0" r="0.85"/><circle cx="443.1" cy="163.8" r="0.85"/><circle cx="446.4" cy="162.5" r="0.85"/><circle cx="438.8" cy="165.8" r="0.85"/><circle cx="438.8" cy="165.3" r="0.85"/><circle cx="425.3" cy="163.0" r="0.85"/><circle cx="431.1" cy="164.4" r="0.85"/><circle cx="421.0" cy="161.1" r="0.85"/><circle cx="433.6" cy="165.4" r="0.85"/><circle cx="432.6" cy="164.0" r="0.85"/><circle cx="431.8" cy="164.3" r="0.85"/><circle cx="425.5" cy="159.5" r="0.85"/><circle cx="434.6" cy="164.9" r="0.85"/><circle cx="417.7" cy="153.3" r="0.85"/><circle cx="444.9" cy="162.1" r="0.85"/><circle cx="424.6" cy="159.9" r="0.85"/><circle cx="435.2" cy="165.6" r="0.85"/><circle cx="445.3" cy="163.9" r="0.85"/><circle cx="438.4" cy="165.5" r="0.85"/><circle cx="451.0" cy="158.3" r="0.85"/><circle cx="434.0" cy="165.3" r="0.85"/><circle cx="446.6" cy="161.3" r="0.85"/><circle cx="439.1" cy="165.4" r="0.85"/><circle cx="422.3" cy="157.0" r="0.85"/><circle cx="441.0" cy="164.6" r="0.85"/><circle cx="423.9" cy="162.7" r="0.85"/><circle cx="438.1" cy="165.5" r="0.85"/><circle cx="428.2" cy="163.9" r="0.85"/><circle cx="441.1" cy="164.5" r="0.85"/><circle cx="424.8" cy="163.2" r="0.85"/><circle cx="439.5" cy="165.2" r="0.85"/><circle cx="447.4" cy="162.7" r="0.85"/><circle cx="418.8" cy="156.2" r="0.85"/><circle cx="436.1" cy="165.7" r="0.85"/><circle cx="435.3" cy="165.2" r="0.85"/><circle cx="442.6" cy="165.3" r="0.85"/><circle cx="454.5" cy="154.4" r="0.85"/><circle cx="430.6" cy="163.8" r="0.85"/><circle cx="427.3" cy="161.2" r="0.85"/><circle cx="436.6" cy="165.6" r="0.85"/><circle cx="438.9" cy="165.0" r="0.85"/><circle cx="435.6" cy="165.8" r="0.85"/><circle cx="428.4" cy="163.6" r="0.85"/><circle cx="434.7" cy="165.3" r="0.85"/><circle cx="448.2" cy="162.0" r="0.85"/><circle cx="459.0" cy="150.5" r="0.85"/><circle cx="427.7" cy="161.2" r="0.85"/><circle cx="446.5" cy="164.6" r="0.85"/><circle cx="445.4" cy="162.5" r="0.85"/><circle cx="446.8" cy="161.8" r="0.85"/><circle cx="424.5" cy="159.2" r="0.85"/><circle cx="442.6" cy="164.0" r="0.85"/><circle cx="449.0" cy="161.8" r="0.85"/><circle cx="423.3" cy="161.0" r="0.85"/><circle cx="445.6" cy="163.1" r="0.85"/><circle cx="422.5" cy="159.6" r="0.85"/><circle cx="436.3" cy="165.6" r="0.85"/><circle cx="418.5" cy="153.7" r="0.85"/><circle cx="454.6" cy="155.6" r="0.85"/><circle cx="440.1" cy="165.4" r="0.85"/><circle cx="431.9" cy="164.4" r="0.85"/><circle cx="427.9" cy="163.9" r="0.85"/><circle cx="445.6" cy="163.4" r="0.85"/><circle cx="413.1" cy="154.1" r="0.85"/><circle cx="439.9" cy="165.2" r="0.85"/><circle cx="448.4" cy="164.2" r="0.85"/><circle cx="431.1" cy="163.1" r="0.85"/><circle cx="426.6" cy="164.1" r="0.85"/><circle cx="435.2" cy="165.5" r="0.85"/><circle cx="435.4" cy="165.6" r="0.85"/><circle cx="448.1" cy="162.3" r="0.85"/><circle cx="434.0" cy="165.4" r="0.85"/><circle cx="438.4" cy="165.4" r="0.85"/><circle cx="442.6" cy="164.5" r="0.85"/><circle cx="437.7" cy="165.4" r="0.85"/><circle cx="421.5" cy="157.8" r="0.85"/><circle cx="436.2" cy="165.7" r="0.85"/><circle cx="453.1" cy="162.6" r="0.85"/><circle cx="444.5" cy="164.8" r="0.85"/><circle cx="442.7" cy="163.9" r="0.85"/><circle cx="440.9" cy="165.3" r="0.85"/><circle cx="437.3" cy="165.8" r="0.85"/><circle cx="429.4" cy="163.5" r="0.85"/><circle cx="445.7" cy="164.1" r="0.85"/><circle cx="421.5" cy="160.7" r="0.85"/><circle cx="425.9" cy="159.4" r="0.85"/><circle cx="445.6" cy="163.1" r="0.85"/><circle cx="431.3" cy="163.7" r="0.85"/><circle cx="438.8" cy="165.6" r="0.85"/><circle cx="450.8" cy="158.2" r="0.85"/><circle cx="430.6" cy="163.8" r="0.85"/><circle cx="435.5" cy="165.4" r="0.85"/><circle cx="430.2" cy="164.0" r="0.85"/><circle cx="450.6" cy="160.8" r="0.85"/><circle cx="452.8" cy="159.1" r="0.85"/><circle cx="452.1" cy="160.0" r="0.85"/><circle cx="427.6" cy="161.7" r="0.85"/><circle cx="454.1" cy="154.6" r="0.85"/><circle cx="434.0" cy="165.0" r="0.85"/><circle cx="437.7" cy="165.6" r="0.85"/><circle cx="420.5" cy="158.0" r="0.85"/><circle cx="421.9" cy="156.9" r="0.85"/><circle cx="449.2" cy="160.8" r="0.85"/><circle cx="444.2" cy="162.7" r="0.85"/><circle cx="448.1" cy="160.9" r="0.85"/><circle cx="416.7" cy="154.0" r="0.85"/><circle cx="429.3" cy="163.8" r="0.85"/><circle cx="430.7" cy="163.5" r="0.85"/><circle cx="433.7" cy="165.1" r="0.85"/><circle cx="414.5" cy="149.6" r="0.85"/><circle cx="428.5" cy="164.9" r="0.85"/><circle cx="441.1" cy="164.8" r="0.85"/><circle cx="444.1" cy="163.9" r="0.85"/><circle cx="446.8" cy="163.7" r="0.85"/><circle cx="438.4" cy="165.8" r="0.85"/><circle cx="434.5" cy="165.6" r="0.85"/><circle cx="457.0" cy="151.6" r="0.85"/><circle cx="446.6" cy="161.6" r="0.85"/><circle cx="426.7" cy="159.9" r="0.85"/><circle cx="429.6" cy="162.0" r="0.85"/><circle cx="436.9" cy="165.5" r="0.85"/><circle cx="430.2" cy="164.0" r="0.85"/><circle cx="458.0" cy="156.2" r="0.85"/><circle cx="451.0" cy="161.6" r="0.85"/><circle cx="454.7" cy="161.4" r="0.85"/><circle cx="429.2" cy="164.4" r="0.85"/><circle cx="432.1" cy="165.1" r="0.85"/><circle cx="426.9" cy="160.8" r="0.85"/><circle cx="429.9" cy="164.1" r="0.85"/><circle cx="457.7" cy="151.5" r="0.85"/><circle cx="429.3" cy="162.1" r="0.85"/><circle cx="435.7" cy="165.5" r="0.85"/><circle cx="436.9" cy="165.7" r="0.85"/><circle cx="435.1" cy="165.7" r="0.85"/><circle cx="435.8" cy="165.2" r="0.85"/><circle cx="440.4" cy="165.6" r="0.85"/><circle cx="443.1" cy="164.0" r="0.85"/><circle cx="453.1" cy="163.0" r="0.85"/><circle cx="432.9" cy="164.1" r="0.85"/><circle cx="447.3" cy="160.9" r="0.85"/><circle cx="442.9" cy="164.6" r="0.85"/><circle cx="444.8" cy="163.8" r="0.85"/><circle cx="437.8" cy="165.8" r="0.85"/><circle cx="444.2" cy="163.8" r="0.85"/><circle cx="458.5" cy="150.4" r="0.85"/><circle cx="416.7" cy="154.7" r="0.85"/><circle cx="418.6" cy="154.1" r="0.85"/><circle cx="425.5" cy="164.0" r="0.85"/><circle cx="454.5" cy="158.5" r="0.85"/><circle cx="462.1" cy="156.5" r="0.85"/><circle cx="452.0" cy="163.2" r="0.85"/><circle cx="423.3" cy="161.7" r="0.85"/><circle cx="449.0" cy="160.9" r="0.85"/><circle cx="414.7" cy="156.3" r="0.85"/><circle cx="453.0" cy="162.3" r="0.85"/><circle cx="422.1" cy="158.8" r="0.85"/><circle cx="451.1" cy="161.4" r="0.85"/><circle cx="460.0" cy="149.8" r="0.85"/><circle cx="422.5" cy="163.1" r="0.85"/><circle cx="423.5" cy="157.7" r="0.85"/><circle cx="413.9" cy="157.8" r="0.85"/><circle cx="414.9" cy="150.0" r="0.85"/><circle cx="455.4" cy="161.5" r="0.85"/><circle cx="453.8" cy="156.6" r="0.85"/><circle cx="421.5" cy="161.0" r="0.85"/><circle cx="423.0" cy="162.5" r="0.85"/><circle cx="418.5" cy="152.5" r="0.85"/><circle cx="454.4" cy="162.4" r="0.85"/><circle cx="461.0" cy="147.1" r="0.85"/><circle cx="422.5" cy="158.8" r="0.85"/><circle cx="425.2" cy="161.0" r="0.85"/><circle cx="461.2" cy="149.1" r="0.85"/><circle cx="456.9" cy="160.4" r="0.85"/><circle cx="412.7" cy="150.8" r="0.85"/><circle cx="420.9" cy="156.2" r="0.85"/><circle cx="461.6" cy="147.5" r="0.85"/><circle cx="426.1" cy="163.6" r="0.85"/><circle cx="418.9" cy="154.0" r="0.85"/><circle cx="416.8" cy="151.7" r="0.85"/><circle cx="459.1" cy="159.2" r="0.85"/><circle cx="451.8" cy="160.5" r="0.85"/><circle cx="459.1" cy="154.6" r="0.85"/><circle cx="461.3" cy="148.8" r="0.85"/><circle cx="462.2" cy="156.8" r="0.85"/><circle cx="412.8" cy="146.2" r="0.85"/><circle cx="414.1" cy="150.1" r="0.85"/><circle cx="423.5" cy="163.5" r="0.85"/><circle cx="412.8" cy="153.9" r="0.85"/><circle cx="454.0" cy="159.6" r="0.85"/><circle cx="458.3" cy="151.1" r="0.85"/><circle cx="457.4" cy="154.1" r="0.85"/><circle cx="455.9" cy="153.4" r="0.85"/><circle cx="449.1" cy="160.3" r="0.85"/><circle cx="420.9" cy="156.1" r="0.85"/><circle cx="449.8" cy="160.9" r="0.85"/><circle cx="451.2" cy="160.7" r="0.85"/><circle cx="450.8" cy="162.3" r="0.85"/><circle cx="456.2" cy="154.2" r="0.85"/><circle cx="456.4" cy="153.5" r="0.85"/><circle cx="425.4" cy="159.2" r="0.85"/><circle cx="417.7" cy="154.4" r="0.85"/><circle cx="453.0" cy="156.3" r="0.85"/><circle cx="422.3" cy="156.0" r="0.85"/><circle cx="417.5" cy="153.0" r="0.85"/><circle cx="420.4" cy="157.7" r="0.85"/><circle cx="419.8" cy="159.1" r="0.85"/><circle cx="425.7" cy="161.3" r="0.85"/><circle cx="453.5" cy="155.2" r="0.85"/><circle cx="421.0" cy="161.5" r="0.85"/><circle cx="452.6" cy="158.1" r="0.85"/><circle cx="422.8" cy="160.4" r="0.85"/><circle cx="459.7" cy="154.6" r="0.85"/><circle cx="450.1" cy="161.7" r="0.85"/><circle cx="414.9" cy="156.7" r="0.85"/><circle cx="421.2" cy="162.2" r="0.85"/><circle cx="424.6" cy="159.1" r="0.85"/><circle cx="461.4" cy="153.0" r="0.85"/><circle cx="449.8" cy="159.2" r="0.85"/><circle cx="422.9" cy="157.6" r="0.85"/><circle cx="415.9" cy="151.1" r="0.85"/><circle cx="450.6" cy="160.1" r="0.85"/><circle cx="449.0" cy="163.8" r="0.85"/><circle cx="454.9" cy="157.9" r="0.85"/><circle cx="455.5" cy="160.0" r="0.85"/><circle cx="459.1" cy="152.0" r="0.85"/><circle cx="449.4" cy="159.0" r="0.85"/><circle cx="457.6" cy="152.8" r="0.85"/><circle cx="456.3" cy="154.8" r="0.85"/><circle cx="452.5" cy="157.7" r="0.85"/><circle cx="459.2" cy="158.2" r="0.85"/><circle cx="454.3" cy="155.3" r="0.85"/><circle cx="425.4" cy="159.1" r="0.85"/><circle cx="457.8" cy="153.8" r="0.85"/><circle cx="417.8" cy="160.6" r="0.85"/><circle cx="416.5" cy="158.4" r="0.85"/><circle cx="451.9" cy="163.1" r="0.85"/><circle cx="423.9" cy="160.1" r="0.85"/><circle cx="458.1" cy="157.6" r="0.85"/><circle cx="413.4" cy="147.9" r="0.85"/><circle cx="461.8" cy="147.5" r="0.85"/><circle cx="424.5" cy="158.1" r="0.85"/><circle cx="454.6" cy="156.6" r="0.85"/><circle cx="453.0" cy="158.5" r="0.85"/><circle cx="423.3" cy="161.7" r="0.85"/><circle cx="460.6" cy="149.8" r="0.85"/><circle cx="426.0" cy="161.5" r="0.85"/><circle cx="423.4" cy="160.6" r="0.85"/><circle cx="415.7" cy="152.1" r="0.85"/><circle cx="414.3" cy="148.8" r="0.85"/><circle cx="417.9" cy="152.3" r="0.85"/><circle cx="423.2" cy="161.0" r="0.85"/><circle cx="423.6" cy="158.1" r="0.85"/><circle cx="461.6" cy="151.8" r="0.85"/><circle cx="458.1" cy="155.3" r="0.85"/><circle cx="452.9" cy="159.7" r="0.85"/><circle cx="457.6" cy="154.6" r="0.85"/><circle cx="425.4" cy="163.4" r="0.85"/><circle cx="458.7" cy="150.7" r="0.85"/><circle cx="451.8" cy="162.1" r="0.85"/><circle cx="412.7" cy="145.5" r="0.85"/><circle cx="419.1" cy="158.2" r="0.85"/><circle cx="459.1" cy="155.9" r="0.85"/><circle cx="461.1" cy="149.3" r="0.85"/><circle cx="449.9" cy="159.5" r="0.85"/><circle cx="425.2" cy="159.6" r="0.85"/><circle cx="453.3" cy="161.0" r="0.85"/><circle cx="458.9" cy="152.2" r="0.85"/><circle cx="415.8" cy="149.3" r="0.85"/><circle cx="449.3" cy="160.2" r="0.85"/><circle cx="456.7" cy="160.4" r="0.85"/><circle cx="456.7" cy="156.7" r="0.85"/><circle cx="451.3" cy="161.3" r="0.85"/><circle cx="413.9" cy="146.8" r="0.85"/><circle cx="422.6" cy="160.3" r="0.85"/><circle cx="455.1" cy="161.5" r="0.85"/><circle cx="451.0" cy="162.3" r="0.85"/><circle cx="460.8" cy="148.3" r="0.85"/><circle cx="412.8" cy="158.1" r="0.85"/><circle cx="452.5" cy="160.9" r="0.85"/><circle cx="418.0" cy="152.5" r="0.85"/><circle cx="418.7" cy="157.4" r="0.85"/><circle cx="456.1" cy="159.2" r="0.85"/><circle cx="455.5" cy="161.2" r="0.85"/><circle cx="419.0" cy="159.5" r="0.85"/><circle cx="420.9" cy="160.8" r="0.85"/><circle cx="418.8" cy="156.6" r="0.85"/><circle cx="452.2" cy="158.4" r="0.85"/><circle cx="421.4" cy="158.2" r="0.85"/><circle cx="421.1" cy="156.7" r="0.85"/><circle cx="457.4" cy="158.0" r="0.85"/><circle cx="455.5" cy="158.1" r="0.85"/><circle cx="450.0" cy="163.2" r="0.85"/><circle cx="461.3" cy="150.6" r="0.85"/><circle cx="454.9" cy="155.6" r="0.85"/><circle cx="461.0" cy="146.8" r="0.85"/><circle cx="451.5" cy="163.0" r="0.85"/><circle cx="418.8" cy="157.3" r="0.85"/><circle cx="450.9" cy="162.1" r="0.85"/><circle cx="422.8" cy="160.9" r="0.85"/><circle cx="450.9" cy="158.1" r="0.85"/><circle cx="413.8" cy="155.5" r="0.85"/><circle cx="455.5" cy="158.9" r="0.85"/><circle cx="420.6" cy="160.1" r="0.85"/><circle cx="421.0" cy="160.6" r="0.85"/><circle cx="421.3" cy="156.6" r="0.85"/><circle cx="455.8" cy="159.2" r="0.85"/><circle cx="421.6" cy="157.8" r="0.85"/><circle cx="459.8" cy="150.8" r="0.85"/><circle cx="426.1" cy="163.8" r="0.85"/><circle cx="414.0" cy="153.6" r="0.85"/><circle cx="419.0" cy="160.5" r="0.85"/><circle cx="453.4" cy="159.2" r="0.85"/><circle cx="425.4" cy="162.3" r="0.85"/><circle cx="416.8" cy="158.4" r="0.85"/><circle cx="458.9" cy="150.1" r="0.85"/><circle cx="417.4" cy="151.2" r="0.85"/><circle cx="422.0" cy="159.2" r="0.85"/><circle cx="457.0" cy="158.7" r="0.85"/><circle cx="422.7" cy="161.1" r="0.85"/><circle cx="421.4" cy="155.4" r="0.85"/><circle cx="417.6" cy="154.6" r="0.85"/><circle cx="455.7" cy="153.7" r="0.85"/><circle cx="459.4" cy="151.0" r="0.85"/><circle cx="462.4" cy="146.0" r="0.85"/><circle cx="415.9" cy="151.7" r="0.85"/><circle cx="452.7" cy="162.9" r="0.85"/><circle cx="422.6" cy="156.3" r="0.85"/><circle cx="454.4" cy="160.3" r="0.85"/><circle cx="450.9" cy="159.2" r="0.85"/><circle cx="417.5" cy="157.6" r="0.85"/><circle cx="459.0" cy="154.2" r="0.85"/><circle cx="414.7" cy="157.9" r="0.85"/><circle cx="452.1" cy="159.4" r="0.85"/><circle cx="422.5" cy="162.2" r="0.85"/><circle cx="460.1" cy="159.4" r="0.85"/><circle cx="453.2" cy="162.0" r="0.85"/><circle cx="460.3" cy="148.5" r="0.85"/><circle cx="423.9" cy="163.7" r="0.85"/><circle cx="425.7" cy="160.7" r="0.85"/><circle cx="420.6" cy="157.7" r="0.85"/><circle cx="425.4" cy="162.6" r="0.85"/><circle cx="425.7" cy="162.8" r="0.85"/><circle cx="421.6" cy="162.8" r="0.85"/><circle cx="412.6" cy="145.2" r="0.85"/><circle cx="424.4" cy="158.3" r="0.85"/><circle cx="415.3" cy="154.0" r="0.85"/><circle cx="451.2" cy="161.2" r="0.85"/><circle cx="415.9" cy="158.4" r="0.85"/><circle cx="452.9" cy="162.8" r="0.85"/><circle cx="455.2" cy="158.3" r="0.85"/><circle cx="454.4" cy="154.9" r="0.85"/><circle cx="457.3" cy="155.2" r="0.85"/><circle cx="460.4" cy="148.7" r="0.85"/><circle cx="450.1" cy="161.8" r="0.85"/><circle cx="423.6" cy="157.2" r="0.85"/><circle cx="422.0" cy="157.8" r="0.85"/><circle cx="459.4" cy="156.4" r="0.85"/><circle cx="456.3" cy="159.6" r="0.85"/><circle cx="457.2" cy="157.6" r="0.85"/><circle cx="450.7" cy="162.6" r="0.85"/><circle cx="423.5" cy="161.5" r="0.85"/><circle cx="413.5" cy="156.1" r="0.85"/><circle cx="451.4" cy="160.3" r="0.85"/><circle cx="416.4" cy="149.8" r="0.85"/><circle cx="421.4" cy="155.5" r="0.85"/><circle cx="421.6" cy="161.7" r="0.85"/><circle cx="454.9" cy="160.9" r="0.85"/><circle cx="455.7" cy="155.1" r="0.85"/><circle cx="456.4" cy="161.5" r="0.85"/><circle cx="421.3" cy="159.9" r="0.85"/><circle cx="453.7" cy="156.1" r="0.85"/><circle cx="456.1" cy="154.3" r="0.85"/><circle cx="412.8" cy="150.4" r="0.85"/><circle cx="453.7" cy="157.1" r="0.85"/><circle cx="460.9" cy="147.2" r="0.85"/><circle cx="462.4" cy="147.3" r="0.85"/><circle cx="418.2" cy="157.1" r="0.85"/><circle cx="424.2" cy="161.1" r="0.85"/><circle cx="457.6" cy="159.5" r="0.85"/><circle cx="421.5" cy="159.9" r="0.85"/><circle cx="426.0" cy="162.5" r="0.85"/><circle cx="458.7" cy="151.4" r="0.85"/><circle cx="415.6" cy="154.7" r="0.85"/><circle cx="416.6" cy="150.6" r="0.85"/><circle cx="424.3" cy="161.4" r="0.85"/><circle cx="453.5" cy="155.8" r="0.85"/><circle cx="416.5" cy="156.6" r="0.85"/><circle cx="419.0" cy="153.7" r="0.85"/><circle cx="458.4" cy="155.5" r="0.85"/><circle cx="416.1" cy="152.4" r="0.85"/><circle cx="424.6" cy="158.2" r="0.85"/><circle cx="416.0" cy="158.2" r="0.85"/><circle cx="426.0" cy="159.5" r="0.85"/><circle cx="452.1" cy="159.2" r="0.85"/><circle cx="456.5" cy="156.0" r="0.85"/><circle cx="412.7" cy="149.6" r="0.85"/><circle cx="455.8" cy="160.5" r="0.85"/><circle cx="419.3" cy="156.8" r="0.85"/><circle cx="451.3" cy="159.6" r="0.85"/><circle cx="415.7" cy="153.1" r="0.85"/><circle cx="426.1" cy="160.5" r="0.85"/><circle cx="458.3" cy="159.0" r="0.85"/><circle cx="459.6" cy="156.1" r="0.85"/><circle cx="414.1" cy="148.6" r="0.85"/><circle cx="451.2" cy="162.4" r="0.85"/><circle cx="415.9" cy="158.3" r="0.85"/><circle cx="450.7" cy="162.8" r="0.85"/><circle cx="451.5" cy="158.7" r="0.85"/><circle cx="420.4" cy="156.1" r="0.85"/><circle cx="455.2" cy="161.0" r="0.85"/><circle cx="462.1" cy="149.1" r="0.85"/><circle cx="415.6" cy="149.5" r="0.85"/><circle cx="414.1" cy="158.1" r="0.85"/><circle cx="420.4" cy="158.9" r="0.85"/><circle cx="459.6" cy="149.2" r="0.85"/><circle cx="461.7" cy="149.9" r="0.85"/><circle cx="459.0" cy="151.0" r="0.85"/><circle cx="449.4" cy="162.1" r="0.85"/><circle cx="456.4" cy="153.2" r="0.85"/><circle cx="417.0" cy="159.4" r="0.85"/><circle cx="458.0" cy="152.8" r="0.85"/><circle cx="412.5" cy="157.3" r="0.85"/><circle cx="456.9" cy="156.0" r="0.85"/><circle cx="454.5" cy="160.6" r="0.85"/><circle cx="451.2" cy="160.0" r="0.85"/><circle cx="413.8" cy="151.4" r="0.85"/><circle cx="415.6" cy="150.5" r="0.85"/><circle cx="453.9" cy="160.1" r="0.85"/><circle cx="420.3" cy="161.7" r="0.85"/><circle cx="455.5" cy="153.4" r="0.85"/><circle cx="451.6" cy="162.3" r="0.85"/><circle cx="419.7" cy="154.1" r="0.85"/><circle cx="420.3" cy="155.4" r="0.85"/><circle cx="425.5" cy="159.3" r="0.85"/><circle cx="458.7" cy="153.2" r="0.85"/><circle cx="425.4" cy="160.6" r="0.85"/><circle cx="413.1" cy="151.5" r="0.85"/><circle cx="423.0" cy="159.2" r="0.85"/><circle cx="425.4" cy="160.3" r="0.85"/><circle cx="413.8" cy="158.5" r="0.85"/><circle cx="459.1" cy="158.8" r="0.85"/><circle cx="459.8" cy="158.0" r="0.85"/><circle cx="454.4" cy="162.5" r="0.85"/><circle cx="457.2" cy="158.4" r="0.85"/><circle cx="449.6" cy="163.3" r="0.85"/><circle cx="415.7" cy="160.0" r="0.85"/><circle cx="420.2" cy="159.1" r="0.85"/><circle cx="460.1" cy="153.6" r="0.85"/><circle cx="452.5" cy="160.2" r="0.85"/><circle cx="425.3" cy="163.9" r="0.85"/><circle cx="455.1" cy="159.0" r="0.85"/><circle cx="416.6" cy="158.8" r="0.85"/><circle cx="457.1" cy="161.2" r="0.85"/><circle cx="414.9" cy="148.5" r="0.85"/><circle cx="418.5" cy="156.6" r="0.85"/><circle cx="418.7" cy="157.8" r="0.85"/><circle cx="456.9" cy="154.4" r="0.85"/><circle cx="416.9" cy="157.1" r="0.85"/><circle cx="458.7" cy="150.2" r="0.85"/><circle cx="415.9" cy="153.8" r="0.85"/><circle cx="421.2" cy="155.9" r="0.85"/><circle cx="423.8" cy="157.7" r="0.85"/><circle cx="424.3" cy="163.8" r="0.85"/><circle cx="417.2" cy="159.9" r="0.85"/><circle cx="418.4" cy="158.0" r="0.85"/><circle cx="456.7" cy="159.6" r="0.85"/><circle cx="421.0" cy="157.7" r="0.85"/><circle cx="457.4" cy="158.3" r="0.85"/><circle cx="422.1" cy="156.7" r="0.85"/><circle cx="461.1" cy="151.7" r="0.85"/><circle cx="457.2" cy="153.5" r="0.85"/><circle cx="449.1" cy="161.7" r="0.85"/><circle cx="458.6" cy="159.8" r="0.85"/><circle cx="420.5" cy="154.7" r="0.85"/><circle cx="460.4" cy="157.5" r="0.85"/><circle cx="416.0" cy="152.6" r="0.85"/><circle cx="461.8" cy="153.8" r="0.85"/><circle cx="459.2" cy="149.7" r="0.85"/><circle cx="416.5" cy="151.3" r="0.85"/><circle cx="424.2" cy="160.3" r="0.85"/><circle cx="416.9" cy="152.4" r="0.85"/><circle cx="423.6" cy="161.2" r="0.85"/><circle cx="424.0" cy="160.0" r="0.85"/><circle cx="416.1" cy="155.3" r="0.85"/><circle cx="412.9" cy="149.8" r="0.85"/><circle cx="458.6" cy="156.6" r="0.85"/><circle cx="452.0" cy="163.1" r="0.85"/><circle cx="459.9" cy="156.6" r="0.85"/><circle cx="423.4" cy="159.2" r="0.85"/><circle cx="415.8" cy="157.4" r="0.85"/><circle cx="460.6" cy="150.4" r="0.85"/><circle cx="458.5" cy="159.2" r="0.85"/><circle cx="418.2" cy="157.9" r="0.85"/><circle cx="457.7" cy="159.2" r="0.85"/><circle cx="456.8" cy="153.3" r="0.85"/><circle cx="450.6" cy="161.0" r="0.85"/><circle cx="457.3" cy="155.1" r="0.85"/><circle cx="417.1" cy="155.8" r="0.85"/><circle cx="426.2" cy="164.2" r="0.85"/><circle cx="452.5" cy="159.6" r="0.85"/><circle cx="459.1" cy="153.9" r="0.85"/><circle cx="422.8" cy="162.5" r="0.85"/><circle cx="451.1" cy="161.5" r="0.85"/><circle cx="453.0" cy="157.1" r="0.85"/><circle cx="455.8" cy="161.0" r="0.85"/><circle cx="419.8" cy="156.2" r="0.85"/><circle cx="454.4" cy="157.5" r="0.85"/><circle cx="425.5" cy="159.4" r="0.85"/><circle cx="452.5" cy="158.6" r="0.85"/><circle cx="449.6" cy="159.2" r="0.85"/><circle cx="415.3" cy="149.2" r="0.85"/><circle cx="455.6" cy="155.6" r="0.85"/><circle cx="461.4" cy="150.3" r="0.85"/><circle cx="417.3" cy="154.4" r="0.85"/><circle cx="455.1" cy="156.6" r="0.85"/><circle cx="454.6" cy="155.8" r="0.85"/><circle cx="414.6" cy="157.6" r="0.85"/><circle cx="424.2" cy="161.1" r="0.85"/><circle cx="452.8" cy="163.1" r="0.85"/><circle cx="456.6" cy="159.7" r="0.85"/><circle cx="415.4" cy="155.1" r="0.85"/><circle cx="413.0" cy="153.1" r="0.85"/><circle cx="421.2" cy="157.3" r="0.85"/><circle cx="422.9" cy="159.0" r="0.85"/><circle cx="417.4" cy="154.8" r="0.85"/><circle cx="419.4" cy="158.6" r="0.85"/><circle cx="416.9" cy="155.8" r="0.85"/><circle cx="420.4" cy="160.5" r="0.85"/><circle cx="454.1" cy="156.1" r="0.85"/><circle cx="460.4" cy="158.6" r="0.85"/><circle cx="458.1" cy="156.9" r="0.85"/><circle cx="455.1" cy="153.6" r="0.85"/><circle cx="460.1" cy="156.0" r="0.85"/><circle cx="458.5" cy="153.3" r="0.85"/><circle cx="454.7" cy="159.3" r="0.85"/><circle cx="416.8" cy="150.2" r="0.85"/><circle cx="461.4" cy="151.3" r="0.85"/><circle cx="418.5" cy="157.6" r="0.85"/><circle cx="424.2" cy="159.9" r="0.85"/><circle cx="424.2" cy="160.3" r="0.85"/><circle cx="417.5" cy="155.5" r="0.85"/><circle cx="450.4" cy="160.2" r="0.85"/><circle cx="424.7" cy="160.9" r="0.85"/><circle cx="419.7" cy="156.8" r="0.85"/><circle cx="460.1" cy="150.0" r="0.85"/><circle cx="461.7" cy="149.1" r="0.85"/><circle cx="459.9" cy="154.9" r="0.85"/><circle cx="424.7" cy="158.9" r="0.85"/><circle cx="423.9" cy="160.8" r="0.85"/><circle cx="456.7" cy="151.9" r="0.85"/><circle cx="454.7" cy="161.3" r="0.85"/><circle cx="451.9" cy="159.6" r="0.85"/><circle cx="458.1" cy="152.1" r="0.85"/><circle cx="426.2" cy="162.7" r="0.85"/><circle cx="457.1" cy="160.1" r="0.85"/><circle cx="461.5" cy="149.3" r="0.85"/><circle cx="461.1" cy="155.9" r="0.85"/><circle cx="459.5" cy="150.2" r="0.85"/><circle cx="415.8" cy="155.3" r="0.85"/><circle cx="462.4" cy="149.6" r="0.85"/><circle cx="460.8" cy="153.1" r="0.85"/><circle cx="454.1" cy="160.6" r="0.85"/><circle cx="425.5" cy="161.0" r="0.85"/><circle cx="416.3" cy="159.0" r="0.85"/><circle cx="415.5" cy="155.2" r="0.85"/><circle cx="414.1" cy="151.0" r="0.85"/><circle cx="457.3" cy="158.3" r="0.85"/><circle cx="422.4" cy="161.6" r="0.85"/><circle cx="418.4" cy="153.0" r="0.85"/><circle cx="419.9" cy="157.9" r="0.85"/><circle cx="424.6" cy="161.7" r="0.85"/><circle cx="413.9" cy="147.1" r="0.85"/><circle cx="417.5" cy="160.5" r="0.85"/><circle cx="459.6" cy="156.4" r="0.85"/><circle cx="415.9" cy="157.9" r="0.85"/><circle cx="449.4" cy="163.5" r="0.85"/><circle cx="451.7" cy="159.2" r="0.85"/><circle cx="457.4" cy="151.6" r="0.85"/><circle cx="424.1" cy="159.0" r="0.85"/><circle cx="419.7" cy="160.0" r="0.85"/><circle cx="452.1" cy="159.5" r="0.85"/><circle cx="454.0" cy="154.8" r="0.85"/><circle cx="449.7" cy="159.7" r="0.85"/><circle cx="422.4" cy="161.4" r="0.85"/><circle cx="456.2" cy="161.3" r="0.85"/><circle cx="457.5" cy="151.6" r="0.85"/><circle cx="456.9" cy="152.2" r="0.85"/><circle cx="456.3" cy="157.9" r="0.85"/><circle cx="415.0" cy="158.3" r="0.85"/><circle cx="462.3" cy="146.7" r="0.85"/><circle cx="456.0" cy="160.1" r="0.85"/><circle cx="414.4" cy="156.7" r="0.85"/><circle cx="421.9" cy="162.1" r="0.85"/><circle cx="461.8" cy="154.4" r="0.85"/><circle cx="452.1" cy="158.2" r="0.85"/><circle cx="418.5" cy="160.3" r="0.85"/><circle cx="415.0" cy="148.9" r="0.85"/><circle cx="452.0" cy="158.7" r="0.85"/><circle cx="454.3" cy="158.8" r="0.85"/><circle cx="424.9" cy="159.0" r="0.85"/><circle cx="461.3" cy="146.6" r="0.85"/><circle cx="456.5" cy="153.4" r="0.85"/><circle cx="424.8" cy="159.3" r="0.85"/><circle cx="449.7" cy="160.3" r="0.85"/><circle cx="416.6" cy="158.5" r="0.85"/><circle cx="425.3" cy="160.0" r="0.85"/><circle cx="454.8" cy="158.0" r="0.85"/><circle cx="423.4" cy="161.5" r="0.85"/><circle cx="414.3" cy="151.2" r="0.85"/><circle cx="416.3" cy="158.1" r="0.85"/><circle cx="455.8" cy="159.5" r="0.85"/><circle cx="423.4" cy="161.0" r="0.85"/><circle cx="452.2" cy="157.2" r="0.85"/><circle cx="458.6" cy="157.9" r="0.85"/><circle cx="460.2" cy="149.6" r="0.85"/><circle cx="455.9" cy="161.3" r="0.85"/><circle cx="423.8" cy="163.3" r="0.85"/><circle cx="423.1" cy="157.6" r="0.85"/><circle cx="462.4" cy="150.5" r="0.85"/><circle cx="460.4" cy="153.2" r="0.85"/><circle cx="451.7" cy="162.4" r="0.85"/><circle cx="451.8" cy="158.6" r="0.85"/><circle cx="425.7" cy="164.0" r="0.85"/><circle cx="424.4" cy="159.5" r="0.85"/><circle cx="456.0" cy="155.3" r="0.85"/><circle cx="456.4" cy="154.8" r="0.85"/><circle cx="414.4" cy="156.3" r="0.85"/><circle cx="423.7" cy="157.7" r="0.85"/><circle cx="453.6" cy="162.1" r="0.85"/><circle cx="459.8" cy="151.8" r="0.85"/><circle cx="421.9" cy="158.7" r="0.85"/><circle cx="417.6" cy="153.3" r="0.85"/><circle cx="425.9" cy="160.2" r="0.85"/><circle cx="452.1" cy="163.0" r="0.85"/><circle cx="418.0" cy="156.9" r="0.85"/><circle cx="418.2" cy="155.0" r="0.85"/><circle cx="451.0" cy="158.4" r="0.85"/><circle cx="425.2" cy="161.9" r="0.85"/><circle cx="420.5" cy="157.4" r="0.85"/><circle cx="450.2" cy="159.2" r="0.85"/><circle cx="449.0" cy="160.2" r="0.85"/><circle cx="421.5" cy="162.1" r="0.85"/><circle cx="413.7" cy="157.2" r="0.85"/><circle cx="415.4" cy="154.3" r="0.85"/><circle cx="460.5" cy="156.3" r="0.85"/><circle cx="462.2" cy="147.2" r="0.85"/><circle cx="451.1" cy="162.3" r="0.85"/><circle cx="455.0" cy="161.0" r="0.85"/><circle cx="422.2" cy="158.0" r="0.85"/><circle cx="412.6" cy="150.7" r="0.85"/><circle cx="423.9" cy="158.4" r="0.85"/><circle cx="424.7" cy="159.6" r="0.85"/><circle cx="455.9" cy="157.6" r="0.85"/><circle cx="423.0" cy="158.2" r="0.85"/><circle cx="414.4" cy="154.5" r="0.85"/><circle cx="460.7" cy="151.1" r="0.85"/><circle cx="416.5" cy="160.2" r="0.85"/><circle cx="460.3" cy="150.4" r="0.85"/><circle cx="422.7" cy="161.9" r="0.85"/><circle cx="422.7" cy="160.1" r="0.85"/><circle cx="414.6" cy="151.1" r="0.85"/><circle cx="425.0" cy="160.0" r="0.85"/><circle cx="417.6" cy="158.2" r="0.85"/><circle cx="418.0" cy="157.2" r="0.85"/><circle cx="448.9" cy="162.4" r="0.85"/><circle cx="419.2" cy="158.6" r="0.85"/><circle cx="424.4" cy="158.0" r="0.85"/><circle cx="461.4" cy="150.9" r="0.85"/><circle cx="424.9" cy="160.7" r="0.85"/><circle cx="459.7" cy="153.2" r="0.85"/><circle cx="451.5" cy="161.1" r="0.85"/><circle cx="416.7" cy="154.6" r="0.85"/><circle cx="419.9" cy="156.4" r="0.85"/><circle cx="414.3" cy="151.8" r="0.85"/><circle cx="456.7" cy="160.3" r="0.85"/><circle cx="458.3" cy="151.3" r="0.85"/><circle cx="454.9" cy="160.0" r="0.85"/><circle cx="423.8" cy="158.3" r="0.85"/><circle cx="460.6" cy="152.4" r="0.85"/><circle cx="449.1" cy="162.9" r="0.85"/><circle cx="417.6" cy="158.5" r="0.85"/><circle cx="423.2" cy="161.0" r="0.85"/><circle cx="414.3" cy="153.2" r="0.85"/><circle cx="417.8" cy="159.4" r="0.85"/><circle cx="449.1" cy="159.4" r="0.85"/><circle cx="450.9" cy="163.6" r="0.85"/><circle cx="450.8" cy="159.3" r="0.85"/><circle cx="459.5" cy="159.4" r="0.85"/><circle cx="458.5" cy="156.6" r="0.85"/><circle cx="425.4" cy="158.9" r="0.85"/><circle cx="413.1" cy="149.0" r="0.85"/><circle cx="420.7" cy="157.0" r="0.85"/><circle cx="423.3" cy="160.5" r="0.85"/><circle cx="456.8" cy="155.2" r="0.85"/><circle cx="425.5" cy="161.2" r="0.85"/><circle cx="416.0" cy="160.1" r="0.85"/><circle cx="462.4" cy="154.5" r="0.85"/><circle cx="422.5" cy="160.4" r="0.85"/><circle cx="423.2" cy="158.3" r="0.85"/><circle cx="455.2" cy="155.6" r="0.85"/><circle cx="457.4" cy="154.0" r="0.85"/><circle cx="413.7" cy="154.1" r="0.85"/><circle cx="414.0" cy="151.3" r="0.85"/><circle cx="417.7" cy="155.4" r="0.85"/><circle cx="418.1" cy="156.2" r="0.85"/><circle cx="460.8" cy="147.2" r="0.85"/><circle cx="452.8" cy="162.1" r="0.85"/><circle cx="455.8" cy="156.1" r="0.85"/><circle cx="462.3" cy="147.9" r="0.85"/><circle cx="460.9" cy="155.1" r="0.85"/><circle cx="422.5" cy="159.6" r="0.85"/><circle cx="458.8" cy="160.1" r="0.85"/><circle cx="425.2" cy="162.1" r="0.85"/><circle cx="415.3" cy="154.9" r="0.85"/><circle cx="460.4" cy="149.4" r="0.85"/><circle cx="415.9" cy="159.6" r="0.85"/><circle cx="452.0" cy="160.8" r="0.85"/><circle cx="461.3" cy="156.8" r="0.85"/><circle cx="420.2" cy="161.7" r="0.85"/><circle cx="426.1" cy="159.6" r="0.85"/><circle cx="422.6" cy="160.5" r="0.85"/><circle cx="424.9" cy="160.7" r="0.85"/><circle cx="462.4" cy="146.1" r="0.85"/><circle cx="461.6" cy="153.6" r="0.85"/><circle cx="460.0" cy="152.6" r="0.85"/><circle cx="413.6" cy="147.4" r="0.85"/><circle cx="415.7" cy="158.0" r="0.85"/><circle cx="419.8" cy="158.6" r="0.85"/><circle cx="454.6" cy="161.6" r="0.85"/><circle cx="418.9" cy="153.0" r="0.85"/><circle cx="450.6" cy="163.9" r="0.85"/><circle cx="455.0" cy="158.5" r="0.85"/><circle cx="423.8" cy="161.6" r="0.85"/><circle cx="418.8" cy="154.1" r="0.85"/><circle cx="454.3" cy="161.6" r="0.85"/><circle cx="451.8" cy="158.1" r="0.85"/><circle cx="460.4" cy="151.3" r="0.85"/><circle cx="458.3" cy="157.1" r="0.85"/><circle cx="425.4" cy="158.8" r="0.85"/><circle cx="449.6" cy="163.3" r="0.85"/><circle cx="461.6" cy="157.4" r="0.85"/><circle cx="413.5" cy="147.6" r="0.85"/><circle cx="415.9" cy="149.4" r="0.85"/><circle cx="422.9" cy="157.3" r="0.85"/><circle cx="420.9" cy="156.5" r="0.85"/><circle cx="424.0" cy="162.6" r="0.85"/><circle cx="450.7" cy="161.3" r="0.85"/><circle cx="422.1" cy="156.9" r="0.85"/><circle cx="421.6" cy="161.2" r="0.85"/><circle cx="419.5" cy="157.0" r="0.85"/><circle cx="420.6" cy="162.1" r="0.85"/><circle cx="451.6" cy="163.3" r="0.85"/><circle cx="417.0" cy="158.4" r="0.85"/><circle cx="419.6" cy="158.3" r="0.85"/><circle cx="461.9" cy="148.8" r="0.85"/><circle cx="458.4" cy="156.9" r="0.85"/><circle cx="462.0" cy="154.0" r="0.85"/><circle cx="462.0" cy="156.2" r="0.85"/><circle cx="452.0" cy="160.2" r="0.85"/><circle cx="453.0" cy="162.5" r="0.85"/><circle cx="458.9" cy="152.8" r="0.85"/><circle cx="459.2" cy="155.9" r="0.85"/><circle cx="461.6" cy="150.1" r="0.85"/><circle cx="456.9" cy="160.5" r="0.85"/><circle cx="461.9" cy="148.1" r="0.85"/><circle cx="460.5" cy="150.3" r="0.85"/><circle cx="418.3" cy="155.1" r="0.85"/><circle cx="414.7" cy="153.5" r="0.85"/><circle cx="417.8" cy="156.7" r="0.85"/><circle cx="449.7" cy="159.4" r="0.85"/><circle cx="413.7" cy="150.8" r="0.85"/><circle cx="425.8" cy="159.7" r="0.85"/><circle cx="459.7" cy="152.9" r="0.85"/><circle cx="459.5" cy="158.3" r="0.85"/><circle cx="425.0" cy="161.6" r="0.85"/><circle cx="415.3" cy="155.2" r="0.85"/><circle cx="419.0" cy="153.7" r="0.85"/><circle cx="459.7" cy="159.2" r="0.85"/><circle cx="462.3" cy="152.1" r="0.85"/><circle cx="460.9" cy="159.0" r="0.85"/><circle cx="453.3" cy="162.7" r="0.85"/><circle cx="418.9" cy="152.8" r="0.85"/><circle cx="419.8" cy="155.3" r="0.85"/><circle cx="421.9" cy="158.1" r="0.85"/><circle cx="417.7" cy="159.5" r="0.85"/><circle cx="457.0" cy="154.2" r="0.85"/><circle cx="457.3" cy="152.3" r="0.85"/><circle cx="418.1" cy="159.8" r="0.85"/><circle cx="457.7" cy="153.1" r="0.85"/><circle cx="449.3" cy="162.7" r="0.85"/><circle cx="416.4" cy="159.3" r="0.85"/><circle cx="458.7" cy="150.4" r="0.85"/><circle cx="416.5" cy="152.8" r="0.85"/><circle cx="459.3" cy="151.0" r="0.85"/><circle cx="453.3" cy="157.9" r="0.85"/><circle cx="422.5" cy="161.7" r="0.85"/><circle cx="412.7" cy="148.7" r="0.85"/><circle cx="453.4" cy="159.8" r="0.85"/><circle cx="450.0" cy="160.4" r="0.85"/><circle cx="456.6" cy="154.9" r="0.85"/><circle cx="420.4" cy="160.7" r="0.85"/><circle cx="459.1" cy="150.2" r="0.85"/><circle cx="415.2" cy="154.5" r="0.85"/><circle cx="425.0" cy="161.7" r="0.85"/><circle cx="457.0" cy="152.5" r="0.85"/><circle cx="420.7" cy="157.8" r="0.85"/><circle cx="458.8" cy="159.5" r="0.85"/><circle cx="450.4" cy="160.0" r="0.85"/><circle cx="453.0" cy="163.0" r="0.85"/><circle cx="451.7" cy="162.3" r="0.85"/><circle cx="460.3" cy="149.1" r="0.85"/><circle cx="457.5" cy="157.4" r="0.85"/><circle cx="450.3" cy="158.9" r="0.85"/><circle cx="459.4" cy="153.2" r="0.85"/><circle cx="455.8" cy="160.1" r="0.85"/><circle cx="415.6" cy="155.3" r="0.85"/><circle cx="423.5" cy="160.3" r="0.85"/><circle cx="426.1" cy="159.5" r="0.85"/><circle cx="451.3" cy="159.3" r="0.85"/><circle cx="416.8" cy="150.2" r="0.85"/><circle cx="418.6" cy="157.3" r="0.85"/><circle cx="412.5" cy="150.2" r="0.85"/><circle cx="419.2" cy="156.3" r="0.85"/><circle cx="453.3" cy="156.8" r="0.85"/><circle cx="420.7" cy="154.8" r="0.85"/><circle cx="460.8" cy="152.7" r="0.85"/><circle cx="455.6" cy="155.3" r="0.85"/><circle cx="420.8" cy="161.3" r="0.85"/><circle cx="456.5" cy="153.4" r="0.85"/><circle cx="421.6" cy="155.7" r="0.85"/><circle cx="418.8" cy="155.6" r="0.85"/><circle cx="415.7" cy="152.8" r="0.85"/><circle cx="421.8" cy="158.9" r="0.85"/><circle cx="462.2" cy="146.3" r="0.85"/><circle cx="450.0" cy="161.5" r="0.85"/><circle cx="425.2" cy="161.7" r="0.85"/><circle cx="460.0" cy="158.2" r="0.85"/><circle cx="425.6" cy="163.3" r="0.85"/><circle cx="450.5" cy="163.2" r="0.85"/><circle cx="422.6" cy="157.9" r="0.85"/><circle cx="458.8" cy="152.1" r="0.85"/><circle cx="422.7" cy="156.5" r="0.85"/><circle cx="414.7" cy="147.8" r="0.85"/><circle cx="418.0" cy="158.4" r="0.85"/><circle cx="457.9" cy="152.3" r="0.85"/><circle cx="456.7" cy="160.1" r="0.85"/><circle cx="460.8" cy="158.2" r="0.85"/><circle cx="461.6" cy="153.9" r="0.85"/><circle cx="416.7" cy="158.1" r="0.85"/><circle cx="455.6" cy="156.1" r="0.85"/><circle cx="449.2" cy="161.6" r="0.85"/><circle cx="415.0" cy="158.5" r="0.85"/><circle cx="459.3" cy="156.2" r="0.85"/><circle cx="426.1" cy="162.9" r="0.85"/><circle cx="415.3" cy="149.0" r="0.85"/><circle cx="457.0" cy="160.7" r="0.85"/><circle cx="423.3" cy="160.5" r="0.85"/><circle cx="413.6" cy="153.3" r="0.85"/><circle cx="450.5" cy="163.3" r="0.85"/><circle cx="419.5" cy="155.0" r="0.85"/><circle cx="462.3" cy="155.2" r="0.85"/><circle cx="455.6" cy="157.7" r="0.85"/><circle cx="414.4" cy="151.4" r="0.85"/><circle cx="417.7" cy="160.6" r="0.85"/><circle cx="417.4" cy="160.3" r="0.85"/><circle cx="414.7" cy="159.3" r="0.85"/><circle cx="453.4" cy="160.5" r="0.85"/><circle cx="419.4" cy="158.1" r="0.85"/><circle cx="422.3" cy="157.9" r="0.85"/><circle cx="448.8" cy="162.0" r="0.85"/><circle cx="450.1" cy="162.5" r="0.85"/><circle cx="413.1" cy="151.1" r="0.85"/><circle cx="413.5" cy="146.3" r="0.85"/><circle cx="458.4" cy="156.6" r="0.85"/><circle cx="455.3" cy="161.0" r="0.85"/><circle cx="457.8" cy="159.4" r="0.85"/><circle cx="456.1" cy="153.4" r="0.85"/><circle cx="454.6" cy="161.4" r="0.85"/><circle cx="455.5" cy="156.6" r="0.85"/><circle cx="415.7" cy="152.2" r="0.85"/><circle cx="458.8" cy="156.0" r="0.85"/><circle cx="462.2" cy="157.7" r="0.85"/><circle cx="419.2" cy="159.2" r="0.85"/><circle cx="424.9" cy="159.6" r="0.85"/><circle cx="413.4" cy="153.2" r="0.85"/><circle cx="417.7" cy="151.2" r="0.85"/><circle cx="413.0" cy="148.1" r="0.85"/><circle cx="457.9" cy="160.7" r="0.85"/><circle cx="423.4" cy="161.0" r="0.85"/><circle cx="450.2" cy="163.6" r="0.85"/><circle cx="459.9" cy="153.1" r="0.85"/><circle cx="455.1" cy="156.6" r="0.85"/><circle cx="450.6" cy="161.7" r="0.85"/><circle cx="450.9" cy="163.1" r="0.85"/><circle cx="453.1" cy="160.5" r="0.85"/><circle cx="418.1" cy="160.5" r="0.85"/><circle cx="425.3" cy="160.9" r="0.85"/><circle cx="451.0" cy="159.5" r="0.85"/><circle cx="420.9" cy="160.3" r="0.85"/><circle cx="454.2" cy="158.2" r="0.85"/><circle cx="423.6" cy="162.4" r="0.85"/><circle cx="419.3" cy="155.7" r="0.85"/><circle cx="451.0" cy="158.4" r="0.85"/><circle cx="420.4" cy="157.0" r="0.85"/><circle cx="424.7" cy="160.8" r="0.85"/><circle cx="413.1" cy="149.0" r="0.85"/><circle cx="419.1" cy="158.9" r="0.85"/><circle cx="452.5" cy="159.7" r="0.85"/><circle cx="419.5" cy="160.0" r="0.85"/><circle cx="461.9" cy="154.8" r="0.85"/><circle cx="424.4" cy="158.8" r="0.85"/><circle cx="452.2" cy="161.6" r="0.85"/><circle cx="413.8" cy="155.9" r="0.85"/><circle cx="419.9" cy="155.0" r="0.85"/><circle cx="416.2" cy="154.3" r="0.85"/><circle cx="422.4" cy="160.5" r="0.85"/><circle cx="425.4" cy="162.6" r="0.85"/><circle cx="418.6" cy="156.8" r="0.85"/><circle cx="422.8" cy="157.8" r="0.85"/><circle cx="418.0" cy="154.8" r="0.85"/><circle cx="420.2" cy="154.9" r="0.85"/><circle cx="452.7" cy="160.9" r="0.85"/><circle cx="416.0" cy="157.5" r="0.85"/><circle cx="452.0" cy="159.7" r="0.85"/><circle cx="460.0" cy="159.6" r="0.85"/><circle cx="413.6" cy="147.6" r="0.85"/><circle cx="421.3" cy="159.6" r="0.85"/><circle cx="417.9" cy="153.6" r="0.85"/><circle cx="462.2" cy="157.5" r="0.85"/><circle cx="451.7" cy="159.4" r="0.85"/><circle cx="413.9" cy="146.8" r="0.85"/><circle cx="425.4" cy="158.9" r="0.85"/><circle cx="422.0" cy="159.5" r="0.85"/><circle cx="417.3" cy="156.7" r="0.85"/><circle cx="453.5" cy="156.0" r="0.85"/><circle cx="425.4" cy="163.2" r="0.85"/><circle cx="423.0" cy="161.2" r="0.85"/><circle cx="454.6" cy="161.7" r="0.85"/><circle cx="423.9" cy="162.3" r="0.85"/><circle cx="424.3" cy="161.2" r="0.85"/><circle cx="456.7" cy="156.5" r="0.85"/><circle cx="413.8" cy="149.0" r="0.85"/><circle cx="416.7" cy="158.3" r="0.85"/><circle cx="426.1" cy="160.2" r="0.85"/><circle cx="402.9" cy="148.2" r="0.85"/><circle cx="409.6" cy="154.8" r="0.85"/><circle cx="405.8" cy="150.5" r="0.85"/><circle cx="405.9" cy="151.3" r="0.85"/><circle cx="410.9" cy="149.7" r="0.85"/><circle cx="404.6" cy="148.8" r="0.85"/><circle cx="405.3" cy="148.8" r="0.85"/><circle cx="404.2" cy="150.6" r="0.85"/><circle cx="404.5" cy="150.9" r="0.85"/><circle cx="412.3" cy="151.6" r="0.85"/><circle cx="411.4" cy="156.9" r="0.85"/><circle cx="402.5" cy="148.8" r="0.85"/><circle cx="403.9" cy="148.6" r="0.85"/><circle cx="412.5" cy="156.6" r="0.85"/><circle cx="406.5" cy="148.4" r="0.85"/><circle cx="404.5" cy="150.7" r="0.85"/><circle cx="402.3" cy="148.8" r="0.85"/><circle cx="408.6" cy="154.8" r="0.85"/><circle cx="405.3" cy="152.3" r="0.85"/><circle cx="408.9" cy="152.2" r="0.85"/><circle cx="411.7" cy="152.7" r="0.85"/><circle cx="408.7" cy="150.0" r="0.85"/><circle cx="401.8" cy="148.7" r="0.85"/><circle cx="408.8" cy="149.2" r="0.85"/><circle cx="410.1" cy="153.0" r="0.85"/><circle cx="408.7" cy="153.8" r="0.85"/><circle cx="410.1" cy="153.7" r="0.85"/><circle cx="412.0" cy="157.7" r="0.85"/><circle cx="404.3" cy="149.3" r="0.85"/><circle cx="402.3" cy="148.2" r="0.85"/><circle cx="411.4" cy="155.5" r="0.85"/><circle cx="405.9" cy="152.4" r="0.85"/><circle cx="408.3" cy="153.6" r="0.85"/><circle cx="408.5" cy="148.2" r="0.85"/><circle cx="411.3" cy="151.9" r="0.85"/><circle cx="410.7" cy="150.3" r="0.85"/><circle cx="411.3" cy="148.7" r="0.85"/><circle cx="402.2" cy="149.1" r="0.85"/><circle cx="401.6" cy="148.0" r="0.85"/><circle cx="411.5" cy="151.9" r="0.85"/><circle cx="407.3" cy="149.3" r="0.85"/><circle cx="407.9" cy="152.3" r="0.85"/><circle cx="404.5" cy="150.1" r="0.85"/><circle cx="410.6" cy="151.8" r="0.85"/><circle cx="410.5" cy="154.9" r="0.85"/><circle cx="405.2" cy="150.4" r="0.85"/><circle cx="403.5" cy="149.8" r="0.85"/><circle cx="407.3" cy="148.9" r="0.85"/><circle cx="406.5" cy="152.9" r="0.85"/><circle cx="402.8" cy="149.1" r="0.85"/><circle cx="410.7" cy="155.7" r="0.85"/><circle cx="411.8" cy="150.8" r="0.85"/><circle cx="408.0" cy="149.1" r="0.85"/><circle cx="411.5" cy="149.5" r="0.85"/><circle cx="405.7" cy="148.3" r="0.85"/><circle cx="408.9" cy="152.0" r="0.85"/><circle cx="411.7" cy="154.6" r="0.85"/><circle cx="410.4" cy="151.5" r="0.85"/><circle cx="406.1" cy="152.1" r="0.85"/><circle cx="404.9" cy="148.6" r="0.85"/><circle cx="404.0" cy="150.6" r="0.85"/><circle cx="401.6" cy="148.1" r="0.85"/><circle cx="411.8" cy="154.6" r="0.85"/><circle cx="408.5" cy="154.5" r="0.85"/><circle cx="407.4" cy="151.0" r="0.85"/><circle cx="407.0" cy="148.5" r="0.85"/><circle cx="407.5" cy="152.5" r="0.85"/><circle cx="411.0" cy="149.7" r="0.85"/><circle cx="405.8" cy="148.9" r="0.85"/><circle cx="401.3" cy="148.2" r="0.85"/><circle cx="470.6" cy="150.5" r="0.85"/><circle cx="464.9" cy="156.1" r="0.85"/><circle cx="467.8" cy="149.9" r="0.85"/><circle cx="463.2" cy="156.9" r="0.85"/><circle cx="465.0" cy="150.9" r="0.85"/><circle cx="468.6" cy="152.3" r="0.85"/><circle cx="463.0" cy="156.1" r="0.85"/><circle cx="471.9" cy="148.3" r="0.85"/><circle cx="470.5" cy="148.3" r="0.85"/><circle cx="463.8" cy="151.4" r="0.85"/><circle cx="473.0" cy="148.3" r="0.85"/><circle cx="472.5" cy="148.2" r="0.85"/><circle cx="467.1" cy="149.8" r="0.85"/><circle cx="465.1" cy="150.2" r="0.85"/><circle cx="471.8" cy="148.2" r="0.85"/><circle cx="463.5" cy="150.4" r="0.85"/><circle cx="466.3" cy="153.7" r="0.85"/><circle cx="470.4" cy="148.1" r="0.85"/><circle cx="471.8" cy="149.0" r="0.85"/><circle cx="462.7" cy="148.2" r="0.85"/><circle cx="466.0" cy="153.9" r="0.85"/><circle cx="465.5" cy="150.2" r="0.85"/><circle cx="462.6" cy="157.3" r="0.85"/><circle cx="462.9" cy="157.0" r="0.85"/><circle cx="470.8" cy="150.9" r="0.85"/><circle cx="473.1" cy="148.7" r="0.85"/><circle cx="473.0" cy="148.8" r="0.85"/><circle cx="466.3" cy="153.3" r="0.85"/><circle cx="469.7" cy="152.0" r="0.85"/><circle cx="466.1" cy="154.8" r="0.85"/><circle cx="472.9" cy="148.4" r="0.85"/><circle cx="464.1" cy="151.1" r="0.85"/><circle cx="469.2" cy="149.2" r="0.85"/><circle cx="466.3" cy="149.1" r="0.85"/><circle cx="469.3" cy="149.5" r="0.85"/><circle cx="472.0" cy="148.6" r="0.85"/><circle cx="470.0" cy="148.1" r="0.85"/><circle cx="465.1" cy="155.3" r="0.85"/><circle cx="463.3" cy="149.6" r="0.85"/><circle cx="465.4" cy="154.7" r="0.85"/><circle cx="463.3" cy="157.0" r="0.85"/><circle cx="463.4" cy="149.9" r="0.85"/><circle cx="464.0" cy="152.6" r="0.85"/><circle cx="469.2" cy="148.0" r="0.85"/><circle cx="468.9" cy="153.1" r="0.85"/><circle cx="469.6" cy="149.8" r="0.85"/><circle cx="466.9" cy="153.3" r="0.85"/><circle cx="465.8" cy="152.8" r="0.85"/><circle cx="462.6" cy="149.1" r="0.85"/><circle cx="466.9" cy="149.5" r="0.85"/><circle cx="462.7" cy="153.2" r="0.85"/><circle cx="467.8" cy="149.3" r="0.85"/><circle cx="462.6" cy="156.6" r="0.85"/><circle cx="463.0" cy="151.2" r="0.85"/><circle cx="472.4" cy="148.7" r="0.85"/><circle cx="462.6" cy="156.9" r="0.85"/><circle cx="469.5" cy="151.4" r="0.85"/><circle cx="470.8" cy="150.7" r="0.85"/><circle cx="462.6" cy="150.4" r="0.85"/><circle cx="468.5" cy="150.7" r="0.85"/><circle cx="397.0" cy="161.2" r="0.85"/><circle cx="400.0" cy="163.0" r="0.85"/><circle cx="404.5" cy="161.9" r="0.85"/><circle cx="470.0" cy="160.9" r="0.85"/><circle cx="468.8" cy="163.7" r="0.85"/>
</g>
<g fill="#1f3f94">
<circle cx="408.2" cy="134.5" r="0.95"/><circle cx="412.2" cy="144.2" r="0.95"/><circle cx="411.7" cy="144.1" r="0.95"/><circle cx="409.4" cy="143.6" r="0.95"/><circle cx="404.4" cy="133.8" r="0.95"/><circle cx="406.6" cy="139.5" r="0.95"/><circle cx="412.1" cy="144.8" r="0.95"/><circle cx="411.5" cy="146.4" r="0.95"/><circle cx="408.6" cy="135.2" r="0.95"/><circle cx="405.5" cy="142.8" r="0.95"/><circle cx="410.3" cy="145.4" r="0.95"/><circle cx="403.7" cy="140.3" r="0.95"/><circle cx="411.0" cy="146.3" r="0.95"/><circle cx="410.8" cy="146.5" r="0.95"/><circle cx="401.8" cy="147.3" r="0.95"/><circle cx="412.4" cy="147.1" r="0.95"/><circle cx="409.9" cy="140.8" r="0.95"/><circle cx="408.9" cy="140.2" r="0.95"/><circle cx="409.7" cy="142.8" r="0.95"/><circle cx="403.3" cy="135.1" r="0.95"/><circle cx="407.5" cy="145.0" r="0.95"/><circle cx="407.4" cy="144.1" r="0.95"/><circle cx="409.0" cy="144.8" r="0.95"/><circle cx="403.6" cy="142.6" r="0.95"/><circle cx="402.1" cy="140.0" r="0.95"/><circle cx="404.2" cy="133.7" r="0.95"/><circle cx="406.9" cy="140.5" r="0.95"/><circle cx="409.7" cy="139.3" r="0.95"/><circle cx="412.2" cy="147.4" r="0.95"/><circle cx="402.0" cy="138.7" r="0.95"/><circle cx="411.9" cy="146.1" r="0.95"/><circle cx="411.8" cy="143.1" r="0.95"/><circle cx="412.5" cy="146.3" r="0.95"/><circle cx="412.0" cy="146.4" r="0.95"/><circle cx="408.9" cy="143.5" r="0.95"/><circle cx="404.2" cy="145.8" r="0.95"/><circle cx="405.4" cy="141.8" r="0.95"/><circle cx="401.6" cy="137.6" r="0.95"/><circle cx="407.0" cy="135.1" r="0.95"/><circle cx="407.3" cy="135.6" r="0.95"/><circle cx="409.4" cy="136.9" r="0.95"/><circle cx="409.3" cy="136.4" r="0.95"/><circle cx="406.5" cy="146.0" r="0.95"/><circle cx="411.9" cy="146.5" r="0.95"/><circle cx="410.4" cy="146.5" r="0.95"/><circle cx="408.1" cy="143.4" r="0.95"/><circle cx="409.7" cy="146.0" r="0.95"/><circle cx="406.1" cy="144.1" r="0.95"/><circle cx="409.3" cy="147.3" r="0.95"/><circle cx="411.0" cy="146.4" r="0.95"/><circle cx="409.7" cy="137.0" r="0.95"/><circle cx="408.1" cy="138.9" r="0.95"/><circle cx="411.8" cy="145.7" r="0.95"/><circle cx="402.8" cy="142.3" r="0.95"/><circle cx="407.0" cy="137.8" r="0.95"/><circle cx="412.0" cy="145.2" r="0.95"/><circle cx="409.7" cy="146.2" r="0.95"/><circle cx="412.2" cy="147.1" r="0.95"/><circle cx="405.5" cy="132.2" r="0.95"/><circle cx="406.8" cy="138.5" r="0.95"/><circle cx="406.6" cy="141.7" r="0.95"/><circle cx="405.0" cy="133.9" r="0.95"/><circle cx="408.7" cy="144.7" r="0.95"/><circle cx="406.7" cy="147.2" r="0.95"/><circle cx="408.1" cy="139.0" r="0.95"/><circle cx="408.5" cy="146.5" r="0.95"/><circle cx="405.1" cy="140.3" r="0.95"/><circle cx="405.8" cy="144.8" r="0.95"/><circle cx="408.9" cy="147.4" r="0.95"/><circle cx="409.0" cy="142.0" r="0.95"/><circle cx="409.1" cy="141.7" r="0.95"/><circle cx="405.1" cy="144.5" r="0.95"/><circle cx="410.0" cy="142.8" r="0.95"/><circle cx="411.6" cy="146.6" r="0.95"/><circle cx="411.5" cy="142.9" r="0.95"/><circle cx="405.9" cy="145.4" r="0.95"/><circle cx="407.4" cy="145.4" r="0.95"/><circle cx="409.7" cy="138.1" r="0.95"/><circle cx="405.0" cy="146.3" r="0.95"/><circle cx="403.8" cy="141.2" r="0.95"/><circle cx="405.6" cy="144.2" r="0.95"/><circle cx="406.4" cy="133.0" r="0.95"/><circle cx="408.9" cy="141.9" r="0.95"/><circle cx="402.5" cy="145.0" r="0.95"/><circle cx="402.9" cy="132.9" r="0.95"/><circle cx="408.2" cy="139.9" r="0.95"/><circle cx="410.1" cy="138.5" r="0.95"/><circle cx="402.7" cy="140.3" r="0.95"/><circle cx="407.0" cy="139.9" r="0.95"/><circle cx="411.7" cy="144.7" r="0.95"/><circle cx="411.7" cy="143.4" r="0.95"/><circle cx="411.1" cy="147.4" r="0.95"/><circle cx="409.1" cy="147.2" r="0.95"/><circle cx="411.6" cy="144.9" r="0.95"/><circle cx="407.4" cy="146.2" r="0.95"/><circle cx="400.6" cy="114.9" r="0.95"/><circle cx="406.6" cy="129.2" r="0.95"/><circle cx="406.3" cy="127.0" r="0.95"/><circle cx="401.2" cy="125.7" r="0.95"/><circle cx="402.0" cy="115.8" r="0.95"/><circle cx="409.1" cy="137.0" r="0.95"/><circle cx="407.3" cy="136.9" r="0.95"/><circle cx="404.1" cy="121.9" r="0.95"/><circle cx="406.9" cy="133.6" r="0.95"/><circle cx="400.6" cy="113.3" r="0.95"/><circle cx="409.6" cy="139.7" r="0.95"/><circle cx="406.3" cy="128.1" r="0.95"/><circle cx="406.8" cy="138.5" r="0.95"/><circle cx="406.9" cy="130.6" r="0.95"/><circle cx="403.3" cy="122.0" r="0.95"/><circle cx="402.8" cy="120.7" r="0.95"/><circle cx="408.6" cy="134.6" r="0.95"/><circle cx="401.0" cy="122.9" r="0.95"/><circle cx="407.9" cy="138.4" r="0.95"/><circle cx="404.8" cy="131.7" r="0.95"/><circle cx="401.2" cy="115.5" r="0.95"/><circle cx="407.3" cy="137.1" r="0.95"/><circle cx="402.3" cy="116.3" r="0.95"/><circle cx="407.0" cy="130.2" r="0.95"/><circle cx="404.7" cy="126.7" r="0.95"/><circle cx="401.4" cy="113.9" r="0.95"/><circle cx="407.8" cy="136.9" r="0.95"/><circle cx="408.7" cy="138.6" r="0.95"/><circle cx="401.4" cy="115.7" r="0.95"/><circle cx="404.3" cy="122.1" r="0.95"/><circle cx="400.9" cy="113.1" r="0.95"/><circle cx="404.7" cy="123.7" r="0.95"/><circle cx="401.3" cy="115.2" r="0.95"/><circle cx="401.5" cy="113.6" r="0.95"/><circle cx="406.7" cy="133.1" r="0.95"/><circle cx="405.0" cy="128.5" r="0.95"/><circle cx="408.2" cy="133.0" r="0.95"/><circle cx="404.0" cy="127.3" r="0.95"/><circle cx="408.2" cy="132.7" r="0.95"/><circle cx="402.7" cy="128.3" r="0.95"/><circle cx="407.7" cy="134.5" r="0.95"/><circle cx="406.7" cy="129.5" r="0.95"/><circle cx="404.6" cy="125.1" r="0.95"/><circle cx="409.6" cy="145.6" r="0.95"/><circle cx="404.8" cy="132.0" r="0.95"/><circle cx="409.5" cy="137.7" r="0.95"/><circle cx="406.3" cy="127.6" r="0.95"/><circle cx="402.0" cy="115.3" r="0.95"/><circle cx="408.0" cy="134.5" r="0.95"/><circle cx="402.6" cy="125.6" r="0.95"/><circle cx="403.2" cy="124.6" r="0.95"/><circle cx="406.4" cy="130.1" r="0.95"/><circle cx="390.0" cy="130.0" r="0.95"/><circle cx="393.8" cy="139.6" r="0.95"/><circle cx="396.2" cy="145.8" r="0.95"/><circle cx="395.0" cy="124.5" r="0.95"/><circle cx="391.2" cy="120.4" r="0.95"/><circle cx="393.8" cy="132.1" r="0.95"/><circle cx="397.0" cy="141.7" r="0.95"/><circle cx="398.8" cy="135.5" r="0.95"/><circle cx="397.5" cy="128.6" r="0.95"/><circle cx="392.0" cy="59.2" r="0.95"/><circle cx="391.8" cy="89.4" r="0.95"/><circle cx="397.8" cy="93.4" r="0.95"/><circle cx="395.8" cy="96.3" r="0.95"/><circle cx="398.5" cy="101.8" r="0.95"/><circle cx="393.5" cy="102.6" r="0.95"/><circle cx="393.5" cy="106.6" r="0.95"/><circle cx="396.5" cy="111.4" r="0.95"/><circle cx="392.8" cy="112.5" r="0.95"/><circle cx="389.2" cy="115.8" r="0.95"/><circle cx="401.2" cy="112.1" r="0.95"/><circle cx="400.5" cy="114.1" r="0.95"/><circle cx="400.0" cy="116.4" r="0.95"/>
</g>
<g fill="#c8171c">
<circle cx="464.2" cy="147.2" r="0.95"/><circle cx="468.3" cy="141.5" r="0.95"/><circle cx="467.1" cy="141.5" r="0.95"/><circle cx="468.9" cy="135.5" r="0.95"/><circle cx="464.4" cy="147.5" r="0.95"/><circle cx="471.4" cy="135.9" r="0.95"/><circle cx="469.0" cy="147.5" r="0.95"/><circle cx="466.6" cy="142.4" r="0.95"/><circle cx="462.6" cy="146.1" r="0.95"/><circle cx="470.7" cy="143.3" r="0.95"/><circle cx="472.8" cy="132.6" r="0.95"/><circle cx="473.2" cy="135.8" r="0.95"/><circle cx="472.7" cy="139.5" r="0.95"/><circle cx="468.4" cy="145.2" r="0.95"/><circle cx="465.3" cy="144.9" r="0.95"/><circle cx="464.8" cy="140.5" r="0.95"/><circle cx="465.6" cy="145.9" r="0.95"/><circle cx="472.8" cy="134.1" r="0.95"/><circle cx="468.1" cy="146.0" r="0.95"/><circle cx="463.5" cy="142.5" r="0.95"/><circle cx="468.4" cy="143.3" r="0.95"/><circle cx="462.5" cy="145.6" r="0.95"/><circle cx="469.4" cy="133.6" r="0.95"/><circle cx="465.7" cy="147.5" r="0.95"/><circle cx="473.3" cy="147.1" r="0.95"/><circle cx="466.3" cy="146.9" r="0.95"/><circle cx="473.1" cy="136.6" r="0.95"/><circle cx="465.4" cy="139.6" r="0.95"/><circle cx="462.7" cy="146.2" r="0.95"/><circle cx="473.0" cy="133.9" r="0.95"/><circle cx="466.7" cy="141.1" r="0.95"/><circle cx="471.8" cy="143.9" r="0.95"/><circle cx="468.9" cy="137.7" r="0.95"/><circle cx="473.3" cy="140.1" r="0.95"/><circle cx="463.1" cy="144.1" r="0.95"/><circle cx="473.2" cy="142.8" r="0.95"/><circle cx="471.7" cy="140.9" r="0.95"/><circle cx="465.1" cy="142.7" r="0.95"/><circle cx="466.5" cy="145.8" r="0.95"/><circle cx="465.3" cy="144.7" r="0.95"/><circle cx="468.1" cy="140.7" r="0.95"/><circle cx="467.1" cy="135.8" r="0.95"/><circle cx="472.4" cy="132.7" r="0.95"/><circle cx="472.0" cy="146.3" r="0.95"/><circle cx="462.7" cy="145.8" r="0.95"/><circle cx="472.3" cy="134.7" r="0.95"/><circle cx="469.2" cy="141.5" r="0.95"/><circle cx="467.6" cy="144.2" r="0.95"/><circle cx="466.7" cy="135.1" r="0.95"/><circle cx="464.9" cy="144.9" r="0.95"/><circle cx="471.2" cy="142.9" r="0.95"/><circle cx="462.6" cy="146.1" r="0.95"/><circle cx="470.0" cy="138.2" r="0.95"/><circle cx="466.1" cy="136.0" r="0.95"/><circle cx="463.2" cy="147.5" r="0.95"/><circle cx="469.2" cy="143.5" r="0.95"/><circle cx="468.4" cy="140.6" r="0.95"/><circle cx="472.1" cy="134.0" r="0.95"/><circle cx="467.8" cy="136.6" r="0.95"/><circle cx="463.9" cy="141.3" r="0.95"/><circle cx="473.2" cy="141.0" r="0.95"/><circle cx="467.1" cy="135.5" r="0.95"/><circle cx="462.8" cy="146.7" r="0.95"/><circle cx="462.9" cy="146.5" r="0.95"/><circle cx="470.9" cy="147.0" r="0.95"/><circle cx="470.1" cy="146.2" r="0.95"/><circle cx="462.8" cy="145.4" r="0.95"/><circle cx="466.6" cy="144.6" r="0.95"/><circle cx="469.8" cy="138.4" r="0.95"/><circle cx="472.0" cy="137.9" r="0.95"/><circle cx="463.7" cy="147.2" r="0.95"/><circle cx="463.5" cy="147.3" r="0.95"/><circle cx="490.8" cy="28.8" r="0.95"/><circle cx="486.2" cy="59.2" r="0.95"/><circle cx="482.5" cy="88.8" r="0.95"/><circle cx="477.8" cy="95.6" r="0.95"/><circle cx="481.0" cy="98.4" r="0.95"/><circle cx="476.0" cy="110.9" r="0.95"/><circle cx="480.5" cy="113.1" r="0.95"/><circle cx="475.5" cy="115.3" r="0.95"/><circle cx="471.5" cy="116.7" r="0.95"/><circle cx="471.0" cy="125.5" r="0.95"/><circle cx="474.0" cy="125.5" r="0.95"/><circle cx="478.0" cy="124.0" r="0.95"/><circle cx="479.8" cy="125.7" r="0.95"/><circle cx="468.2" cy="126.2" r="0.95"/><circle cx="473.0" cy="129.0" r="0.95"/><circle cx="469.0" cy="132.9" r="0.95"/><circle cx="476.0" cy="133.4" r="0.95"/><circle cx="476.0" cy="134.8" r="0.95"/><circle cx="481.8" cy="136.2" r="0.95"/><circle cx="480.0" cy="141.7" r="0.95"/><circle cx="475.0" cy="146.5" r="0.95"/><circle cx="472.5" cy="147.1" r="0.95"/><circle cx="470.8" cy="130.7" r="0.95"/><circle cx="467.5" cy="130.0" r="0.95"/>
</g>
<rect x="356.5" y="21.25" width="162.25" height="151.25" fill="none" stroke="#b5b5b5" stroke-width="0.6"/>
<text x="353.60" y="167.25" font-size="4.30" fill="#4d4d4d" text-anchor="end">0.0</text>
<line x1="355.1" x2="356.5" y1="165.75" y2="165.75" stroke="#555" stroke-width="0.4"/>
<text x="353.60" y="132.88" font-size="4.30" fill="#4d4d4d" text-anchor="end">2.5</text>
<line x1="355.1" x2="356.5" y1="131.38" y2="131.38" stroke="#555" stroke-width="0.4"/>
<text x="353.60" y="98.50" font-size="4.30" fill="#4d4d4d" text-anchor="end">5.0</text>
<line x1="355.1" x2="356.5" y1="97.00" y2="97.00" stroke="#555" stroke-width="0.4"/>
<text x="353.60" y="64.12" font-size="4.30" fill="#4d4d4d" text-anchor="end">7.5</text>
<line x1="355.1" x2="356.5" y1="62.62" y2="62.62" stroke="#555" stroke-width="0.4"/>
<text x="353.60" y="29.75" font-size="4.30" fill="#4d4d4d" text-anchor="end">10.0</text>
<line x1="355.1" x2="356.5" y1="28.25" y2="28.25" stroke="#555" stroke-width="0.4"/>
<text x="387.50" y="178.20" font-size="4.30" fill="#4d4d4d" text-anchor="middle">−2</text>
<line x1="387.5" x2="387.5" y1="172.5" y2="173.9" stroke="#555" stroke-width="0.4"/>
<text x="437.50" y="178.20" font-size="4.30" fill="#4d4d4d" text-anchor="middle">0</text>
<line x1="437.5" x2="437.5" y1="172.5" y2="173.9" stroke="#555" stroke-width="0.4"/>
<text x="487.50" y="178.20" font-size="4.30" fill="#4d4d4d" text-anchor="middle">2</text>
<line x1="487.5" x2="487.5" y1="172.5" y2="173.9" stroke="#555" stroke-width="0.4"/>
<text x="437.70" y="184.60" font-size="5.44" fill="#222" text-anchor="middle">logFC</text>
<text transform="translate(342,97) rotate(-90)" font-size="5.1" fill="#222" text-anchor="middle">−log10(FDR)</text>
<rect x="362" y="24.8" width="119.5" height="11" fill="#ebebeb"/>
<text x="364.30" y="32.30" font-size="4.90" fill="#111">DEG</text>
<circle cx="378.6" cy="30.5" r="0.8" fill="#1f3f94"/>
<text x="384.50" y="31.80" font-size="3.60" fill="#000">DOWN 168 genes</text>
<circle cx="417.3" cy="30.5" r="0.8" fill="#0a0a0a"/>
<text x="423.30" y="31.80" font-size="3.60" fill="#000">No significance</text>
<circle cx="451.7" cy="30.5" r="0.8" fill="#c8171c"/>
<text x="457.50" y="31.80" font-size="3.60" fill="#000">UP 101 genes</text>
<text x="380.75" y="65.00" font-size="4.35" fill="#1f3f94">SOCS2</text>
<text x="376.25" y="86.25" font-size="4.35" fill="#1f3f94">TMEM52B</text>
<text x="400.50" y="92.50" font-size="4.35" fill="#1f3f94">WDR64</text>
<text x="377.00" y="94.25" font-size="4.35" fill="#1f3f94">PARD3B</text>
<text x="398.25" y="99.25" font-size="4.35" fill="#1f3f94">NLRP1</text>
<text x="357.50" y="98.25" font-size="4.35" fill="#1f3f94">TMEM167A</text>
<text x="381.25" y="104.25" font-size="4.35" fill="#1f3f94">TRH</text>
<text x="395.50" y="107.50" font-size="4.35" fill="#1f3f94">KRT81</text>
<text x="375.50" y="109.25" font-size="4.35" fill="#1f3f94">WNT7B</text>
<text x="403.75" y="114.50" font-size="4.35" fill="#1f3f94">NOCT</text>
<text x="368.75" y="116.25" font-size="4.35" fill="#1f3f94">POTEA</text>
<text x="386.25" y="122.00" font-size="4.35" fill="#1f3f94">EVI2B</text>
<text x="487.50" y="26.00" font-size="4.35" fill="#c8171c">NXPH4</text>
<text x="475.00" y="65.00" font-size="4.35" fill="#c8171c">FOSL2</text>
<text x="479.00" y="86.75" font-size="4.35" fill="#c8171c">LAMC2</text>
<text x="468.00" y="93.25" font-size="4.35" fill="#c8171c">NFYA</text>
<text x="482.50" y="96.25" font-size="4.35" fill="#c8171c">REC114</text>
<text x="467.00" y="103.75" font-size="4.35" fill="#c8171c">MOB1A</text>
<text x="452.50" y="110.00" font-size="4.35" fill="#c8171c">FSHB</text>
<text x="485.75" y="110.00" font-size="4.35" fill="#c8171c">CSN2</text>
<text x="450.75" y="116.75" font-size="4.35" fill="#c8171c">TNFRSF9</text>
<text x="474.00" y="116.75" font-size="4.35" fill="#c8171c">EPX</text>
<text x="463.75" y="123.25" font-size="4.35" fill="#c8171c">DAO</text>
<text x="482.00" y="123.25" font-size="4.35" fill="#c8171c">MUTYH</text>
<text x="447.50" y="126.25" font-size="4.35" fill="#c8171c">COP1</text>
<text x="474.50" y="130.50" font-size="4.35" fill="#c8171c">KIAA2013</text>
<text x="498.25" y="130.00" font-size="4.35" fill="#c8171c">CXCL14</text>
<text x="447.50" y="133.00" font-size="4.35" fill="#c8171c">TMEM134</text>
<line x1="380.2" y1="97.2" x2="393.4" y2="102.6" stroke="#1f3f94" stroke-width="0.45"/>
<line x1="383.8" y1="114" x2="392.8" y2="112.6" stroke="#1f3f94" stroke-width="0.45"/>
<line x1="391" y1="108.6" x2="396.4" y2="111.4" stroke="#1f3f94" stroke-width="0.45"/>
<line x1="390.3" y1="103.2" x2="393.2" y2="102.7" stroke="#1f3f94" stroke-width="0.45"/>
<line x1="464.5" y1="108.75" x2="475.25" y2="111.25" stroke="#c8171c" stroke-width="0.45"/>
<line x1="485" y1="108.75" x2="480.5" y2="113" stroke="#c8171c" stroke-width="0.45"/>
<line x1="459.5" y1="125" x2="468" y2="126.2" stroke="#c8171c" stroke-width="0.45"/>
<line x1="497" y1="128.75" x2="480" y2="125.7" stroke="#c8171c" stroke-width="0.45"/>
<line x1="476" y1="105" x2="476" y2="110.6" stroke="#c8171c" stroke-width="0.45"/>
<line x1="470.4" y1="115.4" x2="471.5" y2="116.6" stroke="#c8171c" stroke-width="0.45"/>
<line x1="470" y1="123.6" x2="471" y2="125.2" stroke="#c8171c" stroke-width="0.45"/>
<line x1="481.8" y1="122" x2="478.3" y2="123.8" stroke="#c8171c" stroke-width="0.45"/>
</g>
<g id="panelC">
<text x="4.50" y="237.00" font-size="10.00" fill="#000">C</text>
<text x="7.60" y="256.75" font-size="5.22" fill="#111" font-weight="bold">Extracellular</text>
<text x="7.60" y="300.75" font-size="5.22" fill="#111" font-weight="bold">Plasma Membrane</text>
<text x="7.60" y="426.60" font-size="5.22" fill="#111" font-weight="bold">Intra Cellular</text>
<text x="7.60" y="481.50" font-size="5.22" fill="#111" font-weight="bold">Nucleus</text>
<line x1="8" x2="283.25" y1="284.5" y2="284.5" stroke="#7c7c7c" stroke-width="0.5"/>
<line x1="8" x2="283.75" y1="331.25" y2="331.25" stroke="#7c7c7c" stroke-width="0.5"/>
<line x1="8" x2="283" y1="472.75" y2="472.75" stroke="#7c7c7c" stroke-width="0.5"/>
<g stroke="#8b91cc" stroke-width="0.4" fill="none">
<line x1="184.25" y1="229.5" x2="149.25" y2="270.5"/>
<line x1="184.25" y1="229.5" x2="194.5" y2="266.25"/>
<line x1="149.25" y1="270.5" x2="194.5" y2="266.25"/>
<line x1="184.25" y1="229.5" x2="106.25" y2="289.5"/>
<line x1="149.25" y1="270.5" x2="106.25" y2="289.5"/>
<line x1="149.25" y1="270.5" x2="74.25" y2="308.75"/>
<line x1="149.25" y1="270.5" x2="105" y2="323"/>
<line x1="149.25" y1="270.5" x2="168.75" y2="323"/>
<line x1="194.5" y1="266.25" x2="168.75" y2="323"/>
<line x1="194.5" y1="266.25" x2="105" y2="323"/>
<line x1="106.25" y1="289.5" x2="74.25" y2="308.75"/>
<line x1="106.25" y1="289.5" x2="105" y2="323"/>
<line x1="74.25" y1="308.75" x2="105" y2="323"/>
<line x1="105" y1="323" x2="168.75" y2="323"/>
<line x1="168.75" y1="323" x2="152.5" y2="355"/>
<line x1="152.5" y1="355" x2="121.25" y2="371.25"/>
<line x1="105" y1="323" x2="152.5" y2="355"/>
<line x1="105" y1="323" x2="121.25" y2="371.25"/>
<line x1="74.25" y1="308.75" x2="152.5" y2="355"/>
<line x1="106.25" y1="289.5" x2="168.75" y2="323"/>
<line x1="184.25" y1="229.5" x2="168.75" y2="323"/>
<line x1="194.5" y1="266.25" x2="152.5" y2="355"/>
<line x1="208" y1="197" x2="184.25" y2="229.5"/>
<line x1="208" y1="197" x2="194.5" y2="266.25"/>
<line x1="122.5" y1="259.5" x2="184.25" y2="229.5"/>
<line x1="122.5" y1="259.5" x2="149.25" y2="270.5"/>
<line x1="122.5" y1="259.5" x2="106.25" y2="289.5"/>
<line x1="122.5" y1="259.5" x2="105" y2="323"/>
<line x1="58" y1="275.75" x2="106.25" y2="289.5"/>
<line x1="58" y1="275.75" x2="74.25" y2="308.75"/>
<line x1="220" y1="260.5" x2="184.25" y2="229.5"/>
<line x1="220" y1="260.5" x2="194.5" y2="266.25"/>
<line x1="136.75" y1="307" x2="149.25" y2="270.5"/>
<line x1="136.75" y1="307" x2="106.25" y2="289.5"/>
<line x1="136.75" y1="307" x2="168.75" y2="323"/>
<line x1="136.75" y1="307" x2="105" y2="323"/>
<line x1="136.75" y1="307" x2="74.25" y2="308.75"/>
<line x1="136.75" y1="307" x2="152.5" y2="355"/>
<line x1="121.5" y1="323.75" x2="106.25" y2="289.5"/>
<line x1="121.5" y1="323.75" x2="105" y2="323"/>
<line x1="121.5" y1="323.75" x2="121.25" y2="371.25"/>
<line x1="121.5" y1="323.75" x2="168.75" y2="323"/>
<line x1="13" y1="342" x2="89.5" y2="449"/>
<line x1="40" y1="358.75" x2="89.5" y2="449"/>
<line x1="40" y1="358.75" x2="74.25" y2="308.75"/>
<line x1="40" y1="358.75" x2="105" y2="323"/>
<line x1="74.25" y1="354.5" x2="74.25" y2="308.75"/>
<line x1="74.25" y1="354.5" x2="105" y2="323"/>
<line x1="89.5" y1="354.5" x2="105" y2="323"/>
<line x1="89.5" y1="354.5" x2="74.25" y2="308.75"/>
<line x1="89.5" y1="370.5" x2="89.5" y2="449"/>
<line x1="89.5" y1="370.5" x2="105" y2="323"/>
<line x1="89.5" y1="449" x2="121.25" y2="371.25"/>
<line x1="89.5" y1="449" x2="152.5" y2="355"/>
<line x1="89.5" y1="449" x2="168" y2="370.5"/>
<line x1="89.5" y1="449" x2="199.5" y2="370.5"/>
<line x1="89.5" y1="449" x2="199.5" y2="354.5"/>
<line x1="89.5" y1="449" x2="168.75" y2="323"/>
<line x1="168" y1="370.5" x2="152.5" y2="355"/>
<line x1="168" y1="370.5" x2="168.75" y2="323"/>
<line x1="199.5" y1="370.5" x2="168.75" y2="323"/>
<line x1="199.5" y1="370.5" x2="152.5" y2="355"/>
<line x1="199.5" y1="354.5" x2="168.75" y2="323"/>
<line x1="199.5" y1="354.5" x2="152.5" y2="355"/>
<line x1="121.25" y1="371.25" x2="168" y2="464.5"/>
<line x1="152.5" y1="355" x2="168" y2="464.5"/>
<line x1="194.5" y1="266.25" x2="168" y2="464.5"/>
<line x1="184.25" y1="229.5" x2="168" y2="464.5"/>
<line x1="168.75" y1="323" x2="168" y2="464.5"/>
<line x1="194.5" y1="266.25" x2="168" y2="370.5"/>
<line x1="194.5" y1="266.25" x2="199.5" y2="370.5"/>
<line x1="194.5" y1="266.25" x2="199.5" y2="354.5"/>
<line x1="90" y1="323.75" x2="74.25" y2="308.75"/>
<line x1="90" y1="323.75" x2="105" y2="323"/>
<line x1="105" y1="354.5" x2="105" y2="323"/>
<line x1="105" y1="354.5" x2="121.25" y2="371.25"/>
<line x1="149.25" y1="270.5" x2="121.5" y2="323.75"/>
<line x1="168.75" y1="323" x2="121.25" y2="371.25"/>
</g>
<g stroke="#f3a3a3" stroke-width="0.4" fill="none">
<line x1="246.25" y1="229.25" x2="243.75" y2="484.5"/>
<line x1="262" y1="276.75" x2="243.75" y2="484.5"/>
<line x1="215.5" y1="309" x2="205" y2="414"/>
<line x1="230.75" y1="370.5" x2="205" y2="414"/>
<line x1="183.75" y1="449" x2="205" y2="414"/>
<line x1="199.5" y1="464.5" x2="205" y2="414"/>
<line x1="205" y1="414" x2="131.25" y2="503.5"/>
<line x1="243.75" y1="484.5" x2="153.75" y2="515.25"/>
<line x1="160.5" y1="498.1" x2="243.75" y2="484.5"/>
<line x1="160.5" y1="498.1" x2="205" y2="414"/>
</g>
<line x1="131.25" y1="503.5" x2="153.75" y2="515.25" stroke="#dcefd6" stroke-width="13.2" stroke-linecap="round"/>
<circle cx="105" cy="323" r="19.5" fill="#7079c2"/>
<circle cx="74.25" cy="308.75" r="19.5" fill="#7b83c7"/>
<circle cx="106.25" cy="289.5" r="18.75" fill="#4a58a8"/>
<circle cx="194.5" cy="266.25" r="19.5" fill="#a0a2d3"/>
<circle cx="184.25" cy="229.5" r="19.5" fill="#8d90cb"/>
<circle cx="149.25" cy="270.5" r="19.5" fill="#8288c8"/>
<circle cx="168.75" cy="323" r="19.5" fill="#5560b0"/>
<circle cx="152.5" cy="355" r="19.5" fill="#2b4fa2"/>
<circle cx="121.25" cy="371.25" r="19.5" fill="#2b4fa2" stroke="#9fb0dd" stroke-width="0.4"/>
<circle cx="89.5" cy="449" r="19.5" fill="#2b4ea2"/>
<circle cx="205" cy="414" r="19.5" fill="#f4b4b4"/>
<circle cx="243.75" cy="484.5" r="19.5" fill="#ec6b70"/>
<circle cx="89.5" cy="464.5" r="4.5" fill="none" stroke="#8fa3d8" stroke-width="0.4"/>
<circle cx="122.5" cy="259.5" r="4.5" fill="#2447a5"/>
<circle cx="58" cy="275.75" r="4.5" fill="#2447a5"/>
<circle cx="208" cy="197" r="4.5" fill="#2447a5"/>
<circle cx="220" cy="260.5" r="4.5" fill="#2447a5"/>
<circle cx="262" cy="276.75" r="4.5" fill="#2447a5"/>
<circle cx="136.75" cy="307" r="4.5" fill="#2447a5"/>
<circle cx="121.5" cy="323.75" r="4.5" fill="#2447a5"/>
<circle cx="13" cy="342" r="4.5" fill="#2447a5"/>
<circle cx="40" cy="358.75" r="4.5" fill="#2447a5"/>
<circle cx="74.25" cy="354.5" r="4.5" fill="#2447a5"/>
<circle cx="89.5" cy="354.5" r="4.5" fill="#2447a5"/>
<circle cx="89.5" cy="370.5" r="4.5" fill="#2447a5"/>
<circle cx="168" cy="370.5" r="4.5" fill="#2447a5"/>
<circle cx="199.5" cy="370.5" r="4.5" fill="#2447a5"/>
<circle cx="168" cy="464.5" r="4.5" fill="#2447a5"/>
<circle cx="199.5" cy="464.5" r="4.5" fill="#2447a5"/>
<circle cx="90" cy="323.75" r="4.5" fill="#e8141c"/>
<circle cx="105" cy="354.5" r="4.5" fill="#e8141c"/>
<circle cx="199.5" cy="354.5" r="4.5" fill="#e8141c"/>
<circle cx="230.75" cy="370.5" r="4.5" fill="#e8141c"/>
<circle cx="246.25" cy="229.25" r="4.5" fill="#e8141c"/>
<circle cx="183.75" cy="449" r="4.5" fill="#e8141c"/>
<circle cx="131.25" cy="503.5" r="4.5" fill="#e8141c"/>
<circle cx="153.75" cy="515.25" r="4.5" fill="#e8141c"/>
<path d="M211.1,303.3 L215.4,306.5 L219.8,303.3 L215.4,312.2 Z" fill="#1f3f9a"/>
<rect x="47" y="313.75" width="119.6" height="7.5" fill="#fff" fill-opacity="0.85"/>
<text x="47.50" y="318.75" font-size="5.28" fill="#4560b5" font-weight="bold" textLength="118.50" lengthAdjust="spacingAndGlyphs">postsynaptic neurotransmitter receptor activity</text>
<rect x="164" y="252.5" width="40" height="6.75" fill="#fff" fill-opacity="0.8"/>
<text x="165.00" y="257.00" font-size="4.35" fill="#9598cd" textLength="38.00" lengthAdjust="spacingAndGlyphs">dopamine secretion</text>
<text x="158.00" y="294.25" font-size="5.70" fill="#a9abd8" textLength="72.50" lengthAdjust="spacingAndGlyphs">regulation of amine transport</text>
<rect x="30.5" y="330.5" width="87.5" height="6.5" fill="#fff" fill-opacity="0.8"/>
<text x="31.25" y="335.00" font-size="4.33" fill="#8d93cc" textLength="86.25" lengthAdjust="spacingAndGlyphs">chemical synaptic transmission, postsynaptic</text>
<rect x="73.5" y="347.5" width="60.5" height="5.5" fill="#fff" fill-opacity="0.75"/>
<text x="74.25" y="351.25" font-size="4.48" fill="#8088c6" textLength="65.25" lengthAdjust="spacingAndGlyphs">neurotransmitter receptor activity</text>
<rect x="149" y="346.5" width="39" height="6.5" fill="#fff" fill-opacity="0.7"/>
<text x="150.00" y="351.25" font-size="4.38" fill="#4a60b0" textLength="37.00" lengthAdjust="spacingAndGlyphs">Morphine addiction</text>
<rect x="132.6" y="377.6" width="41.0" height="6.399999999999977" fill="#fff" fill-opacity="0.75"/>
<text x="133.25" y="382.50" font-size="4.44" fill="#4a62b2" textLength="39.75" lengthAdjust="spacingAndGlyphs">GABAergic synapse</text>
<text x="98.75" y="399.90" font-size="5.19" fill="#2b4a9c" font-weight="bold" textLength="45.00" lengthAdjust="spacingAndGlyphs">Nicotine addiction</text>
<rect x="61.5" y="470" width="56.5" height="9.5" fill="#fff" fill-opacity="1"/>
<text x="62.50" y="477.75" font-size="5.22" fill="#2b4fa2" font-weight="bold" textLength="54.50" lengthAdjust="spacingAndGlyphs">Serotonergic synapse</text>
<rect x="135.6" y="438.3" width="138.79999999999998" height="7.099999999999966" fill="#fff" fill-opacity="0.8"/>
<text x="136.25" y="443.40" font-size="5.20" fill="#e8202a" font-weight="bold" textLength="137.50" lengthAdjust="spacingAndGlyphs">negative regulation of tumor necrosis factor production</text>
<text x="187.00" y="513.25" font-size="5.76" fill="#f07a7a" textLength="114.25" lengthAdjust="spacingAndGlyphs">positive regulation of interleukin-4 production</text>
<text x="203.00" y="210.00" font-size="4.15" fill="#e8262f" textLength="12.00" lengthAdjust="spacingAndGlyphs">SNCG</text>
<rect x="113.65" y="269.3" width="19.94999999999999" height="5.399999999999977" fill="#fff" fill-opacity="0.85"/>
<text x="114.25" y="273.50" font-size="4.62" fill="#e8262f" textLength="18.75" lengthAdjust="spacingAndGlyphs">GABBR1</text>
<text x="50.00" y="289.25" font-size="4.66" fill="#e8262f" textLength="17.00" lengthAdjust="spacingAndGlyphs">LY6G6F</text>
<text x="216.25" y="273.00" font-size="4.01" fill="#e8262f" textLength="8.25" lengthAdjust="spacingAndGlyphs">TRH</text>
<text x="242.00" y="242.25" font-size="4.37" fill="#e8262f" textLength="8.75" lengthAdjust="spacingAndGlyphs">EPX</text>
<text x="254.25" y="289.75" font-size="4.37" fill="#e8262f" textLength="17.00" lengthAdjust="spacingAndGlyphs">CD40LG</text>
<text x="207.00" y="321.00" font-size="4.43" fill="#e8262f" textLength="17.25" lengthAdjust="spacingAndGlyphs">CLEC4A</text>
<rect x="146.15" y="332.55" width="13.699999999999989" height="5.399999999999977" fill="#fff" fill-opacity="0.85"/>
<text x="146.75" y="336.75" font-size="4.41" fill="#e8262f" textLength="12.50" lengthAdjust="spacingAndGlyphs">GNG8</text>
<text x="5.50" y="355.50" font-size="4.50" fill="#e8262f" textLength="17.00" lengthAdjust="spacingAndGlyphs">ALOX12</text>
<text x="33.75" y="371.75" font-size="4.19" fill="#e8262f" textLength="13.75" lengthAdjust="spacingAndGlyphs">HTR3A</text>
<text x="68.00" y="368.00" font-size="4.42" fill="#e8262f" textLength="13.25" lengthAdjust="spacingAndGlyphs">CNIH2</text>
<rect x="96.4" y="363.8" width="17.94999999999999" height="5.399999999999977" fill="#fff" fill-opacity="0.85"/>
<text x="97.00" y="368.00" font-size="4.07" fill="#e8262f" textLength="16.75" lengthAdjust="spacingAndGlyphs">ADORA1</text>
<text x="80.00" y="383.50" font-size="4.34" fill="#e8262f" textLength="20.50" lengthAdjust="spacingAndGlyphs">CACNA1S</text>
<rect x="193.65" y="363.8" width="11.449999999999989" height="5.399999999999977" fill="#fff" fill-opacity="0.85"/>
<text x="194.25" y="368.00" font-size="4.10" fill="#e8262f" textLength="10.25" lengthAdjust="spacingAndGlyphs">SYT6</text>
<text x="192.00" y="383.50" font-size="4.36" fill="#e8262f" textLength="15.50" lengthAdjust="spacingAndGlyphs">PRKCG</text>
<text x="225.50" y="383.50" font-size="4.30" fill="#e8262f" textLength="10.75" lengthAdjust="spacingAndGlyphs">BCL3</text>
<text x="176.25" y="462.00" font-size="4.37" fill="#e8262f" textLength="16.25" lengthAdjust="spacingAndGlyphs">CACTIN</text>
<rect x="158.15" y="474.05" width="20.44999999999999" height="5.399999999999977" fill="#fff" fill-opacity="0.85"/>
<text x="158.75" y="478.25" font-size="4.50" fill="#e8262f" textLength="19.25" lengthAdjust="spacingAndGlyphs">SLC17A8</text>
<rect x="193.15" y="474.05" width="13.199999999999989" height="5.399999999999977" fill="#fff" fill-opacity="0.85"/>
<text x="193.75" y="478.25" font-size="4.41" fill="#e8262f" textLength="12.00" lengthAdjust="spacingAndGlyphs">ARG2</text>
<text x="109.25" y="509.50" font-size="4.50" fill="#e8262f" textLength="12.50" lengthAdjust="spacingAndGlyphs">RARA</text>
<text x="146.25" y="528.25" font-size="4.28" fill="#e8262f" textLength="14.50" lengthAdjust="spacingAndGlyphs">CEBPB</text>
<rect x="141" y="491.5" width="19" height="16.5" fill="#fff" fill-opacity="0.9"/>
<text x="150.30" y="495.20" font-size="3.30" fill="#111" text-anchor="middle">Transcription</text>
<text x="150.30" y="500.30" font-size="3.30" fill="#111" text-anchor="middle">Factor</text>
<text x="150.30" y="505.40" font-size="3.30" fill="#111" text-anchor="middle">Complex</text>
</g>
<g id="panelD">
<text x="293.60" y="236.90" font-size="9.20" fill="#000">D</text>
<path d="M409.80,290.50 L409.80,262.50 A85,85 0 0 1 447.10,271.12 L434.81,296.28 A57,57 0 0 0 409.80,290.50 Z" fill="#e6e6e6"/>
<path d="M409.80,283.50 A64,64 0 0 1 437.88,289.99" fill="none" stroke="#fff" stroke-width="1.1"/>
<path d="M409.80,276.50 A71,71 0 0 1 440.95,283.70" fill="none" stroke="#fff" stroke-width="1.1"/>
<path d="M409.80,269.50 A78,78 0 0 1 444.03,277.41" fill="none" stroke="#fff" stroke-width="1.1"/>
<path d="M409.80,319.20 L409.80,306.30 A41.2,41.2 0 0 1 427.88,310.48 L422.22,322.07 A28.3,28.3 0 0 0 409.80,319.20 Z" fill="#6253a5" stroke="#111" stroke-width="0.7" stroke-linejoin="miter"/>
<path d="M440.62,299.55 L455.75,275.99 A85,85 0 0 1 482.47,303.41 L458.53,317.93 A57,57 0 0 0 440.62,299.55 Z" fill="#e6e6e6"/>
<path d="M444.40,293.66 A64,64 0 0 1 464.52,314.30" fill="none" stroke="#fff" stroke-width="1.1"/>
<path d="M448.19,287.77 A71,71 0 0 1 470.50,310.67" fill="none" stroke="#fff" stroke-width="1.1"/>
<path d="M451.97,281.88 A78,78 0 0 1 476.49,307.04" fill="none" stroke="#fff" stroke-width="1.1"/>
<path d="M425.10,323.69 L431.97,313.01 A41,41 0 0 1 444.85,326.23 L434.00,332.82 A28.3,28.3 0 0 0 425.10,323.69 Z" fill="#fad8cf" stroke="#111" stroke-width="0.7" stroke-linejoin="miter"/>
<path d="M461.65,323.82 L487.12,312.19 A85,85 0 0 1 494.77,349.70 L466.78,348.97 A57,57 0 0 0 461.65,323.82 Z" fill="#e6e6e6"/>
<path d="M468.02,320.91 A64,64 0 0 1 473.78,349.16" fill="none" stroke="#fff" stroke-width="1.1"/>
<path d="M474.38,318.01 A71,71 0 0 1 480.78,349.34" fill="none" stroke="#fff" stroke-width="1.1"/>
<path d="M480.75,315.10 A78,78 0 0 1 487.77,349.52" fill="none" stroke="#fff" stroke-width="1.1"/>
<path d="M435.54,335.74 L450.19,329.06 A44.4,44.4 0 0 1 454.19,348.65 L438.09,348.23 A28.3,28.3 0 0 0 435.54,335.74 Z" fill="#f5a999" stroke="#111" stroke-width="0.7" stroke-linejoin="miter"/>
<path d="M466.22,355.61 L493.93,359.60 A85,85 0 0 1 480.09,395.29 L456.94,379.55 A57,57 0 0 0 466.22,355.61 Z" fill="#e6e6e6"/>
<path d="M473.15,356.61 A64,64 0 0 1 462.73,383.48" fill="none" stroke="#fff" stroke-width="1.1"/>
<path d="M480.08,357.60 A71,71 0 0 1 468.52,387.42" fill="none" stroke="#fff" stroke-width="1.1"/>
<path d="M487.01,358.60 A78,78 0 0 1 474.31,391.35" fill="none" stroke="#fff" stroke-width="1.1"/>
<path d="M437.81,351.53 L453.75,353.82 A44.4,44.4 0 0 1 446.52,372.46 L433.20,363.41 A28.3,28.3 0 0 0 437.81,351.53 Z" fill="#a795cf" stroke="#111" stroke-width="0.7" stroke-linejoin="miter"/>
<path d="M452.88,384.83 L474.04,403.16 A85,85 0 0 1 443.10,425.71 L432.13,399.94 A57,57 0 0 0 452.88,384.83 Z" fill="#e6e6e6"/>
<path d="M458.17,389.41 A64,64 0 0 1 434.87,406.38" fill="none" stroke="#fff" stroke-width="1.1"/>
<path d="M463.46,394.00 A71,71 0 0 1 437.61,412.82" fill="none" stroke="#fff" stroke-width="1.1"/>
<path d="M468.75,398.58 A78,78 0 0 1 440.36,419.27" fill="none" stroke="#fff" stroke-width="1.1"/>
<path d="M431.19,366.03 L442.90,376.18 A43.8,43.8 0 0 1 426.96,387.80 L420.89,373.54 A28.3,28.3 0 0 0 431.19,366.03 Z" fill="#b4a3d6" stroke="#111" stroke-width="0.7" stroke-linejoin="miter"/>
<path d="M425.86,402.19 L433.75,429.06 A85,85 0 0 1 395.53,431.29 L400.23,403.69 A57,57 0 0 0 425.86,402.19 Z" fill="#e6e6e6"/>
<path d="M427.83,408.91 A64,64 0 0 1 399.06,410.59" fill="none" stroke="#fff" stroke-width="1.1"/>
<path d="M429.80,415.62 A71,71 0 0 1 397.88,417.49" fill="none" stroke="#fff" stroke-width="1.1"/>
<path d="M431.78,422.34 A78,78 0 0 1 396.71,424.39" fill="none" stroke="#fff" stroke-width="1.1"/>
<path d="M417.77,374.65 L421.77,388.28 A42.5,42.5 0 0 1 402.67,389.40 L405.05,375.40 A28.3,28.3 0 0 0 417.77,374.65 Z" fill="#b9a9dc" stroke="#111" stroke-width="0.7" stroke-linejoin="miter"/>
<path d="M393.74,402.19 L385.85,429.06 A85,85 0 0 1 352.49,410.28 L371.37,389.60 A57,57 0 0 0 393.74,402.19 Z" fill="#e6e6e6"/>
<path d="M391.77,408.91 A64,64 0 0 1 366.65,394.77" fill="none" stroke="#fff" stroke-width="1.1"/>
<path d="M389.80,415.62 A71,71 0 0 1 361.93,399.94" fill="none" stroke="#fff" stroke-width="1.1"/>
<path d="M387.82,422.34 A78,78 0 0 1 357.21,405.11" fill="none" stroke="#fff" stroke-width="1.1"/>
<path d="M401.83,374.65 L397.69,388.76 A43,43 0 0 1 380.81,379.26 L390.72,368.40 A28.3,28.3 0 0 0 401.83,374.65 Z" fill="#7361b3" stroke="#111" stroke-width="0.7" stroke-linejoin="miter"/>
<path d="M366.72,384.83 L345.56,403.16 A85,85 0 0 1 327.65,369.33 L354.71,362.14 A57,57 0 0 0 366.72,384.83 Z" fill="#e6e6e6"/>
<path d="M361.43,389.41 A64,64 0 0 1 347.95,363.94" fill="none" stroke="#fff" stroke-width="1.1"/>
<path d="M356.14,394.00 A71,71 0 0 1 341.18,365.73" fill="none" stroke="#fff" stroke-width="1.1"/>
<path d="M350.85,398.58 A78,78 0 0 1 334.42,367.53" fill="none" stroke="#fff" stroke-width="1.1"/>
<path d="M388.41,366.03 L376.55,376.31 A44,44 0 0 1 367.28,358.80 L382.45,354.77 A28.3,28.3 0 0 0 388.41,366.03 Z" fill="#7a68b8" stroke="#111" stroke-width="0.7" stroke-linejoin="miter"/>
<path d="M353.38,355.61 L325.67,359.60 A85,85 0 0 1 328.89,321.45 L355.54,330.03 A57,57 0 0 0 353.38,355.61 Z" fill="#e6e6e6"/>
<path d="M346.45,356.61 A64,64 0 0 1 348.88,327.89" fill="none" stroke="#fff" stroke-width="1.1"/>
<path d="M339.52,357.60 A71,71 0 0 1 342.22,325.74" fill="none" stroke="#fff" stroke-width="1.1"/>
<path d="M332.59,358.60 A78,78 0 0 1 335.55,323.60" fill="none" stroke="#fff" stroke-width="1.1"/>
<path d="M381.79,351.53 L366.64,353.70 A43.6,43.6 0 0 1 368.30,334.14 L382.86,338.83 A28.3,28.3 0 0 0 381.79,351.53 Z" fill="#6f5fb2" stroke="#111" stroke-width="0.7" stroke-linejoin="miter"/>
<path d="M357.95,323.82 L332.48,312.19 A85,85 0 0 1 355.82,281.84 L373.60,303.47 A57,57 0 0 0 357.95,323.82 Z" fill="#e6e6e6"/>
<path d="M351.58,320.91 A64,64 0 0 1 369.15,298.06" fill="none" stroke="#fff" stroke-width="1.1"/>
<path d="M345.22,318.01 A71,71 0 0 1 364.71,292.66" fill="none" stroke="#fff" stroke-width="1.1"/>
<path d="M338.85,315.10 A78,78 0 0 1 360.26,287.25" fill="none" stroke="#fff" stroke-width="1.1"/>
<path d="M384.06,335.74 L370.41,329.51 A43.3,43.3 0 0 1 382.30,314.05 L391.83,325.64 A28.3,28.3 0 0 0 384.06,335.74 Z" fill="#2b4a9f" stroke="#111" stroke-width="0.7" stroke-linejoin="miter"/>
<path d="M378.98,299.55 L363.85,275.99 A85,85 0 0 1 399.88,263.08 L403.15,290.89 A57,57 0 0 0 378.98,299.55 Z" fill="#e6e6e6"/>
<path d="M375.20,293.66 A64,64 0 0 1 402.33,283.94" fill="none" stroke="#fff" stroke-width="1.1"/>
<path d="M371.41,287.77 A71,71 0 0 1 401.52,276.98" fill="none" stroke="#fff" stroke-width="1.1"/>
<path d="M367.63,281.88 A78,78 0 0 1 400.70,270.03" fill="none" stroke="#fff" stroke-width="1.1"/>
<path d="M394.50,323.69 L386.55,311.33 A43,43 0 0 1 404.78,304.79 L406.50,319.39 A28.3,28.3 0 0 0 394.50,323.69 Z" fill="#3c3d9a" stroke="#111" stroke-width="0.7" stroke-linejoin="miter"/>
<g fill="#5b8fd9" stroke="#35609f" stroke-width="0.5"><circle cx="377" cy="285.1" r="2.4"/><circle cx="379.8" cy="286" r="2.4"/><circle cx="381.7" cy="288.5" r="2.4"/><circle cx="387.7" cy="281.7" r="2.4"/><circle cx="388" cy="283.6" r="2.4"/><circle cx="397.4" cy="284.5" r="2.4"/><circle cx="360.4" cy="299.2" r="2.4"/><circle cx="362.3" cy="299.7" r="2.4"/><circle cx="354.4" cy="304.2" r="2.4"/><circle cx="355.7" cy="306.1" r="2.4"/><circle cx="357.6" cy="308" r="2.4"/><circle cx="351.6" cy="309.9" r="2.4"/><circle cx="353.5" cy="310.5" r="2.4"/><circle cx="345.9" cy="334" r="2.4"/><circle cx="344.8" cy="336.8" r="2.4"/><circle cx="343.5" cy="346.8" r="2.4"/><circle cx="343.2" cy="349.6" r="2.4"/><circle cx="418.8" cy="273.6" r="2.4"/><circle cx="424.4" cy="277.3" r="2.4"/><circle cx="425.4" cy="278.8" r="2.4"/><circle cx="446.6" cy="297.6" r="2.4"/><circle cx="454.9" cy="305.5" r="2.4"/><circle cx="469" cy="332.6" r="2.4"/><circle cx="472" cy="362.4" r="2.4"/><circle cx="469" cy="370.2" r="2.4"/><circle cx="464.8" cy="376.4" r="2.4"/><circle cx="466.5" cy="379.3" r="2.4"/><circle cx="452.8" cy="394.1" r="2.4"/><circle cx="450.3" cy="398.3" r="2.4"/><circle cx="405.8" cy="412.7" r="2.4"/><circle cx="411" cy="411.7" r="2.4"/><circle cx="420.9" cy="410.7" r="2.4"/><circle cx="347" cy="369" r="2.4"/><circle cx="352.6" cy="383" r="2.4"/><circle cx="368.3" cy="400" r="2.4"/><circle cx="370.4" cy="401.6" r="2.4"/><circle cx="376" cy="406.2" r="2.4"/><circle cx="377.6" cy="407.2" r="2.4"/><circle cx="382.2" cy="408.2" r="2.4"/><circle cx="385.3" cy="408.9" r="2.4"/></g>
<g fill="#ee2024" stroke="#a01015" stroke-width="0.5"><circle cx="330.1" cy="354.1" r="2.4"/><circle cx="456.4" cy="284.8" r="2.4"/><circle cx="458.6" cy="286.7" r="2.4"/><circle cx="480.5" cy="326.8" r="2.4"/><circle cx="482.4" cy="333.5" r="2.4"/><circle cx="486" cy="338.7" r="2.4"/><circle cx="486.5" cy="366.5" r="2.4"/><circle cx="478.7" cy="379.5" r="2.4"/><circle cx="448.2" cy="416.5" r="2.4"/><circle cx="421.4" cy="426.2" r="2.4"/><circle cx="343.3" cy="392.7" r="2.4"/><circle cx="374.3" cy="419.6" r="2.4"/><circle cx="379.1" cy="421.7" r="2.4"/></g>
<text x="428.20" y="262.90" font-size="6.45" fill="#111" font-weight="bold">Nicotine addiction</text>
<text x="497.57" y="280.70" font-size="6.45" fill="#111" font-weight="bold" text-anchor="middle">negative regulation</text>
<text x="497.57" y="287.40" font-size="6.45" fill="#111" font-weight="bold" text-anchor="middle">of tumor necrosis</text>
<text x="497.57" y="294.10" font-size="6.45" fill="#111" font-weight="bold" text-anchor="middle">factor production</text>
<text x="518.60" y="324.70" font-size="6.45" fill="#111" font-weight="bold" text-anchor="middle">positive regulation</text>
<text x="518.60" y="331.40" font-size="6.45" fill="#111" font-weight="bold" text-anchor="middle">of interleukin−4</text>
<text x="498.20" y="338.20" font-size="6.45" fill="#111" font-weight="bold">production</text>
<text x="484.50" y="375.80" font-size="6.45" fill="#111" font-weight="bold">regulation of amine</text>
<text x="494.80" y="382.50" font-size="6.45" fill="#111" font-weight="bold">transport</text>
<text x="454.90" y="411.70" font-size="6.45" fill="#111" font-weight="bold">dopamine secretion</text>
<text x="398.20" y="439.20" font-size="6.45" fill="#111" font-weight="bold">regulation of</text>
<text x="391.40" y="445.60" font-size="6.45" fill="#111" font-weight="bold">dopamine secretion</text>
<text x="324.30" y="431.70" font-size="6.45" fill="#111" font-weight="bold">neurotransmitter</text>
<text x="325.30" y="438.40" font-size="6.45" fill="#111" font-weight="bold">receptor activity</text>
<text x="288.10" y="383.40" font-size="6.45" fill="#111" font-weight="bold">chemical synaptic</text>
<text x="292.20" y="390.30" font-size="6.45" fill="#111" font-weight="bold">transmission,</text>
<text x="293.30" y="397.10" font-size="6.45" fill="#111" font-weight="bold">postsynaptic</text>
<text x="290.50" y="329.70" font-size="6.45" fill="#111" font-weight="bold">postsynaptic</text>
<text x="287.00" y="336.60" font-size="6.45" fill="#111" font-weight="bold">neurotransmitter</text>
<text x="287.00" y="343.40" font-size="6.45" fill="#111" font-weight="bold">receptor activity</text>
<text x="293.00" y="294.60" font-size="6.45" fill="#111" font-weight="bold">Serotonergic synapse</text>
<text x="332.20" y="272.90" font-size="6.45" fill="#111" font-weight="bold">GABAergic synapse</text>
<circle cx="294.7" cy="464.9" r="2.2" fill="#5b8fd9"/><circle cx="294.7" cy="475.1" r="2.2" fill="#ee2024"/>
<text x="304.80" y="467.10" font-size="6.30" fill="#111">Downregulated gene</text>
<text x="304.80" y="476.80" font-size="6.30" fill="#111">Upregulated gene</text>
<defs><linearGradient id="gz" x1="0" x2="1" y1="0" y2="0"><stop offset="0" stop-color="#27389c"/><stop offset="0.3" stop-color="#6a58b0"/><stop offset="0.55" stop-color="#bcaade"/><stop offset="0.74" stop-color="#ffffff"/><stop offset="1" stop-color="#f4a08c"/></linearGradient></defs>
<rect x="442.4" y="456.9" width="60.9" height="12.1" fill="url(#gz)"/>
<text x="459.30" y="452.60" font-size="7.54" fill="#222" textLength="26.60" lengthAdjust="spacingAndGlyphs">z−score</text>
<text x="426.70" y="477.50" font-size="6.30" fill="#222">decreasing</text>
<text x="489.00" y="477.50" font-size="6.30" fill="#222">increasing</text>
</g>
</svg></body></html>
